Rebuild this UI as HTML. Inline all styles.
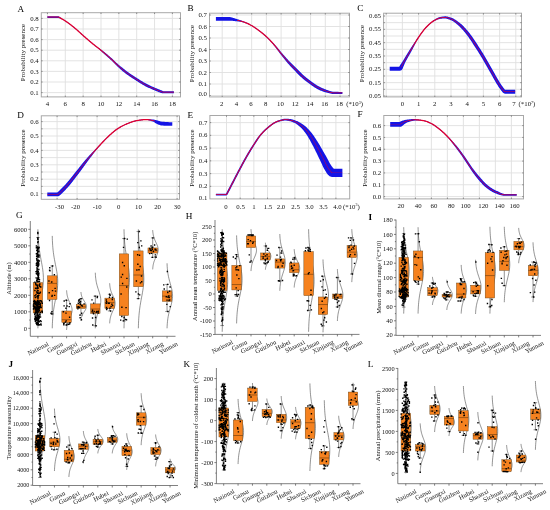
<!DOCTYPE html>
<html><head><meta charset="utf-8"><title>Figure</title>
<style>html,body{margin:0;padding:0;background:#fff;}svg{display:block;font-family:'Liberation Serif','Times New Roman',serif;}</style>
</head><body>
<svg width="550" height="510" viewBox="0 0 550 510">
<rect width="550" height="510" fill="#fff"/>
<path d="M47.45 12.7V96.9M65.3 12.7V96.9M83.15 12.7V96.9M101 12.7V96.9M118.85 12.7V96.9M136.7 12.7V96.9M154.55 12.7V96.9M172.4 12.7V96.9M41.3 92.6H180.5M41.3 82H180.5M41.3 71.4H180.5M41.3 60.8H180.5M41.3 50.2H180.5M41.3 39.6H180.5M41.3 29H180.5M41.3 18.4H180.5" stroke="#e0e0e0" stroke-width="0.9" fill="none"/>
<rect x="41.3" y="12.7" width="139.2" height="84.2" fill="none" stroke="#a8a8a8" stroke-width="1"/>
<path d="M47.45 12.7v1.3M47.45 96.9v-1.3M65.3 12.7v1.3M65.3 96.9v-1.3M83.15 12.7v1.3M83.15 96.9v-1.3M101 12.7v1.3M101 96.9v-1.3M118.85 12.7v1.3M118.85 96.9v-1.3M136.7 12.7v1.3M136.7 96.9v-1.3M154.55 12.7v1.3M154.55 96.9v-1.3M172.4 12.7v1.3M172.4 96.9v-1.3M41.3 92.6h1.3M180.5 92.6h-1.3M41.3 82h1.3M180.5 82h-1.3M41.3 71.4h1.3M180.5 71.4h-1.3M41.3 60.8h1.3M180.5 60.8h-1.3M41.3 50.2h1.3M180.5 50.2h-1.3M41.3 39.6h1.3M180.5 39.6h-1.3M41.3 29h1.3M180.5 29h-1.3M41.3 18.4h1.3M180.5 18.4h-1.3" stroke="#555" stroke-width="0.6" fill="none"/>
<polygon points="47.4,17.91 47.9,17.91 48.4,17.91 48.9,17.91 49.4,17.91 49.9,17.91 50.4,17.91 50.9,17.91 51.4,17.91 51.9,17.91 52.4,17.91 52.9,17.91 53.4,17.91 53.9,17.91 54.4,17.91 54.9,17.91 55.4,17.91 55.9,17.91 56.4,17.91 56.9,17.91 57.4,17.91 57.9,17.91 58.23,17.88 58.57,17.97 59.08,18.14 59.62,18.31 60.16,18.49 60.71,18.68 61.24,18.89 61.75,19.15 62.25,19.44 62.75,19.73 63.24,20.03 63.74,20.34 64.24,20.65 64.74,20.96 65.24,21.28 65.73,21.61 66.23,21.94 66.73,22.28 67.23,22.63 67.73,22.98 68.22,23.34 68.72,23.71 69.22,24.08 69.72,24.45 70.22,24.83 70.72,25.21 71.22,25.6 71.71,25.99 72.21,26.39 72.71,26.78 73.21,27.19 73.71,27.59 74.21,28 74.71,28.4 75.21,28.81 75.71,29.23 76.2,29.66 76.7,30.09 77.2,30.53 77.7,30.98 78.2,31.44 78.7,31.89 79.2,32.35 79.7,32.82 80.2,33.28 80.7,33.74 81.2,34.2 81.7,34.66 82.2,35.11 82.7,35.56 83.2,36 83.7,36.44 84.2,36.88 84.7,37.31 85.2,37.75 85.7,38.19 86.2,38.62 86.7,39.06 87.2,39.49 87.7,39.92 88.2,40.35 88.71,40.78 89.21,41.2 89.71,41.63 90.21,42.05 90.71,42.47 91.21,42.89 91.71,43.31 92.21,43.72 92.71,44.13 93.21,44.54 93.71,44.94 94.21,45.34 94.71,45.73 95.22,46.13 95.72,46.51 96.21,46.9 96.71,47.3 97.19,47.7 97.68,48.11 98.16,48.52 98.63,48.94 99.1,49.37 99.58,49.8 100.05,50.23 100.52,50.67 100.99,51.11 101.46,51.55 101.94,51.99 102.42,52.43 102.9,52.87 103.39,53.3 103.88,53.72 104.37,54.15 104.86,54.58 105.36,55.01 105.85,55.44 106.35,55.88 106.84,56.31 107.33,56.75 107.83,57.19 108.32,57.63 108.82,58.08 109.32,58.53 109.81,58.98 110.3,59.43 110.79,59.89 111.29,60.35 111.78,60.83 112.27,61.31 112.77,61.8 113.26,62.29 113.75,62.78 114.25,63.28 114.75,63.77 115.24,64.26 115.74,64.76 116.23,65.25 116.73,65.73 117.22,66.21 117.71,66.69 118.2,67.15 118.69,67.61 119.17,68.07 119.66,68.52 120.15,68.97 120.63,69.42 121.13,69.86 121.62,70.3 122.12,70.72 122.61,71.15 123.12,71.56 123.62,71.97 124.13,72.37 124.63,72.76 125.14,73.15 125.65,73.53 126.16,73.91 126.66,74.28 127.17,74.65 127.67,75.01 128.18,75.36 128.68,75.71 129.19,76.06 129.69,76.4 130.2,76.74 130.7,77.08 131.2,77.41 131.7,77.74 132.21,78.07 132.71,78.39 133.21,78.72 133.71,79.04 134.21,79.36 134.71,79.68 135.21,80 135.71,80.32 136.21,80.64 136.71,80.96 137.21,81.28 137.71,81.6 138.21,81.92 138.71,82.24 139.21,82.56 139.71,82.88 140.22,83.19 140.72,83.51 141.23,83.82 141.73,84.12 142.24,84.43 142.75,84.73 143.26,85.02 143.77,85.31 144.28,85.6 144.79,85.88 145.3,86.15 145.81,86.41 146.32,86.67 146.83,86.92 147.34,87.17 147.84,87.41 148.35,87.65 148.86,87.89 149.36,88.12 149.87,88.34 150.37,88.57 150.88,88.79 151.38,89.01 151.88,89.23 152.39,89.45 152.89,89.66 153.39,89.88 153.89,90.09 154.39,90.31 154.89,90.52 155.4,90.73 155.9,90.94 156.4,91.15 156.91,91.36 157.41,91.57 157.91,91.77 158.42,91.97 158.92,92.17 159.42,92.37 159.93,92.56 160.44,92.74 160.96,92.91 161.47,93.06 162.1,93.25 162.82,93.31 163.4,93.27 163.9,93.24 164.4,93.21 164.9,93.2 165.4,93.2 165.9,93.2 166.4,93.2 166.9,93.2 167.4,93.2 167.9,93.2 168.4,93.2 168.9,93.2 169.4,93.2 169.9,93.2 170.4,93.2 170.9,93.2 171.4,93.2 171.9,93.2 172.4,93.2 172.9,93.2 173.4,93.2 173.9,93.2 173.9,91.2 173.4,91.2 172.9,91.2 172.4,91.2 171.9,91.2 171.4,91.2 170.9,91.2 170.4,91.2 169.9,91.2 169.4,91.2 168.9,91.2 168.4,91.2 167.9,91.2 167.4,91.2 166.9,91.2 166.4,91.2 165.9,91.2 165.4,91.2 164.9,91.2 164.4,91.19 163.9,91.16 163.4,91.13 162.98,91.09 162.7,91 162.33,90.81 161.84,90.58 161.36,90.36 160.87,90.15 160.38,89.95 159.88,89.76 159.38,89.56 158.89,89.36 158.39,89.16 157.89,88.96 157.4,88.75 156.9,88.55 156.4,88.34 155.91,88.13 155.41,87.92 154.91,87.71 154.41,87.49 153.91,87.28 153.41,87.06 152.92,86.85 152.42,86.63 151.92,86.42 151.43,86.2 150.93,85.98 150.44,85.75 149.94,85.53 149.45,85.3 148.96,85.07 148.46,84.83 147.97,84.6 147.48,84.35 146.99,84.1 146.5,83.85 146.01,83.6 145.52,83.33 145.03,83.06 144.54,82.78 144.05,82.5 143.56,82.21 143.07,81.91 142.57,81.62 142.08,81.31 141.58,81.01 141.09,80.7 140.59,80.38 140.09,80.07 139.59,79.75 139.09,79.43 138.59,79.11 138.09,78.79 137.59,78.47 137.09,78.16 136.59,77.84 136.09,77.52 135.59,77.2 135.09,76.89 134.59,76.57 134.09,76.25 133.59,75.93 133.1,75.61 132.6,75.28 132.1,74.96 131.6,74.63 131.11,74.3 130.61,73.96 130.12,73.63 129.62,73.28 129.13,72.94 128.63,72.59 128.14,72.24 127.64,71.88 127.15,71.52 126.66,71.15 126.17,70.77 125.67,70.39 125.18,70.01 124.68,69.61 124.19,69.22 123.68,68.82 123.18,68.42 122.67,68.02 122.17,67.61 121.65,67.21 121.14,66.8 120.63,66.39 120.11,65.97 119.6,65.56 119.09,65.14 118.58,64.71 118.07,64.28 117.57,63.83 117.06,63.37 116.56,62.9 116.05,62.42 115.55,61.94 115.05,61.46 114.54,60.98 114.03,60.49 113.53,60.01 113.02,59.53 112.51,59.05 112.01,58.58 111.5,58.12 110.99,57.66 110.48,57.22 109.98,56.77 109.48,56.33 108.97,55.89 108.47,55.46 107.96,55.03 107.45,54.6 106.95,54.17 106.44,53.74 105.94,53.32 105.43,52.9 104.92,52.49 104.41,52.07 103.9,51.67 103.38,51.27 102.86,50.88 102.34,50.49 101.81,50.11 101.28,49.73 100.75,49.35 100.22,48.99 99.7,48.62 99.17,48.26 98.64,47.9 98.12,47.54 97.61,47.17 97.09,46.8 96.59,46.42 96.08,46.04 95.58,45.65 95.09,45.26 94.59,44.87 94.09,44.47 93.59,44.07 93.09,43.67 92.59,43.26 92.09,42.84 91.59,42.43 91.09,42.01 90.59,41.59 90.09,41.17 89.59,40.75 89.09,40.32 88.6,39.89 88.1,39.46 87.6,39.03 87.1,38.6 86.6,38.17 86.1,37.73 85.6,37.3 85.1,36.86 84.6,36.43 84.1,35.99 83.6,35.55 83.1,35.11 82.6,34.67 82.1,34.22 81.6,33.76 81.1,33.3 80.6,32.84 80.1,32.38 79.6,31.91 79.1,31.45 78.6,30.99 78.1,30.54 77.6,30.09 77.1,29.64 76.6,29.2 76.09,28.77 75.59,28.35 75.09,27.94 74.59,27.53 74.09,27.12 73.59,26.72 73.09,26.32 72.59,25.92 72.09,25.52 71.58,25.13 71.08,24.74 70.58,24.35 70.08,23.97 69.58,23.59 69.08,23.22 68.58,22.86 68.07,22.49 67.57,22.14 67.07,21.79 66.57,21.45 66.07,21.11 65.56,20.78 65.06,20.45 64.56,20.14 64.06,19.82 63.56,19.52 63.05,19.22 62.55,18.92 62.05,18.63 61.56,18.31 61.09,17.97 60.64,17.62 60.18,17.26 59.72,16.9 59.23,16.55 58.57,16.24 57.9,16.21 57.4,16.21 56.9,16.21 56.4,16.21 55.9,16.21 55.4,16.21 54.9,16.21 54.4,16.21 53.9,16.21 53.4,16.21 52.9,16.21 52.4,16.21 51.9,16.21 51.4,16.21 50.9,16.21 50.4,16.21 49.9,16.21 49.4,16.21 48.9,16.21 48.4,16.21 47.9,16.21 47.4,16.21" fill="#1414e6"/>
<polygon points="47.4,17.54 47.9,17.54 48.4,17.54 48.9,17.54 49.4,17.54 49.9,17.54 50.4,17.54 50.9,17.54 51.4,17.54 51.9,17.54 52.4,17.54 52.9,17.54 53.4,17.54 53.9,17.54 54.4,17.54 54.9,17.54 55.4,17.54 55.9,17.54 56.4,17.54 56.9,17.54 57.4,17.54 57.9,17.54 58.3,17.54 58.69,17.72 59.15,18 59.63,18.3 60.1,18.6 60.59,18.89 61.09,19.16 61.58,19.44 62.08,19.73 62.57,20.02 63.07,20.32 63.56,20.62 64.06,20.93 64.56,21.25 65.05,21.57 65.55,21.89 66.04,22.22 66.54,22.56 67.03,22.91 67.53,23.26 68.02,23.62 68.52,23.98 69.02,24.35 69.51,24.72 70.01,25.1 70.51,25.48 71.01,25.87 71.5,26.26 72,26.65 72.5,27.05 73,27.45 73.5,27.85 74,28.26 74.49,28.67 74.99,29.08 75.49,29.49 75.98,29.91 76.48,30.35 76.97,30.79 77.47,31.23 77.97,31.69 78.47,32.14 78.97,32.6 79.47,33.07 79.97,33.53 80.47,33.99 80.97,34.45 81.47,34.91 81.97,35.37 82.48,35.81 82.98,36.26 83.48,36.7 83.98,37.13 84.48,37.57 84.98,38.01 85.48,38.44 85.98,38.88 86.48,39.31 86.98,39.75 87.48,40.18 87.98,40.61 88.48,41.04 88.99,41.46 89.49,41.89 89.99,42.31 90.49,42.73 90.99,43.15 91.49,43.57 91.99,43.98 92.49,44.4 93,44.8 93.5,45.21 94,45.61 94.51,46 95.01,46.39 95.51,46.78 96.01,47.17 96.51,47.56 97.01,47.94 97.51,48.33 98.01,48.72 98.51,49.11 99.01,49.49 99.52,49.87 100.03,50.26 100.53,50.65 101.04,51.04 101.55,51.44 102.06,51.84 102.57,52.25 103.07,52.66 103.58,53.07 104.08,53.49 104.58,53.9 105.08,54.32 105.58,54.75 106.09,55.17 106.59,55.6 107.09,56.03 107.59,56.46 108.09,56.9 108.59,57.34 109.09,57.78 109.59,58.22 110.09,58.67 110.59,59.12 111.08,59.57 111.58,60.04 112.08,60.51 112.58,60.99 113.08,61.47 113.58,61.96 114.08,62.44 114.59,62.93 115.09,63.42 115.59,63.9 116.1,64.38 116.6,64.85 117.11,65.31 117.62,65.77 118.13,66.21 118.64,66.65 119.15,67.08 119.65,67.51 120.16,67.94 120.67,68.36 121.18,68.78 121.68,69.2 122.19,69.61 122.69,70.02 123.2,70.43 123.7,70.84 124.2,71.24 124.7,71.63 125.21,72.02 125.71,72.4 126.21,72.78 126.71,73.15 127.21,73.52 127.72,73.88 128.22,74.23 128.72,74.58 129.22,74.93 129.72,75.27 130.23,75.61 130.73,75.94 131.23,76.28 131.73,76.61 132.23,76.93 132.73,77.26 133.23,77.58 133.73,77.9 134.23,78.22 134.73,78.54 135.23,78.86 135.73,79.18 136.23,79.5 136.73,79.81 137.23,80.13 137.73,80.45 138.24,80.77 138.74,81.09 139.24,81.41 139.74,81.73 140.24,82.04 140.74,82.36 141.24,82.67 141.74,82.98 142.24,83.28 142.75,83.58 143.25,83.88 143.75,84.17 144.25,84.45 144.75,84.73 145.26,85 145.76,85.27 146.26,85.53 146.76,85.78 147.27,86.03 147.77,86.27 148.27,86.51 148.77,86.75 149.27,86.98 149.78,87.21 150.28,87.44 150.78,87.66 151.28,87.88 151.78,88.1 152.28,88.32 152.78,88.53 153.28,88.75 153.78,88.96 154.28,89.18 154.78,89.39 155.28,89.6 155.78,89.81 156.28,90.02 156.79,90.23 157.29,90.44 157.79,90.64 158.29,90.84 158.79,91.04 159.29,91.24 159.79,91.44 160.29,91.64 160.79,91.84 161.28,92.05 161.78,92.25 162.31,92.47 162.87,92.57 163.4,92.59 163.9,92.61 164.4,92.62 164.9,92.62 165.4,92.62 165.9,92.62 166.4,92.62 166.9,92.62 167.4,92.62 167.9,92.62 168.4,92.62 168.9,92.62 169.4,92.62 169.9,92.62 170.4,92.62 170.9,92.62 171.4,92.62 171.9,92.62 172.4,92.62 172.9,92.62 173.4,92.62 173.9,92.62 173.9,91.78 173.4,91.78 172.9,91.78 172.4,91.78 171.9,91.78 171.4,91.78 170.9,91.78 170.4,91.78 169.9,91.78 169.4,91.78 168.9,91.78 168.4,91.78 167.9,91.78 167.4,91.78 166.9,91.78 166.4,91.78 165.9,91.78 165.4,91.78 164.9,91.78 164.4,91.78 163.9,91.79 163.4,91.81 162.93,91.83 162.49,91.78 162.02,91.62 161.52,91.44 161.01,91.26 160.51,91.08 160.01,90.88 159.51,90.69 159.01,90.49 158.51,90.29 158.01,90.08 157.51,89.88 157.01,89.68 156.52,89.47 156.02,89.26 155.52,89.05 155.02,88.84 154.52,88.62 154.02,88.41 153.52,88.2 153.02,87.98 152.52,87.76 152.02,87.55 151.52,87.33 151.02,87.11 150.52,86.89 150.02,86.66 149.53,86.43 149.03,86.2 148.53,85.97 148.03,85.73 147.53,85.49 147.04,85.24 146.54,84.99 146.04,84.73 145.54,84.47 145.05,84.2 144.55,83.92 144.05,83.64 143.55,83.35 143.05,83.06 142.56,82.76 142.06,82.46 141.56,82.15 141.06,81.84 140.56,81.53 140.06,81.21 139.56,80.89 139.06,80.58 138.56,80.26 138.07,79.94 137.57,79.62 137.07,79.3 136.57,78.98 136.07,78.66 135.57,78.34 135.07,78.02 134.57,77.7 134.07,77.38 133.57,77.06 133.07,76.74 132.57,76.41 132.07,76.09 131.57,75.76 131.07,75.42 130.57,75.09 130.08,74.75 129.58,74.41 129.08,74.07 128.58,73.72 128.08,73.36 127.59,73 127.09,72.64 126.59,72.27 126.09,71.9 125.59,71.52 125.1,71.13 124.6,70.74 124.1,70.34 123.6,69.93 123.11,69.52 122.61,69.1 122.12,68.68 121.62,68.25 121.13,67.82 120.64,67.38 120.15,66.94 119.65,66.5 119.16,66.06 118.67,65.61 118.18,65.16 117.69,64.69 117.2,64.22 116.7,63.75 116.21,63.26 115.71,62.78 115.21,62.29 114.72,61.8 114.22,61.31 113.72,60.82 113.22,60.33 112.72,59.85 112.22,59.37 111.72,58.89 111.21,58.43 110.71,57.97 110.21,57.52 109.71,57.07 109.21,56.63 108.71,56.19 108.21,55.75 107.71,55.31 107.21,54.87 106.71,54.44 106.22,54.01 105.72,53.58 105.22,53.15 104.72,52.73 104.22,52.3 103.73,51.88 103.23,51.45 102.74,51.03 102.25,50.6 101.76,50.18 101.27,49.75 100.77,49.33 100.28,48.91 99.79,48.5 99.29,48.1 98.79,47.71 98.29,47.32 97.79,46.93 97.29,46.54 96.79,46.16 96.29,45.77 95.79,45.38 95.29,44.99 94.8,44.6 94.3,44.21 93.8,43.81 93.31,43.4 92.81,43 92.31,42.58 91.81,42.17 91.31,41.75 90.81,41.33 90.31,40.91 89.81,40.49 89.32,40.06 88.82,39.64 88.32,39.21 87.82,38.78 87.32,38.34 86.82,37.91 86.32,37.48 85.82,37.04 85.32,36.61 84.82,36.17 84.32,35.73 83.82,35.29 83.32,34.86 82.83,34.41 82.33,33.96 81.83,33.51 81.33,33.05 80.83,32.59 80.33,32.13 79.83,31.66 79.33,31.2 78.83,30.74 78.33,30.28 77.83,29.83 77.32,29.39 76.82,28.94 76.31,28.51 75.81,28.09 75.31,27.68 74.8,27.27 74.3,26.86 73.8,26.45 73.3,26.05 72.8,25.65 72.3,25.25 71.79,24.86 71.29,24.47 70.79,24.08 70.29,23.7 69.78,23.32 69.28,22.95 68.78,22.58 68.27,22.22 67.77,21.86 67.26,21.51 66.76,21.16 66.25,20.83 65.75,20.49 65.24,20.17 64.74,19.85 64.24,19.54 63.73,19.23 63.23,18.92 62.72,18.63 62.22,18.33 61.71,18.05 61.21,17.77 60.7,17.5 60.17,17.27 59.65,17.04 59.11,16.8 58.5,16.58 57.9,16.58 57.4,16.58 56.9,16.58 56.4,16.58 55.9,16.58 55.4,16.58 54.9,16.58 54.4,16.58 53.9,16.58 53.4,16.58 52.9,16.58 52.4,16.58 51.9,16.58 51.4,16.58 50.9,16.58 50.4,16.58 49.9,16.58 49.4,16.58 48.9,16.58 48.4,16.58 47.9,16.58 47.4,16.58" fill="#e4002c"/>
<text x="47.45" y="105.8" font-size="6.8" text-anchor="middle" fill="#111">4</text>
<text x="65.3" y="105.8" font-size="6.8" text-anchor="middle" fill="#111">6</text>
<text x="83.15" y="105.8" font-size="6.8" text-anchor="middle" fill="#111">8</text>
<text x="101" y="105.8" font-size="6.8" text-anchor="middle" fill="#111">10</text>
<text x="118.85" y="105.8" font-size="6.8" text-anchor="middle" fill="#111">12</text>
<text x="136.7" y="105.8" font-size="6.8" text-anchor="middle" fill="#111">14</text>
<text x="154.55" y="105.8" font-size="6.8" text-anchor="middle" fill="#111">16</text>
<text x="172.4" y="105.8" font-size="6.8" text-anchor="middle" fill="#111">18</text>
<text x="38.7" y="94.7" font-size="6.8" text-anchor="end" fill="#111">0.1</text>
<text x="38.7" y="84.1" font-size="6.8" text-anchor="end" fill="#111">0.2</text>
<text x="38.7" y="73.5" font-size="6.8" text-anchor="end" fill="#111">0.3</text>
<text x="38.7" y="62.9" font-size="6.8" text-anchor="end" fill="#111">0.4</text>
<text x="38.7" y="52.3" font-size="6.8" text-anchor="end" fill="#111">0.5</text>
<text x="38.7" y="41.7" font-size="6.8" text-anchor="end" fill="#111">0.6</text>
<text x="38.7" y="31.1" font-size="6.8" text-anchor="end" fill="#111">0.7</text>
<text x="38.7" y="20.5" font-size="6.8" text-anchor="end" fill="#111">0.8</text>
<text x="25.2" y="52.5" font-size="7" text-anchor="middle" fill="#111" transform="rotate(-90 25.2 52.5)">Probability presence</text>
<text x="17.4" y="11.6" font-size="9.2" text-anchor="start" fill="#000">A</text>
<path d="M222.2 13.2V96.9M236.93 13.2V96.9M251.66 13.2V96.9M266.39 13.2V96.9M281.12 13.2V96.9M295.85 13.2V96.9M310.58 13.2V96.9M325.31 13.2V96.9M340.04 13.2V96.9M209.5 95.5H349.5M209.5 84H349.5M209.5 72.5H349.5M209.5 61H349.5M209.5 49.5H349.5M209.5 38H349.5M209.5 26.5H349.5M209.5 15H349.5" stroke="#e0e0e0" stroke-width="0.9" fill="none"/>
<rect x="209.5" y="13.2" width="140" height="83.7" fill="none" stroke="#a8a8a8" stroke-width="1"/>
<path d="M222.2 13.2v1.3M222.2 96.9v-1.3M236.93 13.2v1.3M236.93 96.9v-1.3M251.66 13.2v1.3M251.66 96.9v-1.3M266.39 13.2v1.3M266.39 96.9v-1.3M281.12 13.2v1.3M281.12 96.9v-1.3M295.85 13.2v1.3M295.85 96.9v-1.3M310.58 13.2v1.3M310.58 96.9v-1.3M325.31 13.2v1.3M325.31 96.9v-1.3M340.04 13.2v1.3M340.04 96.9v-1.3M209.5 95.5h1.3M349.5 95.5h-1.3M209.5 84h1.3M349.5 84h-1.3M209.5 72.5h1.3M349.5 72.5h-1.3M209.5 61h1.3M349.5 61h-1.3M209.5 49.5h1.3M349.5 49.5h-1.3M209.5 38h1.3M349.5 38h-1.3M209.5 26.5h1.3M349.5 26.5h-1.3M209.5 15h1.3M349.5 15h-1.3" stroke="#555" stroke-width="0.6" fill="none"/>
<polygon points="215.9,20.7 216.4,20.7 216.9,20.7 217.4,20.7 217.9,20.7 218.4,20.7 218.9,20.7 219.4,20.7 219.9,20.7 220.4,20.7 220.9,20.7 221.4,20.7 221.9,20.7 222.4,20.7 222.9,20.7 223.4,20.7 223.9,20.7 224.4,20.7 224.9,20.7 225.4,20.7 225.9,20.7 226.4,20.7 226.9,20.7 227.4,20.7 227.89,20.7 228.35,20.7 228.8,20.7 229.25,20.71 229.71,20.71 230.18,20.72 230.65,20.74 231.13,20.76 231.62,20.79 232.11,20.82 232.61,20.86 233.11,20.91 233.61,20.96 234.11,21.02 234.62,21.08 235.14,21.14 235.65,21.2 236.17,21.25 236.68,21.3 237.19,21.34 237.69,21.4 238.2,21.45 238.7,21.52 239.2,21.59 239.71,21.67 240.21,21.76 240.71,21.85 241.21,21.95 241.72,22.05 242.22,22.16 242.72,22.28 243.23,22.41 243.73,22.54 244.23,22.69 244.73,22.85 245.23,23.02 245.73,23.2 246.22,23.4 246.72,23.61 247.22,23.83 247.73,24.05 248.23,24.28 248.73,24.52 249.23,24.77 249.73,25.02 250.23,25.28 250.73,25.54 251.23,25.81 251.73,26.08 252.22,26.37 252.72,26.67 253.21,26.98 253.71,27.3 254.21,27.63 254.7,27.97 255.2,28.31 255.7,28.66 256.19,29.01 256.69,29.37 257.19,29.73 257.69,30.09 258.19,30.45 258.69,30.82 259.18,31.19 259.68,31.57 260.18,31.95 260.68,32.34 261.17,32.73 261.67,33.13 262.17,33.53 262.66,33.94 263.16,34.35 263.66,34.77 264.15,35.2 264.65,35.63 265.14,36.07 265.64,36.52 266.14,36.97 266.63,37.43 267.13,37.91 267.62,38.39 268.12,38.89 268.61,39.39 269.1,39.91 269.59,40.43 270.08,40.96 270.57,41.5 271.06,42.05 271.54,42.61 272.03,43.17 272.51,43.74 272.99,44.31 273.47,44.89 273.95,45.47 274.43,46.07 274.91,46.69 275.39,47.32 275.87,47.95 276.34,48.6 276.82,49.25 277.3,49.9 277.78,50.55 278.27,51.2 278.75,51.85 279.23,52.5 279.72,53.14 280.21,53.77 280.69,54.39 281.18,55.01 281.66,55.63 282.14,56.26 282.62,56.88 283.11,57.5 283.59,58.12 284.07,58.73 284.56,59.34 285.04,59.95 285.53,60.55 286.02,61.15 286.51,61.74 287,62.32 287.49,62.89 287.98,63.45 288.47,64.01 288.96,64.55 289.45,65.1 289.94,65.64 290.43,66.17 290.92,66.7 291.41,67.23 291.9,67.76 292.38,68.28 292.87,68.8 293.36,69.31 293.85,69.83 294.35,70.34 294.84,70.85 295.33,71.36 295.83,71.87 296.33,72.38 296.83,72.89 297.33,73.4 297.83,73.91 298.34,74.42 298.84,74.93 299.35,75.43 299.86,75.93 300.37,76.42 300.88,76.9 301.39,77.37 301.91,77.83 302.42,78.27 302.93,78.71 303.44,79.14 303.95,79.56 304.45,79.98 304.96,80.39 305.47,80.79 305.98,81.19 306.48,81.58 306.99,81.97 307.5,82.35 308,82.73 308.51,83.11 309.02,83.48 309.52,83.84 310.02,84.2 310.52,84.57 311.02,84.93 311.53,85.29 312.03,85.65 312.54,86.01 313.05,86.36 313.56,86.71 314.07,87.05 314.59,87.39 315.11,87.72 315.63,88.04 316.15,88.35 316.68,88.64 317.2,88.93 317.72,89.19 318.23,89.45 318.74,89.71 319.26,89.95 319.77,90.19 320.29,90.43 320.8,90.65 321.32,90.86 321.84,91.07 322.36,91.27 322.88,91.46 323.4,91.64 323.92,91.81 324.44,91.98 324.96,92.13 325.48,92.28 325.99,92.43 326.51,92.57 327.02,92.71 327.53,92.84 328.05,92.98 328.57,93.1 329.08,93.23 329.6,93.35 330.11,93.46 330.63,93.57 331.14,93.68 331.66,93.79 332.17,93.89 332.79,94 333.4,93.99 333.9,93.99 334.4,93.98 334.9,93.97 335.4,93.96 335.9,93.96 336.4,93.95 336.9,93.94 337.4,93.94 337.9,93.93 338.4,93.93 338.9,93.92 339.4,93.92 339.9,93.91 340.4,93.91 340.9,93.91 341.4,93.9 341.9,93.9 342.4,93.9 342.4,91.9 341.9,91.9 341.4,91.9 340.9,91.89 340.4,91.89 339.9,91.89 339.4,91.88 338.9,91.88 338.4,91.87 337.9,91.87 337.4,91.86 336.9,91.86 336.4,91.85 335.9,91.84 335.4,91.84 334.9,91.83 334.4,91.82 333.9,91.81 333.4,91.81 333.01,91.8 332.63,91.71 332.14,91.59 331.66,91.47 331.17,91.34 330.69,91.2 330.2,91.06 329.72,90.91 329.23,90.75 328.75,90.59 328.27,90.42 327.78,90.25 327.29,90.08 326.81,89.9 326.32,89.72 325.84,89.54 325.36,89.35 324.88,89.16 324.4,88.97 323.92,88.77 323.44,88.56 322.96,88.35 322.48,88.14 322,87.92 321.51,87.7 321.03,87.47 320.54,87.24 320.06,87.01 319.57,86.77 319.08,86.52 318.6,86.27 318.12,86.02 317.65,85.75 317.17,85.47 316.69,85.17 316.21,84.87 315.73,84.55 315.24,84.23 314.75,83.89 314.26,83.55 313.77,83.2 313.27,82.85 312.78,82.49 312.28,82.13 311.78,81.77 311.28,81.41 310.78,81.05 310.29,80.69 309.8,80.33 309.3,79.96 308.81,79.58 308.32,79.21 307.82,78.82 307.33,78.44 306.84,78.05 306.35,77.65 305.85,77.25 305.36,76.84 304.87,76.42 304.38,76 303.89,75.57 303.41,75.14 302.92,74.7 302.43,74.24 301.94,73.77 301.45,73.29 300.96,72.8 300.46,72.31 299.97,71.81 299.47,71.3 298.97,70.79 298.47,70.28 297.97,69.77 297.47,69.26 296.96,68.75 296.45,68.25 295.95,67.75 295.44,67.26 294.93,66.77 294.42,66.27 293.9,65.78 293.39,65.29 292.88,64.79 292.37,64.29 291.86,63.79 291.35,63.29 290.84,62.77 290.33,62.26 289.82,61.74 289.31,61.22 288.8,60.68 288.29,60.15 287.78,59.6 287.27,59.05 286.76,58.49 286.24,57.92 285.73,57.34 285.21,56.76 284.69,56.18 284.18,55.59 283.66,55 283.14,54.41 282.62,53.82 282.11,53.22 281.59,52.63 281.08,52.04 280.57,51.44 280.05,50.82 279.53,50.21 279.02,49.59 278.5,48.96 277.98,48.34 277.46,47.72 276.93,47.1 276.41,46.49 275.89,45.89 275.37,45.29 274.85,44.71 274.33,44.14 273.81,43.59 273.29,43.04 272.77,42.49 272.26,41.95 271.74,41.42 271.23,40.89 270.72,40.36 270.21,39.84 269.7,39.33 269.19,38.82 268.68,38.32 268.18,37.82 267.67,37.34 267.17,36.86 266.66,36.4 266.16,35.94 265.66,35.49 265.15,35.05 264.65,34.62 264.14,34.19 263.64,33.77 263.14,33.36 262.63,32.95 262.13,32.55 261.63,32.15 261.12,31.76 260.62,31.37 260.12,30.99 259.62,30.62 259.11,30.24 258.61,29.87 258.11,29.51 257.61,29.15 257.11,28.79 256.61,28.43 256.1,28.08 255.6,27.73 255.1,27.38 254.59,27.04 254.09,26.71 253.59,26.39 253.08,26.07 252.58,25.77 252.07,25.48 251.57,25.19 251.07,24.92 250.57,24.64 250.07,24.37 249.57,24.1 249.07,23.84 248.57,23.58 248.07,23.32 247.58,23.07 247.08,22.83 246.58,22.6 246.07,22.37 245.57,22.15 245.07,21.93 244.57,21.72 244.07,21.52 243.57,21.33 243.08,21.14 242.58,20.96 242.08,20.78 241.59,20.6 241.09,20.43 240.59,20.26 240.09,20.1 239.6,19.94 239.1,19.78 238.6,19.62 238.11,19.46 237.61,19.3 237.12,19.14 236.63,18.99 236.15,18.83 235.66,18.68 235.18,18.52 234.69,18.36 234.19,18.21 233.69,18.05 233.19,17.9 232.69,17.74 232.18,17.59 231.67,17.45 231.15,17.32 230.62,17.2 230.09,17.09 229.55,17.01 229,16.95 228.45,16.91 227.91,16.9 227.4,16.9 226.9,16.9 226.4,16.9 225.9,16.9 225.4,16.9 224.9,16.9 224.4,16.9 223.9,16.9 223.4,16.9 222.9,16.9 222.4,16.9 221.9,16.9 221.4,16.9 220.9,16.9 220.4,16.9 219.9,16.9 219.4,16.9 218.9,16.9 218.4,16.9 217.9,16.9 217.4,16.9 216.9,16.9 216.4,16.9 215.9,16.9" fill="#1414e6"/>
<polygon points="215.9,18.8 216.4,18.8 216.9,18.8 217.4,18.8 217.9,18.8 218.4,18.8 218.9,18.8 219.4,18.8 219.9,18.8 220.4,18.8 220.9,18.8 221.4,18.8 221.9,18.8 222.4,18.8 222.9,18.8 223.4,18.8 223.9,18.8 224.4,18.8 224.9,18.8 225.4,18.8 225.9,18.8 226.4,18.8 226.9,18.8 227.4,18.8 227.9,18.8 228.4,18.8 228.9,18.82 229.4,18.86 229.9,18.9 230.4,18.96 230.9,19.03 231.4,19.11 231.9,19.19 232.4,19.28 232.9,19.38 233.4,19.48 233.9,19.59 234.4,19.69 234.9,19.8 235.4,19.91 235.9,20.02 236.4,20.12 236.9,20.22 237.32,20.72 237.81,20.84 238.3,20.97 238.8,21.1 239.29,21.23 239.78,21.37 240.27,21.51 240.76,21.65 241.26,21.8 241.75,21.95 242.24,22.11 242.73,22.27 243.22,22.44 243.71,22.61 244.19,22.79 244.68,22.97 245.17,23.17 245.65,23.38 246.15,23.59 246.64,23.8 247.13,24.03 247.62,24.26 248.12,24.5 248.61,24.75 249.11,25 249.6,25.26 250.1,25.53 250.6,25.79 251.09,26.06 251.58,26.34 252.07,26.62 252.56,26.92 253.06,27.23 253.55,27.54 254.04,27.87 254.54,28.2 255.04,28.54 255.53,28.89 256.03,29.24 256.53,29.6 257.03,29.96 257.52,30.32 258.02,30.68 258.52,31.05 259.02,31.42 259.51,31.79 260.01,32.17 260.51,32.55 261,32.94 261.5,33.34 262,33.74 262.49,34.14 262.99,34.55 263.49,34.97 263.98,35.39 264.48,35.82 264.98,36.26 265.47,36.7 265.97,37.15 266.46,37.61 266.96,38.08 267.45,38.56 267.95,39.05 268.44,39.55 268.94,40.06 269.44,40.58 269.93,41.1 270.43,41.63 270.93,42.16 271.44,42.7 271.94,43.25 272.45,43.8 272.95,44.35 273.45,44.9 273.96,45.47 274.46,46.05 274.96,46.65 275.47,47.25 275.97,47.87 276.48,48.49 276.99,49.12 277.49,49.75 278,50.38 278.51,51.01 279.02,51.64 279.53,52.27 280.03,52.88 280.54,53.49 281.05,54.09 281.56,54.7 282.06,55.3 282.57,55.9 283.08,56.5 283.59,57.1 284.09,57.7 284.6,58.29 285.11,58.88 285.62,59.46 286.13,60.04 286.64,60.61 287.14,61.17 287.65,61.72 288.16,62.27 288.67,62.81 289.17,63.34 289.68,63.87 290.18,64.4 290.69,64.92 291.19,65.44 291.69,65.95 292.19,66.46 292.69,66.97 293.19,67.48 293.7,67.98 294.2,68.49 294.7,68.99 295.2,69.49 295.7,70 296.2,70.51 296.7,71.01 297.2,71.53 297.7,72.04 298.2,72.55 298.7,73.06 299.2,73.56 299.7,74.07 300.2,74.56 300.7,75.05 301.21,75.53 301.71,76 302.21,76.46 302.71,76.91 303.22,77.35 303.72,77.78 304.22,78.2 304.72,78.62 305.22,79.03 305.72,79.44 306.22,79.84 306.73,80.23 307.23,80.62 307.73,81 308.23,81.38 308.73,81.76 309.23,82.13 309.73,82.49 310.23,82.86 310.73,83.22 311.23,83.58 311.74,83.94 312.24,84.3 312.74,84.66 313.24,85.01 313.74,85.36 314.24,85.7 314.74,86.04 315.25,86.37 315.75,86.69 316.25,87 316.76,87.29 317.26,87.58 317.77,87.85 318.27,88.11 318.77,88.36 319.28,88.61 319.78,88.85 320.28,89.09 320.78,89.32 321.29,89.54 321.79,89.76 322.29,89.97 322.79,90.18 323.3,90.38 323.8,90.57 324.3,90.76 324.8,90.94 325.31,91.11 325.81,91.28 326.31,91.45 326.81,91.61 327.31,91.77 327.81,91.93 328.31,92.09 328.81,92.24 329.31,92.39 329.81,92.54 330.31,92.67 330.81,92.81 331.32,92.93 331.82,93.05 332.32,93.17 332.86,93.28 333.4,93.28 333.9,93.29 334.4,93.29 334.9,93.29 335.4,93.29 335.9,93.3 336.4,93.3 336.9,93.3 337.4,93.3 337.9,93.31 338.4,93.31 338.9,93.31 339.4,93.31 339.9,93.31 340.4,93.32 340.9,93.32 341.4,93.32 341.9,93.32 342.4,93.32 342.4,92.48 341.9,92.48 341.4,92.48 340.9,92.48 340.4,92.48 339.9,92.49 339.4,92.49 338.9,92.49 338.4,92.49 337.9,92.49 337.4,92.5 336.9,92.5 336.4,92.5 335.9,92.5 335.4,92.51 334.9,92.51 334.4,92.51 333.9,92.51 333.4,92.52 332.94,92.52 332.48,92.43 331.98,92.33 331.48,92.22 330.99,92.11 330.49,91.99 329.99,91.87 329.49,91.74 328.99,91.61 328.49,91.47 327.99,91.33 327.49,91.19 326.99,91.04 326.49,90.88 325.99,90.72 325.49,90.56 325,90.39 324.5,90.21 324,90.03 323.5,89.84 323.01,89.65 322.51,89.45 322.01,89.24 321.51,89.03 321.02,88.8 320.52,88.58 320.02,88.34 319.52,88.1 319.03,87.86 318.53,87.61 318.03,87.35 317.54,87.08 317.04,86.8 316.55,86.51 316.05,86.21 315.55,85.89 315.06,85.57 314.56,85.23 314.06,84.89 313.56,84.55 313.06,84.2 312.56,83.84 312.06,83.48 311.57,83.12 311.07,82.76 310.57,82.4 310.07,82.04 309.57,81.67 309.07,81.3 308.57,80.93 308.07,80.55 307.57,80.17 307.07,79.78 306.58,79.39 306.08,79 305.58,78.59 305.08,78.18 304.58,77.77 304.08,77.35 303.58,76.92 303.09,76.49 302.59,76.04 302.09,75.59 301.59,75.12 301.1,74.65 300.6,74.16 300.1,73.67 299.6,73.17 299.1,72.66 298.6,72.15 298.1,71.64 297.6,71.13 297.1,70.62 296.6,70.11 296.1,69.6 295.6,69.1 295.1,68.59 294.6,68.09 294.1,67.58 293.61,67.07 293.11,66.57 292.61,66.06 292.11,65.54 291.61,65.03 291.11,64.51 290.62,63.99 290.12,63.46 289.63,62.92 289.13,62.38 288.64,61.83 288.15,61.28 287.66,60.71 287.16,60.14 286.67,59.56 286.18,58.98 285.69,58.39 285.2,57.79 284.71,57.19 284.21,56.58 283.72,55.97 283.23,55.36 282.74,54.75 282.24,54.13 281.75,53.52 281.26,52.91 280.77,52.29 280.27,51.67 279.78,51.04 279.29,50.4 278.8,49.76 278.31,49.11 277.81,48.47 277.32,47.82 276.83,47.19 276.33,46.55 275.84,45.93 275.34,45.31 274.84,44.71 274.35,44.12 273.85,43.55 273.35,42.98 272.86,42.42 272.36,41.86 271.87,41.31 271.37,40.76 270.87,40.22 270.36,39.69 269.86,39.17 269.36,38.66 268.85,38.15 268.35,37.65 267.84,37.16 267.34,36.68 266.83,36.21 266.33,35.75 265.82,35.3 265.32,34.86 264.82,34.42 264.31,33.99 263.81,33.57 263.31,33.15 262.8,32.74 262.3,32.34 261.8,31.94 261.29,31.54 260.79,31.15 260.29,30.77 259.78,30.39 259.28,30.02 258.78,29.65 258.28,29.28 257.77,28.92 257.27,28.56 256.77,28.2 256.27,27.84 255.76,27.49 255.26,27.15 254.76,26.8 254.25,26.47 253.74,26.14 253.24,25.83 252.73,25.52 252.22,25.22 251.71,24.94 251.2,24.67 250.7,24.4 250.2,24.13 249.69,23.87 249.19,23.61 248.68,23.36 248.18,23.11 247.67,22.87 247.16,22.64 246.65,22.41 246.15,22.2 245.63,21.99 245.12,21.8 244.61,21.63 244.09,21.46 243.58,21.3 243.07,21.16 242.56,21.02 242.05,20.88 241.54,20.76 241.04,20.63 240.53,20.52 240.02,20.4 239.51,20.3 239,20.2 238.5,20.1 237.99,20.01 237.48,19.93 236.9,20.22 236.4,20.12 235.9,20.02 235.4,19.91 234.9,19.8 234.4,19.69 233.9,19.59 233.4,19.48 232.9,19.38 232.4,19.28 231.9,19.19 231.4,19.11 230.9,19.03 230.4,18.96 229.9,18.9 229.4,18.86 228.9,18.82 228.4,18.8 227.9,18.8 227.4,18.8 226.9,18.8 226.4,18.8 225.9,18.8 225.4,18.8 224.9,18.8 224.4,18.8 223.9,18.8 223.4,18.8 222.9,18.8 222.4,18.8 221.9,18.8 221.4,18.8 220.9,18.8 220.4,18.8 219.9,18.8 219.4,18.8 218.9,18.8 218.4,18.8 217.9,18.8 217.4,18.8 216.9,18.8 216.4,18.8 215.9,18.8" fill="#e4002c"/>
<text x="221.6" y="105.9" font-size="6.8" text-anchor="middle" fill="#111">2</text>
<text x="236.33" y="105.9" font-size="6.8" text-anchor="middle" fill="#111">4</text>
<text x="251.06" y="105.9" font-size="6.8" text-anchor="middle" fill="#111">6</text>
<text x="265.79" y="105.9" font-size="6.8" text-anchor="middle" fill="#111">8</text>
<text x="280.52" y="105.9" font-size="6.8" text-anchor="middle" fill="#111">10</text>
<text x="295.25" y="105.9" font-size="6.8" text-anchor="middle" fill="#111">12</text>
<text x="309.98" y="105.9" font-size="6.8" text-anchor="middle" fill="#111">14</text>
<text x="324.71" y="105.9" font-size="6.8" text-anchor="middle" fill="#111">16</text>
<text x="339.44" y="105.9" font-size="6.8" text-anchor="middle" fill="#111">18</text>
<text x="206.9" y="96.4" font-size="6.8" text-anchor="end" fill="#111">0.0</text>
<text x="206.9" y="86.1" font-size="6.8" text-anchor="end" fill="#111">0.1</text>
<text x="206.9" y="74.6" font-size="6.8" text-anchor="end" fill="#111">0.2</text>
<text x="206.9" y="63.1" font-size="6.8" text-anchor="end" fill="#111">0.3</text>
<text x="206.9" y="51.6" font-size="6.8" text-anchor="end" fill="#111">0.4</text>
<text x="206.9" y="40.1" font-size="6.8" text-anchor="end" fill="#111">0.5</text>
<text x="206.9" y="28.6" font-size="6.8" text-anchor="end" fill="#111">0.6</text>
<text x="206.9" y="17.1" font-size="6.8" text-anchor="end" fill="#111">0.7</text>
<text x="346.2" y="105.9" font-size="6.8" text-anchor="start" fill="#111">(*10<tspan font-size="4" dy="-2.2">3</tspan><tspan dy="2.2">)</tspan></text>
<text x="193.6" y="53.5" font-size="7" text-anchor="middle" fill="#111" transform="rotate(-90 193.6 53.5)">Probability presence</text>
<text x="187.6" y="11.2" font-size="9.2" text-anchor="start" fill="#000">B</text>
<path d="M386.2 13.2V96.9M402.4 13.2V96.9M418.6 13.2V96.9M434.8 13.2V96.9M451 13.2V96.9M467.2 13.2V96.9M483.4 13.2V96.9M499.6 13.2V96.9M515.8 13.2V96.9M383.6 95.98H521.5M383.6 89.32H521.5M383.6 82.65H521.5M383.6 75.99H521.5M383.6 69.32H521.5M383.6 62.66H521.5M383.6 55.99H521.5M383.6 49.33H521.5M383.6 42.66H521.5M383.6 36H521.5M383.6 29.33H521.5M383.6 22.67H521.5M383.6 16H521.5" stroke="#e0e0e0" stroke-width="0.9" fill="none"/>
<rect x="383.6" y="13.2" width="137.9" height="83.7" fill="none" stroke="#a8a8a8" stroke-width="1"/>
<path d="M386.2 13.2v1.3M386.2 96.9v-1.3M402.4 13.2v1.3M402.4 96.9v-1.3M418.6 13.2v1.3M418.6 96.9v-1.3M434.8 13.2v1.3M434.8 96.9v-1.3M451 13.2v1.3M451 96.9v-1.3M467.2 13.2v1.3M467.2 96.9v-1.3M483.4 13.2v1.3M483.4 96.9v-1.3M499.6 13.2v1.3M499.6 96.9v-1.3M515.8 13.2v1.3M515.8 96.9v-1.3M383.6 95.98h1.3M521.5 95.98h-1.3M383.6 89.32h1.3M521.5 89.32h-1.3M383.6 82.65h1.3M521.5 82.65h-1.3M383.6 75.99h1.3M521.5 75.99h-1.3M383.6 69.32h1.3M521.5 69.32h-1.3M383.6 62.66h1.3M521.5 62.66h-1.3M383.6 55.99h1.3M521.5 55.99h-1.3M383.6 49.33h1.3M521.5 49.33h-1.3M383.6 42.66h1.3M521.5 42.66h-1.3M383.6 36h1.3M521.5 36h-1.3M383.6 29.33h1.3M521.5 29.33h-1.3M383.6 22.67h1.3M521.5 22.67h-1.3M383.6 16h1.3M521.5 16h-1.3" stroke="#555" stroke-width="0.6" fill="none"/>
<polygon points="389.7,70.8 390.2,70.8 390.7,70.8 391.2,70.8 391.7,70.8 392.2,70.8 392.7,70.8 393.2,70.8 393.7,70.8 394.2,70.8 394.7,70.8 395.2,70.8 395.7,70.8 396.2,70.8 396.7,70.8 397.2,70.8 397.7,70.8 398.2,70.8 398.7,70.8 399.2,70.8 399.7,70.8 401.45,70.36 402.43,68.97 402.91,67.88 403.33,66.87 403.72,65.88 404.12,64.91 404.52,63.96 404.95,63.02 405.41,62.11 405.88,61.22 406.35,60.34 406.83,59.46 407.31,58.59 407.79,57.73 408.28,56.87 408.76,56.02 409.25,55.17 409.73,54.31 410.22,53.46 410.7,52.6 411.19,51.74 411.66,50.87 412.14,49.99 412.61,49.11 413.07,48.23 413.52,47.34 413.97,46.45 414.42,45.56 414.86,44.68 415.31,43.81 415.76,42.95 416.21,42.09 416.67,41.26 417.14,40.44 417.61,39.64 418.09,38.85 418.56,38.09 419.04,37.34 419.52,36.59 420.01,35.85 420.5,35.12 420.99,34.4 421.49,33.69 421.98,32.99 422.48,32.31 422.98,31.64 423.48,30.99 423.98,30.35 424.47,29.74 424.97,29.16 425.47,28.59 425.96,28.06 426.46,27.54 426.96,27.04 427.46,26.54 427.96,26.04 428.46,25.56 428.96,25.09 429.46,24.62 429.96,24.18 430.46,23.74 430.96,23.32 431.45,22.91 431.95,22.53 432.46,22.16 432.96,21.82 433.46,21.5 433.97,21.21 434.47,20.94 434.97,20.69 435.48,20.46 435.99,20.23 436.5,20.01 437,19.8 437.5,19.61 438,19.43 438.48,19.28 438.96,19.14 439.43,19.02 439.9,18.93 440.37,18.85 440.87,18.78 441.36,18.71 441.85,18.64 442.34,18.58 442.82,18.53 443.3,18.49 443.78,18.46 444.24,18.45 444.7,18.45 445.15,18.47 445.59,18.52 446.04,18.59 446.49,18.68 446.95,18.8 447.41,18.92 447.88,19.07 448.35,19.23 448.83,19.4 449.31,19.58 449.8,19.76 450.29,19.95 450.78,20.14 451.23,20.33 451.68,20.53 452.13,20.77 452.59,21.03 453.05,21.31 453.51,21.61 453.98,21.93 454.45,22.27 454.92,22.62 455.4,22.99 455.88,23.37 456.36,23.77 456.84,24.17 457.33,24.58 457.82,25 458.31,25.42 458.78,25.83 459.25,26.25 459.72,26.7 460.19,27.16 460.67,27.64 461.14,28.13 461.62,28.65 462.1,29.17 462.58,29.71 463.06,30.27 463.55,30.83 464.03,31.41 464.52,31.99 465.01,32.59 465.49,33.19 465.98,33.79 466.46,34.4 466.94,35.03 467.43,35.67 467.91,36.34 468.4,37.02 468.89,37.71 469.38,38.42 469.87,39.14 470.37,39.87 470.86,40.61 471.36,41.36 471.85,42.11 472.35,42.87 472.85,43.63 473.35,44.39 473.85,45.14 474.34,45.9 474.84,46.66 475.34,47.42 475.83,48.19 476.33,48.96 476.83,49.74 477.32,50.52 477.82,51.31 478.32,52.1 478.81,52.9 479.31,53.7 479.81,54.51 480.3,55.32 480.8,56.13 481.3,56.95 481.8,57.78 482.29,58.61 482.79,59.44 483.28,60.29 483.78,61.14 484.28,62.01 484.77,62.88 485.27,63.76 485.77,64.64 486.27,65.53 486.77,66.42 487.27,67.31 487.77,68.2 488.27,69.09 488.77,69.97 489.27,70.85 489.77,71.72 490.27,72.59 490.77,73.46 491.26,74.34 491.76,75.23 492.26,76.12 492.76,77.01 493.26,77.91 493.76,78.8 494.26,79.69 494.76,80.57 495.26,81.44 495.77,82.3 496.27,83.15 496.78,83.99 497.29,84.81 497.79,85.61 498.31,86.39 498.82,87.14 499.33,87.88 499.83,88.6 500.34,89.3 500.85,89.98 501.36,90.64 501.87,91.3 502.35,91.96 503.03,92.84 504.26,93.53 505.2,93.65 505.7,93.69 506.2,93.7 506.7,93.7 507.2,93.7 507.7,93.7 508.2,93.7 508.7,93.7 509.2,93.7 509.7,93.7 510.2,93.7 510.7,93.7 511.2,93.7 511.7,93.7 512.2,93.7 512.7,93.7 513.2,93.7 513.7,93.7 514.2,93.7 514.7,93.7 515.2,93.7 515.2,89.7 514.7,89.7 514.2,89.7 513.7,89.7 513.2,89.7 512.7,89.7 512.2,89.7 511.7,89.7 511.2,89.7 510.7,89.7 510.2,89.7 509.7,89.7 509.2,89.7 508.7,89.7 508.2,89.7 507.7,89.7 507.2,89.7 506.7,89.7 506.2,89.7 505.7,89.71 505.2,89.75 505.14,89.87 505.37,90.08 505.05,89.75 504.53,89.17 504.04,88.56 503.55,87.93 503.06,87.28 502.57,86.62 502.07,85.94 501.58,85.24 501.09,84.52 500.61,83.78 500.11,83.02 499.62,82.23 499.13,81.43 498.63,80.6 498.14,79.76 497.64,78.91 497.14,78.04 496.64,77.17 496.14,76.28 495.64,75.4 495.14,74.5 494.64,73.61 494.14,72.72 493.63,71.83 493.13,70.95 492.63,70.08 492.13,69.21 491.63,68.34 491.13,67.47 490.63,66.58 490.13,65.7 489.63,64.81 489.13,63.92 488.63,63.03 488.13,62.14 487.63,61.26 487.12,60.38 486.62,59.5 486.12,58.64 485.61,57.78 485.11,56.93 484.6,56.09 484.1,55.26 483.6,54.43 483.1,53.61 482.59,52.79 482.09,51.98 481.59,51.17 481.08,50.37 480.58,49.57 480.08,48.77 479.57,47.98 479.07,47.2 478.57,46.42 478.06,45.64 477.56,44.87 477.06,44.11 476.55,43.35 476.05,42.6 475.55,41.84 475.05,41.09 474.55,40.33 474.04,39.57 473.54,38.82 473.03,38.07 472.53,37.33 472.02,36.6 471.51,35.87 471,35.16 470.49,34.45 469.97,33.77 469.46,33.09 468.94,32.44 468.42,31.81 467.91,31.2 467.39,30.59 466.88,30 466.37,29.41 465.85,28.83 465.34,28.25 464.82,27.69 464.3,27.14 463.78,26.6 463.26,26.07 462.73,25.56 462.21,25.06 461.68,24.58 461.15,24.12 460.62,23.67 460.09,23.25 459.58,22.85 459.07,22.45 458.56,22.05 458.04,21.65 457.52,21.26 457,20.87 456.48,20.5 455.95,20.13 455.42,19.78 454.89,19.45 454.35,19.13 453.81,18.83 453.27,18.55 452.72,18.29 452.17,18.06 451.62,17.86 451.11,17.69 450.6,17.52 450.09,17.35 449.57,17.18 449.05,17.02 448.52,16.88 447.99,16.74 447.45,16.62 446.91,16.51 446.36,16.43 445.81,16.37 445.25,16.34 444.7,16.35 444.16,16.38 443.62,16.42 443.1,16.49 442.58,16.56 442.06,16.65 441.55,16.75 441.04,16.85 440.53,16.96 440.03,17.07 439.5,17.2 438.97,17.36 438.44,17.55 437.92,17.76 437.4,18 436.9,18.26 436.4,18.53 435.9,18.81 435.41,19.11 434.92,19.4 434.43,19.71 433.93,20.02 433.43,20.36 432.94,20.72 432.44,21.09 431.94,21.48 431.45,21.88 430.95,22.29 430.44,22.71 429.94,23.15 429.44,23.6 428.94,24.06 428.44,24.53 427.94,25.02 427.44,25.51 426.94,26.01 426.44,26.52 425.94,27.04 425.44,27.56 424.93,28.11 424.43,28.69 423.93,29.29 423.42,29.91 422.92,30.55 422.42,31.21 421.92,31.89 421.42,32.58 420.91,33.28 420.41,34 419.9,34.71 419.39,35.43 418.88,36.15 418.36,36.87 417.84,37.6 417.31,38.35 416.79,39.11 416.26,39.89 415.73,40.67 415.19,41.47 414.64,42.27 414.09,43.08 413.54,43.9 412.98,44.72 412.43,45.55 411.88,46.39 411.33,47.22 410.79,48.06 410.26,48.9 409.74,49.74 409.21,50.58 408.7,51.42 408.18,52.25 407.67,53.09 407.15,53.93 406.64,54.76 406.12,55.61 405.61,56.45 405.09,57.3 404.57,58.15 404.05,59.01 403.52,59.88 402.99,60.75 402.45,61.63 401.88,62.5 401.28,63.38 400.68,64.27 400.07,65.19 399.49,66.14 398.97,67.03 398.95,67.24 399.7,66.8 399.2,66.8 398.7,66.8 398.2,66.8 397.7,66.8 397.2,66.8 396.7,66.8 396.2,66.8 395.7,66.8 395.2,66.8 394.7,66.8 394.2,66.8 393.7,66.8 393.2,66.8 392.7,66.8 392.2,66.8 391.7,66.8 391.2,66.8 390.7,66.8 390.2,66.8 389.7,66.8" fill="#1414e6"/>
<polygon points="389.7,68.8 390.2,68.8 390.7,68.8 391.2,68.8 391.7,68.8 392.2,68.8 392.7,68.8 393.2,68.8 393.7,68.8 394.2,68.8 394.7,68.8 395.2,68.8 395.7,68.8 396.2,68.8 396.7,68.8 397.2,68.8 397.7,68.8 398.2,68.8 398.7,68.8 399.2,68.8 399.7,68.8 400.2,68.8 400.7,68 401.42,67.12 401.92,66.15 402.43,65.2 402.94,64.27 403.45,63.37 403.95,62.47 404.45,61.58 404.96,60.7 405.46,59.82 405.96,58.96 406.46,58.1 406.97,57.25 407.48,56.4 407.98,55.56 408.49,54.71 408.99,53.87 409.5,53.03 410,52.19 410.51,51.34 411.02,50.49 411.53,49.64 412.05,48.79 412.56,47.93 413.08,47.08 413.6,46.23 414.12,45.39 414.64,44.55 415.16,43.72 415.68,42.9 416.2,42.08 416.71,41.28 417.22,40.49 417.73,39.71 418.23,38.95 418.73,38.2 419.23,37.47 419.73,36.73 420.23,36 420.73,35.28 421.22,34.56 421.72,33.86 422.22,33.16 422.72,32.48 423.21,31.81 423.71,31.16 424.2,30.53 424.69,29.92 425.19,29.34 425.68,28.78 426.17,28.25 426.66,27.74 427.16,27.23 427.65,26.73 428.15,26.23 428.64,25.75 429.14,25.27 429.63,24.81 430.13,24.36 430.62,23.93 431.11,23.5 431.6,23.1 432.09,22.7 432.58,22.33 433.07,21.98 433.55,21.63 434.03,21.31 434.51,21.01 434.99,20.72 435.47,20.44 435.96,20.17 436.45,19.91 436.93,19.65 437.41,19.41 437.9,19.19 438.37,18.99 438.85,18.8 439.33,18.65 439.8,18.52 440.29,18.41 440.78,18.31 441.28,18.21 441.77,18.12 442.26,18.04 442.75,17.97 443.24,17.9 443.73,17.85 444.22,17.82 444.7,17.8 445.18,17.8 445.66,17.83 446.14,17.89 446.63,17.97 447.12,18.07 447.61,18.19 448.1,18.32 448.59,18.47 449.09,18.63 449.59,18.79 450.08,18.96 450.59,19.14 451.08,19.31 451.57,19.5 452.06,19.71 452.55,19.94 453.05,20.2 453.54,20.48 454.03,20.79 454.53,21.11 455.03,21.45 455.52,21.8 456.02,22.17 456.52,22.55 457.02,22.94 457.52,23.34 458.01,23.74 458.51,24.15 459.01,24.56 459.51,24.97 460.01,25.4 460.5,25.85 461,26.32 461.5,26.8 462,27.3 462.49,27.82 462.99,28.35 463.49,28.89 463.99,29.45 464.49,30.01 464.99,30.59 465.49,31.18 465.99,31.77 466.49,32.37 466.99,32.97 467.48,33.59 467.98,34.23 468.48,34.88 468.98,35.56 469.48,36.25 469.98,36.95 470.48,37.66 470.97,38.39 471.47,39.13 471.97,39.87 472.47,40.62 472.97,41.37 473.47,42.13 473.97,42.89 474.47,43.64 474.97,44.4 475.47,45.15 475.97,45.91 476.47,46.68 476.97,47.45 477.47,48.22 477.97,49 478.47,49.79 478.97,50.58 479.47,51.38 479.97,52.18 480.47,52.98 480.97,53.79 481.47,54.6 481.97,55.42 482.47,56.25 482.97,57.07 483.47,57.91 483.97,58.75 484.47,59.6 484.97,60.46 485.47,61.33 485.97,62.2 486.47,63.08 486.97,63.97 487.47,64.86 487.97,65.75 488.47,66.64 488.97,67.52 489.47,68.41 489.97,69.29 490.47,70.17 490.97,71.03 491.47,71.9 491.97,72.78 492.47,73.66 492.97,74.55 493.47,75.44 493.97,76.34 494.47,77.23 494.97,78.11 495.47,79 495.97,79.87 496.47,80.74 496.97,81.59 497.47,82.43 497.97,83.25 498.47,84.06 498.98,84.84 499.48,85.6 499.98,86.34 500.48,87.06 500.98,87.76 501.49,88.45 501.99,89.11 502.49,89.76 502.99,90.4 503.5,91.02 504.04,91.66 504.64,91.94 505.2,91.94 505.7,91.94 506.2,91.94 506.7,91.94 507.2,91.94 507.7,91.94 508.2,91.94 508.7,91.94 509.2,91.94 509.7,91.94 510.2,91.94 510.7,91.94 511.2,91.94 511.7,91.94 512.2,91.94 512.7,91.94 513.2,91.94 513.7,91.94 514.2,91.94 514.7,91.94 515.2,91.94 515.2,91.46 514.7,91.46 514.2,91.46 513.7,91.46 513.2,91.46 512.7,91.46 512.2,91.46 511.7,91.46 511.2,91.46 510.7,91.46 510.2,91.46 509.7,91.46 509.2,91.46 508.7,91.46 508.2,91.46 507.7,91.46 507.2,91.46 506.7,91.46 506.2,91.46 505.7,91.46 505.2,91.46 504.76,91.46 504.36,91.27 503.9,90.69 503.41,90.07 502.91,89.44 502.41,88.79 501.91,88.13 501.42,87.45 500.92,86.75 500.42,86.04 499.92,85.31 499.42,84.55 498.93,83.77 498.43,82.97 497.93,82.15 497.43,81.32 496.93,80.47 496.43,79.6 495.93,78.73 495.43,77.85 494.93,76.96 494.43,76.07 493.93,75.18 493.43,74.29 492.93,73.4 492.43,72.51 491.93,71.64 491.43,70.77 490.93,69.9 490.43,69.02 489.93,68.14 489.43,67.26 488.93,66.37 488.43,65.48 487.93,64.59 487.43,63.71 486.93,62.82 486.43,61.94 485.93,61.06 485.43,60.19 484.93,59.33 484.43,58.47 483.93,57.63 483.43,56.8 482.93,55.97 482.43,55.14 481.93,54.32 481.43,53.51 480.93,52.7 480.43,51.89 479.93,51.09 479.43,50.29 478.93,49.5 478.43,48.71 477.93,47.93 477.43,47.15 476.93,46.38 476.43,45.62 475.93,44.86 475.43,44.1 474.93,43.34 474.43,42.59 473.93,41.83 473.43,41.07 472.93,40.32 472.43,39.57 471.93,38.82 471.43,38.08 470.92,37.35 470.42,36.63 469.92,35.93 469.42,35.23 468.92,34.56 468.42,33.89 467.92,33.25 467.41,32.63 466.91,32.02 466.41,31.41 465.91,30.82 465.41,30.23 464.91,29.65 464.41,29.07 463.91,28.51 463.41,27.96 462.91,27.43 462.4,26.9 461.9,26.4 461.4,25.9 460.9,25.43 460.39,24.97 459.89,24.53 459.39,24.11 458.89,23.7 458.39,23.29 457.88,22.88 457.38,22.48 456.88,22.08 456.38,21.69 455.88,21.32 455.37,20.96 454.87,20.6 454.37,20.27 453.86,19.95 453.35,19.65 452.85,19.37 452.34,19.12 451.83,18.89 451.32,18.69 450.81,18.5 450.32,18.32 449.81,18.13 449.31,17.96 448.81,17.79 448.3,17.62 447.79,17.48 447.28,17.34 446.77,17.23 446.26,17.13 445.74,17.06 445.22,17.02 444.7,17 444.18,17.01 443.67,17.03 443.16,17.07 442.65,17.13 442.14,17.19 441.63,17.26 441.12,17.34 440.62,17.43 440.11,17.51 439.6,17.61 439.07,17.73 438.55,17.88 438.03,18.05 437.5,18.25 436.99,18.46 436.47,18.68 435.95,18.92 435.44,19.16 434.93,19.42 434.41,19.68 433.89,19.96 433.37,20.26 432.85,20.59 432.33,20.93 431.82,21.31 431.31,21.7 430.8,22.1 430.29,22.52 429.78,22.96 429.27,23.41 428.77,23.87 428.26,24.35 427.76,24.83 427.25,25.32 426.75,25.82 426.24,26.33 425.74,26.84 425.23,27.37 424.72,27.92 424.21,28.51 423.71,29.11 423.2,29.73 422.69,30.38 422.19,31.04 421.68,31.72 421.18,32.41 420.68,33.12 420.18,33.83 419.67,34.55 419.17,35.28 418.67,36.01 418.17,36.75 417.67,37.49 417.17,38.25 416.67,39.04 416.18,39.84 415.69,40.65 415.2,41.48 414.72,42.32 414.24,43.17 413.76,44.03 413.28,44.9 412.8,45.77 412.32,46.64 411.84,47.51 411.35,48.39 410.87,49.25 410.38,50.12 409.89,50.98 409.4,51.83 408.9,52.68 408.41,53.53 407.91,54.38 407.42,55.23 406.92,56.08 406.43,56.93 405.94,57.79 405.44,58.66 404.94,59.53 404.44,60.4 403.95,61.29 403.45,62.19 402.95,63.09 402.46,64.01 401.97,64.95 401.48,65.91 400.98,66.9 400.7,68 400.2,68.8 399.7,68.8 399.2,68.8 398.7,68.8 398.2,68.8 397.7,68.8 397.2,68.8 396.7,68.8 396.2,68.8 395.7,68.8 395.2,68.8 394.7,68.8 394.2,68.8 393.7,68.8 393.2,68.8 392.7,68.8 392.2,68.8 391.7,68.8 391.2,68.8 390.7,68.8 390.2,68.8 389.7,68.8" fill="#e4002c"/>
<text x="402.4" y="105.9" font-size="6.8" text-anchor="middle" fill="#111">0</text>
<text x="418.6" y="105.9" font-size="6.8" text-anchor="middle" fill="#111">1</text>
<text x="434.8" y="105.9" font-size="6.8" text-anchor="middle" fill="#111">2</text>
<text x="451" y="105.9" font-size="6.8" text-anchor="middle" fill="#111">3</text>
<text x="467.2" y="105.9" font-size="6.8" text-anchor="middle" fill="#111">4</text>
<text x="483.4" y="105.9" font-size="6.8" text-anchor="middle" fill="#111">5</text>
<text x="499.6" y="105.9" font-size="6.8" text-anchor="middle" fill="#111">6</text>
<text x="514" y="105.9" font-size="6.8" text-anchor="middle" fill="#111">7</text>
<text x="381" y="98.08" font-size="6.8" text-anchor="end" fill="#111">0.05</text>
<text x="381" y="84.75" font-size="6.8" text-anchor="end" fill="#111">0.15</text>
<text x="381" y="71.42" font-size="6.8" text-anchor="end" fill="#111">0.25</text>
<text x="381" y="58.09" font-size="6.8" text-anchor="end" fill="#111">0.35</text>
<text x="381" y="44.76" font-size="6.8" text-anchor="end" fill="#111">0.45</text>
<text x="381" y="31.43" font-size="6.8" text-anchor="end" fill="#111">0.55</text>
<text x="381" y="18.1" font-size="6.8" text-anchor="end" fill="#111">0.65</text>
<text x="518.6" y="105.9" font-size="6.8" text-anchor="start" fill="#111">(*10<tspan font-size="4" dy="-2.2">7</tspan><tspan dy="2.2">)</tspan></text>
<text x="364.4" y="53.5" font-size="7" text-anchor="middle" fill="#111" transform="rotate(-90 364.4 53.5)">Probability presence</text>
<text x="357.2" y="11.2" font-size="9.2" text-anchor="start" fill="#000">C</text>
<path d="M57.1 115.8V199.3M77.1 115.8V199.3M97.1 115.8V199.3M117.1 115.8V199.3M137.1 115.8V199.3M157.1 115.8V199.3M177.1 115.8V199.3M41.3 193.6H179.5M41.3 186.4H179.5M41.3 179.2H179.5M41.3 172H179.5M41.3 164.8H179.5M41.3 157.6H179.5M41.3 150.4H179.5M41.3 143.2H179.5M41.3 136H179.5M41.3 128.8H179.5M41.3 121.6H179.5" stroke="#e0e0e0" stroke-width="0.9" fill="none"/>
<rect x="41.3" y="115.8" width="138.2" height="83.5" fill="none" stroke="#a8a8a8" stroke-width="1"/>
<path d="M57.1 115.8v1.3M57.1 199.3v-1.3M77.1 115.8v1.3M77.1 199.3v-1.3M97.1 115.8v1.3M97.1 199.3v-1.3M117.1 115.8v1.3M117.1 199.3v-1.3M137.1 115.8v1.3M137.1 199.3v-1.3M157.1 115.8v1.3M157.1 199.3v-1.3M177.1 115.8v1.3M177.1 199.3v-1.3M41.3 193.6h1.3M179.5 193.6h-1.3M41.3 186.4h1.3M179.5 186.4h-1.3M41.3 179.2h1.3M179.5 179.2h-1.3M41.3 172h1.3M179.5 172h-1.3M41.3 164.8h1.3M179.5 164.8h-1.3M41.3 157.6h1.3M179.5 157.6h-1.3M41.3 150.4h1.3M179.5 150.4h-1.3M41.3 143.2h1.3M179.5 143.2h-1.3M41.3 136h1.3M179.5 136h-1.3M41.3 128.8h1.3M179.5 128.8h-1.3M41.3 121.6h1.3M179.5 121.6h-1.3" stroke="#555" stroke-width="0.6" fill="none"/>
<polygon points="47.3,196.3 47.8,196.3 48.3,196.3 48.8,196.3 49.3,196.3 49.8,196.3 50.3,196.3 50.8,196.3 51.3,196.3 51.8,196.3 52.3,196.3 52.8,196.3 53.3,196.3 53.8,196.3 54.3,196.3 54.8,196.3 55.3,196.3 55.8,196.3 56.3,196.3 56.8,196.3 57.3,196.3 58.29,196.24 59.4,195.68 60.07,195.1 60.58,194.64 61.09,194.17 61.6,193.69 62.1,193.21 62.61,192.72 63.12,192.22 63.62,191.72 64.13,191.21 64.64,190.69 65.14,190.17 65.65,189.64 66.15,189.11 66.65,188.57 67.16,188.02 67.66,187.46 68.17,186.9 68.67,186.32 69.18,185.73 69.69,185.14 70.19,184.53 70.69,183.92 71.2,183.3 71.7,182.67 72.2,182.04 72.7,181.4 73.19,180.76 73.69,180.11 74.19,179.47 74.68,178.82 75.18,178.17 75.67,177.51 76.16,176.86 76.65,176.21 77.15,175.56 77.64,174.92 78.12,174.27 78.61,173.63 79.11,172.98 79.6,172.33 80.09,171.67 80.59,171.01 81.08,170.34 81.57,169.68 82.05,169.01 82.54,168.34 83.03,167.67 83.51,167 83.99,166.33 84.47,165.66 84.95,165 85.43,164.34 85.91,163.68 86.38,163.03 86.86,162.39 87.33,161.75 87.81,161.12 88.28,160.49 88.76,159.86 89.23,159.23 89.71,158.61 90.18,157.99 90.65,157.37 91.13,156.75 91.6,156.13 92.06,155.51 92.52,154.89 92.99,154.28 93.44,153.66 93.9,153.05 94.36,152.44 94.82,151.83 95.29,151.23 95.75,150.64 96.22,150.05 96.7,149.47 97.18,148.89 97.66,148.33 98.15,147.76 98.63,147.2 99.12,146.64 99.61,146.07 100.1,145.52 100.59,144.96 101.08,144.41 101.57,143.86 102.06,143.31 102.56,142.77 103.06,142.24 103.55,141.71 104.05,141.19 104.55,140.67 105.05,140.15 105.55,139.64 106.05,139.14 106.55,138.64 107.04,138.15 107.54,137.67 108.04,137.19 108.54,136.72 109.04,136.26 109.54,135.8 110.04,135.34 110.54,134.88 111.03,134.43 111.53,133.98 112.03,133.54 112.53,133.1 113.03,132.67 113.53,132.25 114.02,131.84 114.52,131.43 115.02,131.04 115.51,130.66 116.01,130.29 116.5,129.93 117,129.59 117.49,129.26 117.99,128.94 118.49,128.62 118.98,128.31 119.48,128 119.98,127.7 120.48,127.4 120.97,127.12 121.47,126.83 121.97,126.56 122.46,126.29 122.96,126.03 123.46,125.77 123.95,125.53 124.45,125.29 124.95,125.06 125.44,124.83 125.94,124.61 126.43,124.41 126.93,124.2 127.43,124 127.93,123.8 128.43,123.6 128.93,123.4 129.43,123.21 129.92,123.02 130.42,122.83 130.92,122.64 131.42,122.47 131.91,122.29 132.41,122.12 132.91,121.96 133.4,121.81 133.9,121.66 134.39,121.52 134.89,121.38 135.38,121.26 135.88,121.15 136.37,121.04 136.86,120.95 137.36,120.86 137.85,120.78 138.35,120.71 138.85,120.63 139.35,120.55 139.85,120.48 140.35,120.41 140.85,120.34 141.34,120.27 141.84,120.21 142.34,120.16 142.83,120.11 143.33,120.06 143.82,120.03 144.32,119.99 144.81,119.97 145.31,119.96 145.8,119.95 146.29,119.96 146.78,119.98 147.27,120.03 147.76,120.1 148.25,120.19 148.74,120.3 149.22,120.41 149.71,120.54 150.19,120.68 150.67,120.82 151.16,120.98 151.64,121.13 152.12,121.29 152.6,121.45 153.03,121.61 153.45,121.82 153.87,122.06 154.3,122.33 154.74,122.62 155.2,122.92 155.68,123.22 156.19,123.5 156.71,123.75 157.2,123.96 157.66,124.18 158.14,124.4 158.65,124.63 159.18,124.86 159.75,125.07 160.35,125.26 160.99,125.41 161.61,125.49 162.17,125.53 162.67,125.57 163.18,125.6 163.69,125.63 164.19,125.66 164.7,125.68 165.21,125.7 165.71,125.72 166.22,125.74 166.73,125.75 167.23,125.76 167.74,125.76 168.25,125.76 168.75,125.76 169.26,125.76 169.77,125.75 170.27,125.73 170.78,125.71 171.28,125.69 171.79,125.66 172.29,125.63 172.31,122.37 171.81,122.33 171.32,122.3 170.82,122.26 170.33,122.23 169.83,122.2 169.34,122.17 168.85,122.14 168.35,122.11 167.86,122.08 167.37,122.05 166.87,122.02 166.38,121.99 165.89,121.96 165.39,121.93 164.9,121.9 164.41,121.87 163.91,121.84 163.42,121.81 162.93,121.78 162.43,121.74 161.99,121.71 161.61,121.67 161.25,121.61 160.85,121.51 160.42,121.39 159.95,121.24 159.46,121.07 158.94,120.9 158.4,120.73 157.89,120.58 157.41,120.45 156.92,120.32 156.4,120.18 155.86,120.04 155.3,119.91 154.73,119.78 154.15,119.67 153.57,119.57 153,119.51 152.48,119.47 151.96,119.44 151.44,119.41 150.93,119.38 150.41,119.35 149.89,119.33 149.38,119.31 148.86,119.3 148.35,119.28 147.84,119.27 147.33,119.26 146.82,119.26 146.31,119.25 145.8,119.25 145.29,119.26 144.79,119.27 144.28,119.3 143.78,119.33 143.27,119.37 142.77,119.41 142.26,119.46 141.76,119.52 141.26,119.58 140.75,119.65 140.25,119.71 139.75,119.79 139.25,119.86 138.75,119.94 138.25,120.01 137.75,120.09 137.24,120.17 136.74,120.26 136.23,120.35 135.72,120.46 135.22,120.58 134.71,120.71 134.21,120.84 133.7,120.99 133.2,121.14 132.69,121.29 132.19,121.46 131.69,121.63 131.18,121.81 130.68,121.99 130.18,122.17 129.68,122.36 129.17,122.56 128.67,122.75 128.17,122.95 127.67,123.15 127.17,123.35 126.67,123.55 126.17,123.76 125.66,123.97 125.16,124.19 124.65,124.42 124.15,124.66 123.65,124.9 123.14,125.15 122.64,125.41 122.14,125.67 121.63,125.95 121.13,126.22 120.63,126.51 120.12,126.8 119.62,127.1 119.12,127.4 118.62,127.71 118.11,128.03 117.61,128.35 117.11,128.68 116.6,129.01 116.1,129.36 115.59,129.72 115.09,130.1 114.58,130.49 114.08,130.89 113.58,131.3 113.07,131.72 112.57,132.14 112.07,132.58 111.57,133.02 111.07,133.46 110.57,133.91 110.06,134.37 109.56,134.82 109.06,135.28 108.56,135.74 108.06,136.21 107.56,136.68 107.06,137.16 106.56,137.65 106.05,138.14 105.55,138.65 105.05,139.15 104.55,139.66 104.05,140.18 103.55,140.7 103.05,141.23 102.54,141.76 102.04,142.29 101.54,142.83 101.03,143.36 100.52,143.9 100.01,144.44 99.5,144.97 98.99,145.51 98.48,146.05 97.97,146.59 97.45,147.13 96.94,147.67 96.42,148.21 95.9,148.76 95.38,149.3 94.85,149.84 94.31,150.38 93.78,150.92 93.24,151.46 92.7,152.01 92.16,152.55 91.61,153.11 91.08,153.66 90.54,154.22 90,154.79 89.47,155.36 88.95,155.94 88.42,156.52 87.89,157.11 87.37,157.7 86.84,158.29 86.32,158.89 85.79,159.48 85.27,160.09 84.74,160.71 84.22,161.33 83.69,161.96 83.17,162.59 82.65,163.23 82.13,163.87 81.61,164.51 81.09,165.16 80.57,165.81 80.06,166.45 79.55,167.1 79.03,167.75 78.52,168.39 78.01,169.04 77.51,169.68 77,170.31 76.49,170.94 75.99,171.57 75.48,172.2 74.96,172.83 74.45,173.47 73.95,174.11 73.44,174.75 72.93,175.39 72.42,176.03 71.92,176.67 71.41,177.3 70.91,177.93 70.41,178.56 69.9,179.18 69.4,179.8 68.9,180.41 68.4,181.02 67.91,181.61 67.41,182.2 66.91,182.77 66.42,183.34 65.93,183.9 65.43,184.44 64.94,184.97 64.44,185.5 63.95,186.03 63.45,186.55 62.95,187.06 62.46,187.56 61.96,188.06 61.47,188.56 60.98,189.04 60.48,189.53 59.99,190 59.5,190.47 59,190.93 58.51,191.39 58.02,191.83 57.53,192.28 57.2,192.59 57.31,192.56 57.3,192.5 56.8,192.5 56.3,192.5 55.8,192.5 55.3,192.5 54.8,192.5 54.3,192.5 53.8,192.5 53.3,192.5 52.8,192.5 52.3,192.5 51.8,192.5 51.3,192.5 50.8,192.5 50.3,192.5 49.8,192.5 49.3,192.5 48.8,192.5 48.3,192.5 47.8,192.5 47.3,192.5" fill="#1414e6"/>
<polygon points="47.3,194.65 47.8,194.65 48.3,194.65 48.8,194.65 49.3,194.65 49.8,194.65 50.3,194.65 50.8,194.65 51.3,194.65 51.8,194.65 52.3,194.65 52.8,194.65 53.3,194.65 53.8,194.65 54.3,194.65 54.8,194.65 55.3,194.65 55.8,194.65 56.3,194.65 56.8,194.65 57.3,194.65 57.86,194.64 58.44,194.34 58.96,193.87 59.47,193.42 59.97,192.96 60.47,192.49 60.97,192.02 61.47,191.54 61.97,191.05 62.47,190.56 62.98,190.06 63.48,189.55 63.98,189.04 64.48,188.52 64.98,188 65.48,187.47 65.98,186.93 66.49,186.39 66.99,185.84 67.49,185.28 67.99,184.7 68.49,184.12 68.99,183.53 69.5,182.93 70,182.32 70.5,181.7 71,181.08 71.5,180.45 72,179.82 72.5,179.18 73,178.54 73.51,177.9 74.01,177.26 74.51,176.61 75.01,175.97 75.51,175.32 76.01,174.68 76.51,174.04 77.01,173.4 77.51,172.76 78.01,172.13 78.51,171.49 79.01,170.84 79.52,170.19 80.02,169.53 80.52,168.88 81.02,168.22 81.52,167.56 82.02,166.9 82.52,166.25 83.02,165.59 83.53,164.94 84.03,164.29 84.53,163.64 85.03,163 85.53,162.36 86.03,161.73 86.53,161.11 87.03,160.49 87.54,159.88 88.05,159.28 88.56,158.68 89.07,158.08 89.58,157.49 90.09,156.89 90.6,156.3 91.11,155.72 91.62,155.14 92.13,154.56 92.65,153.99 93.16,153.42 93.68,152.85 94.19,152.29 94.71,151.73 95.22,151.17 95.73,150.62 96.24,150.07 96.75,149.52 97.26,148.97 97.76,148.42 98.27,147.87 98.77,147.33 99.27,146.77 99.77,146.22 100.27,145.68 100.77,145.13 101.27,144.59 101.77,144.04 102.27,143.51 102.77,142.97 103.27,142.44 103.76,141.91 104.26,141.39 104.76,140.87 105.26,140.35 105.76,139.85 106.25,139.34 106.75,138.85 107.25,138.36 107.74,137.88 108.24,137.4 108.74,136.93 109.23,136.47 109.73,136.01 110.23,135.55 110.73,135.1 111.23,134.65 111.73,134.2 112.22,133.76 112.72,133.32 113.22,132.89 113.71,132.47 114.21,132.06 114.7,131.66 115.19,131.27 115.69,130.89 116.18,130.52 116.67,130.17 117.16,129.83 117.65,129.5 118.15,129.18 118.64,128.86 119.14,128.55 119.63,128.25 120.13,127.95 120.62,127.66 121.12,127.37 121.61,127.09 122.11,126.81 122.6,126.55 123.1,126.29 123.59,126.03 124.08,125.79 124.57,125.55 125.07,125.32 125.56,125.1 126.05,124.88 126.54,124.67 127.04,124.47 127.54,124.27 128.04,124.07 128.54,123.87 129.03,123.67 129.53,123.48 130.03,123.29 130.52,123.1 131.02,122.92 131.51,122.74 132.01,122.57 132.5,122.4 133,122.24 133.49,122.08 133.98,121.94 134.47,121.8 134.96,121.67 135.45,121.54 135.94,121.43 136.43,121.33 136.91,121.23 137.4,121.15 137.9,121.07 138.4,120.99 138.9,120.92 139.39,120.84 139.89,120.77 140.39,120.69 140.88,120.63 141.38,120.56 141.87,120.5 142.37,120.45 142.86,120.4 143.35,120.35 143.84,120.32 144.33,120.28 144.82,120.26 145.31,120.25 145.8,120.24 146.29,120.24 146.77,120.26 147.26,120.29 147.74,120.33 148.23,120.37 148.72,120.41 149.22,120.45 149.71,120.5 150.21,120.56 150.71,120.62 151.21,120.68 151.71,120.75 152.21,120.82 152.71,120.9 153.2,120.98 153.69,121.09 154.18,121.23 154.69,121.4 155.3,121.33 155.8,121.55 156.3,121.77 156.8,121.98 157.3,122.16 157.8,122.34 158.3,122.54 158.8,122.74 159.3,122.93 159.8,123.12 160.3,123.29 160.8,123.43 161.3,123.54 161.8,123.6 162.3,123.64 162.8,123.67 163.3,123.7 163.8,123.73 164.3,123.76 164.8,123.79 165.3,123.82 165.8,123.84 166.3,123.86 166.8,123.88 167.3,123.9 167.8,123.92 168.3,123.94 168.8,123.95 169.3,123.96 169.8,123.97 170.3,123.98 170.8,123.99 171.3,123.99 171.8,124 172.3,124 172.3,124 171.8,124 171.3,123.99 170.8,123.99 170.3,123.98 169.8,123.97 169.3,123.96 168.8,123.95 168.3,123.94 167.8,123.92 167.3,123.9 166.8,123.88 166.3,123.86 165.8,123.84 165.3,123.82 164.8,123.79 164.3,123.76 163.8,123.73 163.3,123.7 162.8,123.67 162.3,123.64 161.8,123.6 161.3,123.54 160.8,123.43 160.3,123.29 159.8,123.12 159.3,122.93 158.8,122.74 158.3,122.54 157.8,122.34 157.3,122.16 156.8,121.98 156.3,121.77 155.8,121.55 155.3,121.33 154.91,120.84 154.42,120.61 153.91,120.39 153.4,120.21 152.89,120.06 152.39,119.94 151.89,119.82 151.39,119.7 150.89,119.58 150.39,119.47 149.89,119.37 149.38,119.27 148.88,119.18 148.37,119.1 147.86,119.05 147.34,119.01 146.83,118.98 146.31,118.96 145.8,118.96 145.29,118.97 144.78,118.98 144.27,119.01 143.76,119.04 143.25,119.08 142.74,119.12 142.23,119.17 141.73,119.23 141.22,119.29 140.72,119.36 140.21,119.43 139.71,119.5 139.21,119.57 138.7,119.65 138.2,119.73 137.7,119.81 137.2,119.88 136.69,119.97 136.17,120.07 135.66,120.18 135.15,120.3 134.64,120.43 134.13,120.56 133.62,120.71 133.11,120.86 132.6,121.02 132.1,121.18 131.59,121.36 131.09,121.53 130.58,121.71 130.08,121.9 129.57,122.09 129.07,122.28 128.57,122.48 128.06,122.68 127.56,122.88 127.06,123.08 126.56,123.29 126.06,123.49 125.55,123.7 125.04,123.93 124.53,124.16 124.03,124.39 123.52,124.64 123.01,124.89 122.5,125.15 122,125.42 121.49,125.69 120.99,125.97 120.48,126.26 119.98,126.55 119.47,126.85 118.97,127.16 118.46,127.47 117.96,127.78 117.45,128.11 116.95,128.43 116.44,128.77 115.93,129.12 115.42,129.49 114.91,129.87 114.41,130.26 113.9,130.66 113.39,131.07 112.89,131.49 112.38,131.92 111.88,132.36 111.38,132.8 110.87,133.25 110.37,133.7 109.87,134.15 109.37,134.61 108.87,135.07 108.37,135.53 107.86,136 107.36,136.47 106.86,136.95 106.35,137.44 105.85,137.94 105.35,138.44 104.84,138.95 104.34,139.46 103.84,139.98 103.34,140.5 102.84,141.03 102.33,141.56 101.83,142.1 101.33,142.63 100.83,143.18 100.33,143.72 99.83,144.27 99.33,144.81 98.83,145.36 98.33,145.91 97.83,146.47 97.33,147.02 96.84,147.58 96.34,148.14 95.85,148.71 95.36,149.28 94.87,149.85 94.38,150.44 93.89,151.02 93.41,151.61 92.92,152.2 92.44,152.79 91.95,153.39 91.47,153.99 90.98,154.6 90.49,155.2 90,155.81 89.51,156.41 89.02,157.02 88.53,157.64 88.04,158.25 87.55,158.87 87.06,159.49 86.57,160.11 86.07,160.73 85.57,161.36 85.07,162 84.57,162.64 84.07,163.29 83.57,163.94 83.07,164.59 82.58,165.25 82.08,165.91 81.58,166.57 81.08,167.23 80.58,167.89 80.08,168.55 79.58,169.2 79.08,169.86 78.59,170.51 78.09,171.16 77.59,171.8 77.09,172.44 76.59,173.07 76.09,173.71 75.59,174.36 75.09,175 74.59,175.65 74.09,176.29 73.59,176.94 73.09,177.58 72.6,178.22 72.1,178.86 71.6,179.5 71.1,180.13 70.6,180.76 70.1,181.38 69.6,181.99 69.1,182.6 68.61,183.2 68.11,183.79 67.61,184.37 67.11,184.94 66.61,185.5 66.11,186.05 65.62,186.59 65.12,187.13 64.62,187.65 64.12,188.18 63.62,188.69 63.12,189.2 62.62,189.71 62.13,190.21 61.63,190.7 61.13,191.18 60.63,191.66 60.13,192.13 59.63,192.6 59.13,193.05 58.64,193.51 58.16,193.93 57.74,194.16 57.3,194.15 56.8,194.15 56.3,194.15 55.8,194.15 55.3,194.15 54.8,194.15 54.3,194.15 53.8,194.15 53.3,194.15 52.8,194.15 52.3,194.15 51.8,194.15 51.3,194.15 50.8,194.15 50.3,194.15 49.8,194.15 49.3,194.15 48.8,194.15 48.3,194.15 47.8,194.15 47.3,194.15" fill="#e4002c"/>
<text x="59.5" y="208.6" font-size="6.8" text-anchor="middle" fill="#111">-30</text>
<text x="75.6" y="208.6" font-size="6.8" text-anchor="middle" fill="#111">-20</text>
<text x="97.2" y="208.6" font-size="6.8" text-anchor="middle" fill="#111">-10</text>
<text x="118.6" y="208.6" font-size="6.8" text-anchor="middle" fill="#111">0</text>
<text x="138.4" y="208.6" font-size="6.8" text-anchor="middle" fill="#111">10</text>
<text x="157.6" y="208.6" font-size="6.8" text-anchor="middle" fill="#111">20</text>
<text x="177.2" y="208.6" font-size="6.8" text-anchor="middle" fill="#111">30</text>
<text x="38.7" y="195.7" font-size="6.8" text-anchor="end" fill="#111">0.1</text>
<text x="38.7" y="181.3" font-size="6.8" text-anchor="end" fill="#111">0.2</text>
<text x="38.7" y="166.9" font-size="6.8" text-anchor="end" fill="#111">0.3</text>
<text x="38.7" y="152.5" font-size="6.8" text-anchor="end" fill="#111">0.4</text>
<text x="38.7" y="138.1" font-size="6.8" text-anchor="end" fill="#111">0.5</text>
<text x="38.7" y="123.7" font-size="6.8" text-anchor="end" fill="#111">0.6</text>
<text x="25.2" y="158" font-size="7" text-anchor="middle" fill="#111" transform="rotate(-90 25.2 158)">Probability presence</text>
<text x="17.2" y="118" font-size="9.2" text-anchor="start" fill="#000">D</text>
<path d="M226.5 115.5V198.9M240.18 115.5V198.9M253.85 115.5V198.9M267.52 115.5V198.9M281.2 115.5V198.9M294.88 115.5V198.9M308.55 115.5V198.9M322.23 115.5V198.9M335.9 115.5V198.9M209.9 186.35H349.7M209.9 173.6H349.7M209.9 160.85H349.7M209.9 148.1H349.7M209.9 135.35H349.7M209.9 122.6H349.7" stroke="#e0e0e0" stroke-width="0.9" fill="none"/>
<rect x="209.9" y="115.5" width="139.8" height="83.4" fill="none" stroke="#a8a8a8" stroke-width="1"/>
<path d="M226.5 115.5v1.3M226.5 198.9v-1.3M240.18 115.5v1.3M240.18 198.9v-1.3M253.85 115.5v1.3M253.85 198.9v-1.3M267.52 115.5v1.3M267.52 198.9v-1.3M281.2 115.5v1.3M281.2 198.9v-1.3M294.88 115.5v1.3M294.88 198.9v-1.3M308.55 115.5v1.3M308.55 198.9v-1.3M322.23 115.5v1.3M322.23 198.9v-1.3M335.9 115.5v1.3M335.9 198.9v-1.3M209.9 186.35h1.3M349.7 186.35h-1.3M209.9 173.6h1.3M349.7 173.6h-1.3M209.9 160.85h1.3M349.7 160.85h-1.3M209.9 148.1h1.3M349.7 148.1h-1.3M209.9 135.35h1.3M349.7 135.35h-1.3M209.9 122.6h1.3M349.7 122.6h-1.3" stroke="#555" stroke-width="0.6" fill="none"/>
<polygon points="215.9,195.5 216.4,195.5 216.9,195.5 217.4,195.5 217.9,195.5 218.4,195.5 218.9,195.5 219.4,195.5 219.9,195.5 220.4,195.5 220.9,195.5 221.4,195.5 221.9,195.5 222.4,195.5 222.9,195.5 223.4,195.5 223.9,195.5 224.4,195.5 224.9,195.5 225.4,195.5 225.9,195.5 226.95,195.31 227.68,194.27 228.19,193.28 228.69,192.31 229.19,191.35 229.69,190.38 230.19,189.42 230.69,188.46 231.19,187.49 231.69,186.53 232.19,185.57 232.69,184.61 233.19,183.65 233.69,182.69 234.19,181.72 234.69,180.76 235.19,179.8 235.69,178.83 236.19,177.86 236.68,176.9 237.18,175.93 237.68,174.97 238.18,174.01 238.68,173.05 239.18,172.09 239.68,171.14 240.17,170.2 240.67,169.26 241.17,168.33 241.67,167.39 242.17,166.46 242.67,165.53 243.17,164.6 243.66,163.68 244.16,162.76 244.66,161.84 245.16,160.93 245.66,160.03 246.15,159.13 246.65,158.24 247.15,157.36 247.64,156.49 248.14,155.63 248.64,154.78 249.14,153.93 249.63,153.09 250.13,152.25 250.63,151.42 251.12,150.6 251.62,149.79 252.11,148.98 252.61,148.18 253.1,147.38 253.59,146.59 254.09,145.81 254.58,145.04 255.07,144.26 255.56,143.48 256.06,142.71 256.55,141.93 257.04,141.16 257.53,140.4 258.02,139.65 258.51,138.92 259,138.2 259.48,137.51 259.97,136.84 260.46,136.2 260.95,135.59 261.43,135 261.93,134.43 262.42,133.88 262.91,133.33 263.41,132.81 263.9,132.29 264.4,131.79 264.89,131.3 265.38,130.82 265.88,130.35 266.37,129.9 266.86,129.46 267.36,129.02 267.85,128.6 268.35,128.19 268.85,127.77 269.35,127.35 269.84,126.94 270.34,126.54 270.84,126.14 271.33,125.75 271.82,125.37 272.31,125.01 272.8,124.66 273.29,124.32 273.78,124 274.26,123.7 274.74,123.42 275.22,123.16 275.7,122.93 276.18,122.71 276.67,122.5 277.16,122.31 277.66,122.12 278.15,121.95 278.64,121.79 279.13,121.63 279.62,121.49 280.11,121.36 280.59,121.24 281.08,121.14 281.58,121.04 282.09,120.93 282.59,120.83 283.08,120.73 283.56,120.65 284.03,120.58 284.49,120.53 284.95,120.51 285.4,120.51 285.87,120.54 286.34,120.58 286.81,120.63 287.29,120.69 287.78,120.77 288.26,120.85 288.75,120.94 289.24,121.03 289.73,121.13 290.19,121.23 290.65,121.35 291.11,121.49 291.57,121.64 292.03,121.81 292.5,122 292.97,122.2 293.45,122.41 293.92,122.63 294.4,122.85 294.86,123.08 295.31,123.33 295.76,123.59 296.21,123.87 296.66,124.17 297.11,124.49 297.56,124.82 298.01,125.17 298.46,125.53 298.91,125.9 299.36,126.29 299.82,126.68 300.27,127.09 300.72,127.5 301.16,127.91 301.58,128.34 302.02,128.79 302.45,129.27 302.88,129.78 303.32,130.3 303.76,130.85 304.2,131.41 304.65,132 305.09,132.59 305.54,133.21 305.99,133.84 306.45,134.48 306.89,135.11 307.32,135.77 307.76,136.46 308.2,137.18 308.64,137.93 309.09,138.71 309.55,139.51 310,140.33 310.46,141.17 310.92,142.02 311.38,142.88 311.85,143.75 312.32,144.63 312.78,145.49 313.24,146.36 313.69,147.24 314.15,148.14 314.61,149.06 315.07,149.99 315.53,150.93 316,151.88 316.46,152.84 316.93,153.81 317.4,154.78 317.87,155.75 318.34,156.72 318.81,157.7 319.28,158.65 319.74,159.59 320.19,160.55 320.65,161.55 321.12,162.56 321.59,163.59 322.07,164.62 322.56,165.65 323.05,166.67 323.55,167.67 324.06,168.65 324.58,169.6 325.12,170.51 325.64,171.36 326.15,172.16 326.67,172.93 327.19,173.67 327.73,174.39 328.29,175.07 329.63,176.33 331.97,177.08 332.9,177.1 333.4,177.1 333.9,177.1 334.4,177.1 334.9,177.1 335.4,177.1 335.9,177.1 336.4,177.1 336.9,177.1 337.4,177.1 337.9,177.1 338.4,177.1 338.9,177.1 339.4,177.1 339.9,177.1 340.4,177.1 340.9,177.1 341.4,177.1 341.9,177.1 342.4,177.1 342.4,168.7 341.9,168.7 341.4,168.7 340.9,168.7 340.4,168.7 339.9,168.7 339.4,168.7 338.9,168.7 338.4,168.7 337.9,168.7 337.4,168.7 336.9,168.7 336.4,168.7 335.9,168.7 335.4,168.7 334.9,168.7 334.4,168.7 333.9,168.7 333.4,168.7 332.9,168.7 332.83,168.72 334.17,169.26 334.51,169.45 334.07,168.99 333.61,168.5 333.13,167.97 332.65,167.41 332.16,166.81 331.68,166.19 331.22,165.53 330.74,164.79 330.25,163.99 329.75,163.13 329.24,162.22 328.73,161.28 328.21,160.3 327.68,159.31 327.15,158.31 326.61,157.31 326.06,156.32 325.52,155.35 324.99,154.42 324.46,153.5 323.93,152.57 323.4,151.63 322.87,150.7 322.34,149.75 321.8,148.82 321.27,147.88 320.73,146.95 320.19,146.03 319.65,145.11 319.11,144.21 318.56,143.32 318.02,142.45 317.48,141.61 316.95,140.77 316.42,139.93 315.88,139.09 315.34,138.26 314.8,137.43 314.25,136.61 313.71,135.8 313.16,135.01 312.6,134.24 312.04,133.49 311.48,132.77 310.91,132.07 310.35,131.41 309.81,130.79 309.26,130.18 308.71,129.58 308.15,129 307.6,128.43 307.04,127.87 306.48,127.33 305.92,126.82 305.35,126.31 304.78,125.84 304.22,125.38 303.64,124.94 303.08,124.54 302.53,124.17 301.98,123.81 301.44,123.46 300.89,123.13 300.34,122.8 299.79,122.49 299.24,122.19 298.69,121.9 298.14,121.62 297.59,121.36 297.04,121.11 296.49,120.88 295.94,120.66 295.4,120.46 294.88,120.28 294.35,120.1 293.83,119.92 293.3,119.76 292.77,119.6 292.23,119.45 291.69,119.32 291.15,119.21 290.61,119.11 290.07,119.04 289.56,118.98 289.05,118.92 288.54,118.86 288.02,118.81 287.51,118.76 286.99,118.73 286.46,118.7 285.93,118.69 285.4,118.69 284.85,118.71 284.31,118.77 283.77,118.86 283.24,118.96 282.72,119.09 282.21,119.21 281.71,119.34 281.22,119.47 280.72,119.6 280.21,119.74 279.69,119.89 279.18,120.05 278.67,120.22 278.16,120.4 277.65,120.58 277.14,120.78 276.64,120.99 276.13,121.2 275.62,121.42 275.1,121.66 274.58,121.92 274.06,122.2 273.54,122.5 273.02,122.82 272.51,123.16 272,123.51 271.49,123.88 270.98,124.26 270.47,124.65 269.96,125.04 269.46,125.45 268.96,125.86 268.45,126.28 267.95,126.69 267.45,127.11 266.95,127.53 266.44,127.97 265.94,128.41 265.43,128.86 264.92,129.33 264.42,129.81 263.91,130.3 263.4,130.8 262.9,131.32 262.39,131.84 261.89,132.39 261.38,132.94 260.87,133.51 260.37,134.09 259.85,134.69 259.34,135.32 258.83,135.98 258.32,136.66 257.8,137.36 257.29,138.08 256.78,138.82 256.27,139.57 255.76,140.32 255.25,141.09 254.74,141.86 254.24,142.63 253.73,143.4 253.22,144.16 252.71,144.93 252.21,145.71 251.7,146.49 251.19,147.29 250.69,148.09 250.18,148.9 249.68,149.72 249.17,150.54 248.67,151.38 248.17,152.21 247.66,153.06 247.16,153.91 246.66,154.77 246.16,155.64 245.65,156.51 245.15,157.4 244.65,158.29 244.14,159.19 243.64,160.1 243.14,161.01 242.64,161.93 242.14,162.85 241.63,163.78 241.13,164.71 240.63,165.64 240.13,166.57 239.63,167.5 239.13,168.44 238.63,169.38 238.12,170.33 237.62,171.28 237.12,172.23 236.62,173.19 236.12,174.16 235.62,175.12 235.12,176.08 234.61,177.05 234.11,178.02 233.61,178.98 233.11,179.94 232.61,180.91 232.11,181.87 231.61,182.83 231.11,183.79 230.61,184.75 230.11,185.71 229.61,186.67 229.11,187.63 228.61,188.6 228.11,189.56 227.61,190.52 227.11,191.49 226.61,192.45 226.12,193.38 225.85,193.89 225.9,193.7 225.4,193.7 224.9,193.7 224.4,193.7 223.9,193.7 223.4,193.7 222.9,193.7 222.4,193.7 221.9,193.7 221.4,193.7 220.9,193.7 220.4,193.7 219.9,193.7 219.4,193.7 218.9,193.7 218.4,193.7 217.9,193.7 217.4,193.7 216.9,193.7 216.4,193.7 215.9,193.7" fill="#1414e6"/>
<polygon points="215.9,195.06 216.4,195.06 216.9,195.06 217.4,195.06 217.9,195.06 218.4,195.06 218.9,195.06 219.4,195.06 219.9,195.06 220.4,195.06 220.9,195.06 221.4,195.06 221.9,195.06 222.4,195.06 222.9,195.06 223.4,195.06 223.9,195.06 224.4,195.06 224.9,195.06 225.4,195.06 225.9,195.06 226.68,194.97 227.3,194.06 227.81,193.08 228.31,192.11 228.81,191.15 229.31,190.18 229.81,189.22 230.31,188.26 230.81,187.3 231.31,186.33 231.81,185.37 232.31,184.41 232.81,183.45 233.31,182.49 233.81,181.53 234.31,180.57 234.81,179.6 235.31,178.64 235.81,177.67 236.31,176.71 236.81,175.74 237.31,174.78 237.81,173.82 238.31,172.86 238.81,171.9 239.31,170.95 239.81,170.01 240.31,169.07 240.81,168.14 241.31,167.2 241.81,166.27 242.32,165.34 242.82,164.42 243.32,163.49 243.82,162.57 244.32,161.65 244.82,160.74 245.31,159.84 245.81,158.94 246.31,158.05 246.81,157.17 247.31,156.3 247.81,155.44 248.31,154.59 248.81,153.74 249.31,152.9 249.81,152.06 250.31,151.23 250.81,150.41 251.31,149.6 251.81,148.79 252.31,147.99 252.81,147.2 253.31,146.41 253.81,145.64 254.32,144.87 254.82,144.1 255.32,143.33 255.83,142.56 256.33,141.79 256.83,141.02 257.33,140.27 257.83,139.53 258.33,138.8 258.83,138.09 259.33,137.4 259.83,136.73 260.32,136.09 260.81,135.48 261.31,134.9 261.81,134.33 262.3,133.77 262.8,133.23 263.29,132.7 263.79,132.18 264.28,131.68 264.78,131.18 265.27,130.7 265.77,130.24 266.26,129.78 266.76,129.34 267.25,128.9 267.75,128.48 268.25,128.06 268.75,127.65 269.24,127.23 269.74,126.82 270.24,126.41 270.74,126.02 271.23,125.63 271.73,125.25 272.22,124.88 272.71,124.53 273.2,124.19 273.69,123.87 274.18,123.56 274.66,123.28 275.15,123.02 275.63,122.78 276.12,122.56 276.61,122.35 277.1,122.14 277.59,121.95 278.08,121.77 278.57,121.59 279.06,121.42 279.55,121.27 280.04,121.12 280.53,120.99 281.02,120.86 281.51,120.74 282.01,120.62 282.51,120.5 283,120.38 283.49,120.28 283.97,120.19 284.45,120.12 284.92,120.07 285.4,120.06 285.88,120.06 286.37,120.08 286.86,120.11 287.35,120.16 287.85,120.21 288.34,120.27 288.84,120.33 289.34,120.4 289.84,120.47 290.33,120.55 290.81,120.65 291.3,120.76 291.8,120.89 292.29,121.04 292.79,121.2 293.28,121.37 293.78,121.55 294.28,121.74 294.78,121.94 295.28,122.14 295.77,122.37 296.27,122.61 296.76,122.87 297.26,123.15 297.75,123.43 298.25,123.74 298.75,124.06 299.25,124.39 299.75,124.73 300.25,125.09 300.75,125.45 301.25,125.83 301.75,126.21 302.24,126.61 302.74,127.04 303.24,127.49 303.74,127.96 304.24,128.45 304.74,128.97 305.24,129.51 305.73,130.07 306.23,130.64 306.73,131.23 307.23,131.83 307.73,132.45 308.23,133.08 308.72,133.72 309.22,134.4 309.72,135.1 310.22,135.83 310.72,136.59 311.21,137.37 311.71,138.18 312.21,138.99 312.71,139.82 313.21,140.67 313.71,141.52 314.21,142.37 314.71,143.23 315.21,144.08 315.71,144.95 316.21,145.83 316.71,146.73 317.21,147.65 317.71,148.57 318.21,149.51 318.71,150.45 319.21,151.4 319.71,152.35 320.21,153.31 320.71,154.26 321.21,155.22 321.71,156.16 322.21,157.1 322.7,158.05 323.2,159.03 323.7,160.03 324.2,161.03 324.7,162.04 325.2,163.05 325.7,164.04 326.21,165 326.71,165.94 327.21,166.83 327.71,167.68 328.22,168.47 328.72,169.21 329.22,169.91 329.73,170.58 330.23,171.22 330.73,171.83 331.24,172.41 331.78,172.98 332.38,173.12 332.9,173.12 333.4,173.12 333.9,173.12 334.4,173.12 334.9,173.12 335.4,173.12 335.9,173.12 336.4,173.12 336.9,173.12 337.4,173.12 337.9,173.12 338.4,173.12 338.9,173.12 339.4,173.12 339.9,173.12 340.4,173.12 340.9,173.12 341.4,173.12 341.9,173.12 342.4,173.12 342.4,172.68 341.9,172.68 341.4,172.68 340.9,172.68 340.4,172.68 339.9,172.68 339.4,172.68 338.9,172.68 338.4,172.68 337.9,172.68 337.4,172.68 336.9,172.68 336.4,172.68 335.9,172.68 335.4,172.68 334.9,172.68 334.4,172.68 333.9,172.68 333.4,172.68 332.9,172.68 332.42,172.68 332.02,172.61 331.56,172.11 331.07,171.55 330.57,170.95 330.07,170.32 329.58,169.65 329.08,168.96 328.58,168.23 328.09,167.45 327.59,166.61 327.09,165.73 326.59,164.8 326.1,163.84 325.6,162.85 325.1,161.85 324.6,160.84 324.1,159.83 323.6,158.83 323.1,157.85 322.59,156.9 322.09,155.96 321.59,155.01 321.09,154.06 320.59,153.1 320.09,152.15 319.59,151.2 319.09,150.25 318.59,149.3 318.09,148.36 317.59,147.44 317.09,146.52 316.59,145.62 316.09,144.73 315.59,143.86 315.09,143 314.59,142.15 314.09,141.29 313.59,140.44 313.09,139.6 312.59,138.77 312.09,137.94 311.59,137.14 311.08,136.35 310.58,135.59 310.08,134.85 309.58,134.14 309.08,133.46 308.57,132.81 308.07,132.18 307.57,131.56 307.07,130.95 306.57,130.35 306.07,129.77 305.56,129.21 305.06,128.67 304.56,128.14 304.06,127.63 303.56,127.14 303.06,126.68 302.56,126.24 302.05,125.83 301.55,125.43 301.05,125.04 300.55,124.67 300.05,124.3 299.55,123.94 299.05,123.6 298.55,123.27 298.05,122.95 297.54,122.65 297.04,122.36 296.53,122.09 296.03,121.84 295.52,121.6 295.02,121.38 294.52,121.16 294.02,120.95 293.52,120.75 293.01,120.55 292.51,120.37 292,120.2 291.5,120.05 290.99,119.91 290.47,119.79 289.96,119.69 289.46,119.61 288.96,119.52 288.46,119.44 287.95,119.37 287.45,119.3 286.94,119.24 286.43,119.19 285.92,119.16 285.4,119.14 284.88,119.15 284.35,119.19 283.83,119.25 283.31,119.34 282.8,119.44 282.29,119.54 281.79,119.66 281.29,119.77 280.78,119.88 280.27,120 279.76,120.13 279.25,120.27 278.74,120.43 278.23,120.59 277.72,120.77 277.21,120.95 276.7,121.15 276.19,121.36 275.68,121.57 275.17,121.8 274.65,122.06 274.14,122.34 273.62,122.64 273.11,122.96 272.6,123.29 272.09,123.64 271.58,124.01 271.07,124.38 270.57,124.77 270.06,125.17 269.56,125.57 269.06,125.99 268.56,126.4 268.05,126.82 267.55,127.24 267.05,127.66 266.55,128.09 266.04,128.53 265.54,128.98 265.03,129.45 264.53,129.92 264.02,130.41 263.52,130.91 263.01,131.43 262.51,131.95 262,132.49 261.5,133.05 260.99,133.61 260.49,134.2 259.99,134.8 259.48,135.43 258.97,136.09 258.47,136.77 257.97,137.48 257.47,138.2 256.97,138.94 256.47,139.7 255.97,140.46 255.47,141.23 254.97,142.01 254.48,142.78 253.98,143.56 253.48,144.33 252.99,145.1 252.49,145.89 251.99,146.68 251.49,147.47 250.99,148.28 250.49,149.09 249.99,149.91 249.49,150.74 248.99,151.57 248.49,152.41 247.99,153.25 247.49,154.1 246.99,154.96 246.49,155.83 245.99,156.7 245.49,157.59 244.99,158.48 244.49,159.38 243.98,160.29 243.48,161.2 242.98,162.12 242.48,163.04 241.98,163.97 241.48,164.9 240.99,165.83 240.49,166.76 239.99,167.69 239.49,168.63 238.99,169.57 238.49,170.52 237.99,171.47 237.49,172.42 236.99,173.38 236.49,174.35 235.99,175.31 235.49,176.28 234.99,177.24 234.49,178.21 233.99,179.17 233.49,180.14 232.99,181.1 232.49,182.06 231.99,183.02 231.49,183.98 230.99,184.95 230.49,185.91 229.99,186.87 229.49,187.83 228.99,188.8 228.49,189.76 227.99,190.72 227.49,191.69 226.99,192.65 226.5,193.6 226.12,194.23 225.9,194.14 225.4,194.14 224.9,194.14 224.4,194.14 223.9,194.14 223.4,194.14 222.9,194.14 222.4,194.14 221.9,194.14 221.4,194.14 220.9,194.14 220.4,194.14 219.9,194.14 219.4,194.14 218.9,194.14 218.4,194.14 217.9,194.14 217.4,194.14 216.9,194.14 216.4,194.14 215.9,194.14" fill="#e4002c"/>
<text x="226" y="208.6" font-size="6.8" text-anchor="middle" fill="#111">0</text>
<text x="240.6" y="208.6" font-size="6.8" text-anchor="middle" fill="#111">0.5</text>
<text x="254" y="208.6" font-size="6.8" text-anchor="middle" fill="#111">1</text>
<text x="268" y="208.6" font-size="6.8" text-anchor="middle" fill="#111">1.5</text>
<text x="281" y="208.6" font-size="6.8" text-anchor="middle" fill="#111">2.0</text>
<text x="295.6" y="208.6" font-size="6.8" text-anchor="middle" fill="#111">2.5</text>
<text x="309.4" y="208.6" font-size="6.8" text-anchor="middle" fill="#111">3.0</text>
<text x="323.4" y="208.6" font-size="6.8" text-anchor="middle" fill="#111">3.5</text>
<text x="337.4" y="208.6" font-size="6.8" text-anchor="middle" fill="#111">4.0</text>
<text x="207.3" y="199.9" font-size="6.8" text-anchor="end" fill="#111">0.1</text>
<text x="207.3" y="188.45" font-size="6.8" text-anchor="end" fill="#111">0.2</text>
<text x="207.3" y="175.7" font-size="6.8" text-anchor="end" fill="#111">0.3</text>
<text x="207.3" y="162.95" font-size="6.8" text-anchor="end" fill="#111">0.4</text>
<text x="207.3" y="150.2" font-size="6.8" text-anchor="end" fill="#111">0.5</text>
<text x="207.3" y="137.45" font-size="6.8" text-anchor="end" fill="#111">0.6</text>
<text x="207.3" y="124.7" font-size="6.8" text-anchor="end" fill="#111">0.7</text>
<text x="343" y="208.6" font-size="6.8" text-anchor="start" fill="#111">(*10<tspan font-size="4" dy="-2.2">3</tspan><tspan dy="2.2">)</tspan></text>
<text x="193.6" y="158" font-size="7" text-anchor="middle" fill="#111" transform="rotate(-90 193.6 158)">Probability presence</text>
<text x="187.6" y="118.2" font-size="9.2" text-anchor="start" fill="#000">E</text>
<path d="M399.4 115.5V198.9M415.4 115.5V198.9M431.4 115.5V198.9M447.4 115.5V198.9M463.4 115.5V198.9M479.4 115.5V198.9M495.4 115.5V198.9M511.4 115.5V198.9M383.8 196.58H523.5M383.8 184.75H523.5M383.8 172.92H523.5M383.8 161.09H523.5M383.8 149.26H523.5M383.8 137.43H523.5M383.8 125.6H523.5" stroke="#e0e0e0" stroke-width="0.9" fill="none"/>
<rect x="383.8" y="115.5" width="139.7" height="83.4" fill="none" stroke="#a8a8a8" stroke-width="1"/>
<path d="M399.4 115.5v1.3M399.4 198.9v-1.3M415.4 115.5v1.3M415.4 198.9v-1.3M431.4 115.5v1.3M431.4 198.9v-1.3M447.4 115.5v1.3M447.4 198.9v-1.3M463.4 115.5v1.3M463.4 198.9v-1.3M479.4 115.5v1.3M479.4 198.9v-1.3M495.4 115.5v1.3M495.4 198.9v-1.3M511.4 115.5v1.3M511.4 198.9v-1.3M383.8 196.58h1.3M523.5 196.58h-1.3M383.8 184.75h1.3M523.5 184.75h-1.3M383.8 172.92h1.3M523.5 172.92h-1.3M383.8 161.09h1.3M523.5 161.09h-1.3M383.8 149.26h1.3M523.5 149.26h-1.3M383.8 137.43h1.3M523.5 137.43h-1.3M383.8 125.6h1.3M523.5 125.6h-1.3" stroke="#555" stroke-width="0.6" fill="none"/>
<polygon points="390.2,126.8 390.7,126.8 391.2,126.8 391.7,126.8 392.2,126.8 392.7,126.8 393.2,126.8 393.7,126.8 394.2,126.8 394.7,126.8 395.2,126.8 395.7,126.8 396.2,126.8 396.7,126.8 397.2,126.8 397.7,126.8 398.2,126.8 398.7,126.8 399.2,126.8 399.7,126.8 400.81,126.72 401.92,126.19 402.48,125.78 402.92,125.43 403.36,125.07 403.77,124.71 404.18,124.35 404.59,124.01 404.99,123.69 405.39,123.39 405.79,123.13 406.2,122.89 406.61,122.7 407.05,122.53 407.53,122.36 408.01,122.19 408.49,122.03 408.97,121.88 409.45,121.73 409.93,121.58 410.41,121.45 410.89,121.32 411.37,121.2 411.85,121.08 412.33,120.97 412.81,120.88 413.28,120.79 413.76,120.7 414.24,120.63 414.72,120.56 415.2,120.5 415.69,120.46 416.18,120.42 416.67,120.4 417.17,120.38 417.66,120.38 418.16,120.39 418.66,120.42 419.15,120.45 419.65,120.5 420.15,120.57 420.64,120.64 421.14,120.71 421.64,120.79 422.14,120.87 422.63,120.95 423.13,121.04 423.63,121.12 424.12,121.21 424.61,121.31 425.1,121.43 425.59,121.57 426.08,121.72 426.57,121.89 427.06,122.07 427.55,122.27 428.04,122.47 428.54,122.69 429.03,122.91 429.53,123.14 430.03,123.38 430.53,123.62 431.02,123.86 431.52,124.11 432.01,124.37 432.5,124.65 432.99,124.94 433.49,125.25 433.98,125.57 434.47,125.91 434.97,126.25 435.47,126.6 435.96,126.97 436.46,127.34 436.96,127.71 437.45,128.1 437.95,128.49 438.45,128.88 438.95,129.28 439.45,129.67 439.95,130.07 440.44,130.48 440.94,130.89 441.44,131.32 441.93,131.76 442.43,132.2 442.93,132.66 443.43,133.12 443.92,133.59 444.42,134.07 444.92,134.56 445.42,135.05 445.91,135.56 446.4,136.07 446.89,136.59 447.37,137.12 447.86,137.65 448.34,138.2 448.82,138.76 449.3,139.33 449.77,139.91 450.25,140.49 450.72,141.09 451.2,141.69 451.68,142.3 452.15,142.92 452.63,143.54 453.1,144.16 453.58,144.79 454.06,145.43 454.54,146.06 455.02,146.7 455.5,147.33 455.98,147.97 456.47,148.62 456.95,149.27 457.44,149.93 457.93,150.59 458.42,151.26 458.91,151.93 459.41,152.61 459.9,153.29 460.39,153.98 460.89,154.67 461.38,155.36 461.87,156.06 462.37,156.77 462.86,157.47 463.35,158.19 463.84,158.92 464.34,159.66 464.83,160.41 465.32,161.18 465.82,161.95 466.31,162.72 466.81,163.49 467.3,164.27 467.8,165.04 468.29,165.81 468.79,166.58 469.29,167.33 469.78,168.08 470.28,168.81 470.77,169.53 471.26,170.23 471.75,170.93 472.23,171.63 472.72,172.32 473.21,173.01 473.69,173.69 474.18,174.36 474.67,175.03 475.16,175.69 475.65,176.35 476.15,176.99 476.64,177.62 477.14,178.24 477.64,178.85 478.15,179.45 478.65,180.03 479.16,180.59 479.66,181.15 480.16,181.71 480.67,182.27 481.17,182.82 481.68,183.37 482.19,183.91 482.7,184.44 483.21,184.96 483.72,185.46 484.24,185.96 484.76,186.44 485.28,186.91 485.8,187.35 486.33,187.78 486.85,188.19 487.36,188.57 487.87,188.95 488.39,189.32 488.9,189.68 489.41,190.04 489.93,190.38 490.44,190.72 490.96,191.05 491.48,191.36 492,191.67 492.53,191.96 493.05,192.24 493.58,192.51 494.11,192.77 494.64,193.01 495.16,193.23 495.66,193.43 496.16,193.62 496.67,193.82 497.18,194.01 497.69,194.2 498.21,194.39 498.74,194.57 499.26,194.75 499.79,194.91 500.33,195.07 500.86,195.21 501.4,195.34 501.93,195.46 502.47,195.56 503.01,195.65 503.56,195.72 504.1,195.77 504.64,195.8 505.18,195.81 505.7,195.8 506.2,195.8 506.7,195.8 507.2,195.8 507.7,195.8 508.2,195.8 508.7,195.8 509.2,195.8 509.7,195.8 510.2,195.8 510.7,195.8 511.2,195.8 511.7,195.8 512.2,195.8 512.7,195.8 513.2,195.8 513.7,195.8 514.2,195.8 514.7,195.8 515.2,195.8 515.7,195.8 516.2,195.8 516.7,195.8 516.7,194 516.2,194 515.7,194 515.2,194 514.7,194 514.2,194 513.7,194 513.2,194 512.7,194 512.2,194 511.7,194 511.2,194 510.7,194 510.2,194 509.7,194 509.2,194 508.7,194 508.2,194 507.7,194 507.2,194 506.7,194 506.2,194 505.7,194 505.22,193.99 504.76,193.96 504.3,193.91 503.84,193.83 503.39,193.72 502.93,193.6 502.47,193.45 502,193.29 501.54,193.11 501.07,192.92 500.61,192.71 500.14,192.5 499.66,192.28 499.19,192.05 498.71,191.81 498.22,191.58 497.73,191.34 497.24,191.11 496.74,190.88 496.24,190.66 495.76,190.45 495.29,190.23 494.82,190.01 494.35,189.76 493.87,189.51 493.4,189.24 492.92,188.96 492.44,188.67 491.96,188.36 491.47,188.05 490.99,187.72 490.5,187.39 490.01,187.04 489.53,186.69 489.04,186.33 488.55,185.96 488.07,185.59 487.6,185.21 487.12,184.8 486.64,184.37 486.16,183.92 485.68,183.46 485.19,182.98 484.7,182.48 484.21,181.97 483.72,181.45 483.23,180.92 482.73,180.38 482.24,179.84 481.74,179.28 481.24,178.73 480.75,178.17 480.25,177.62 479.76,177.05 479.26,176.47 478.76,175.89 478.25,175.29 477.75,174.68 477.24,174.07 476.73,173.44 476.22,172.81 475.71,172.17 475.19,171.52 474.68,170.86 474.17,170.2 473.65,169.54 473.14,168.87 472.63,168.19 472.12,167.51 471.62,166.81 471.11,166.09 470.61,165.36 470.11,164.62 469.6,163.86 469.1,163.1 468.59,162.33 468.09,161.57 467.58,160.8 467.08,160.03 466.57,159.27 466.06,158.51 465.56,157.76 465.05,157.02 464.54,156.3 464.03,155.59 463.53,154.88 463.02,154.19 462.51,153.49 462.01,152.8 461.5,152.12 460.99,151.44 460.49,150.76 459.98,150.09 459.47,149.43 458.96,148.77 458.45,148.12 457.93,147.48 457.42,146.85 456.9,146.22 456.38,145.6 455.86,144.99 455.34,144.39 454.82,143.78 454.3,143.19 453.77,142.59 453.25,142 452.72,141.42 452.2,140.85 451.68,140.27 451.15,139.71 450.63,139.15 450.1,138.61 449.58,138.06 449.06,137.53 448.54,137.01 448.03,136.49 447.51,135.98 447,135.48 446.49,134.98 445.98,134.48 445.48,133.99 444.98,133.5 444.48,133.01 443.97,132.54 443.47,132.07 442.97,131.61 442.47,131.16 441.96,130.72 441.46,130.28 440.96,129.86 440.45,129.45 439.95,129.05 439.45,128.65 438.95,128.25 438.45,127.86 437.95,127.47 437.44,127.08 436.94,126.7 436.44,126.32 435.93,125.95 435.43,125.59 434.93,125.24 434.42,124.9 433.91,124.58 433.41,124.26 432.9,123.96 432.39,123.67 431.88,123.4 431.38,123.14 430.87,122.9 430.37,122.66 429.87,122.42 429.37,122.18 428.86,121.96 428.36,121.74 427.85,121.53 427.34,121.33 426.83,121.14 426.32,120.96 425.81,120.8 425.3,120.66 424.79,120.53 424.28,120.43 423.77,120.34 423.27,120.25 422.77,120.16 422.26,120.08 421.76,120 421.26,119.92 420.76,119.84 420.25,119.77 419.75,119.71 419.25,119.63 418.74,119.56 418.24,119.49 417.74,119.41 417.23,119.34 416.73,119.27 416.22,119.21 415.71,119.15 415.2,119.1 414.68,119.06 414.16,119.03 413.64,119.02 413.12,119.03 412.59,119.04 412.07,119.07 411.55,119.1 411.03,119.15 410.51,119.2 409.99,119.26 409.47,119.32 408.95,119.39 408.43,119.46 407.91,119.54 407.39,119.62 406.87,119.69 406.35,119.77 405.79,119.86 405.2,119.98 404.61,120.12 404.01,120.27 403.41,120.44 402.81,120.62 402.22,120.83 401.63,121.05 401.04,121.29 400.48,121.55 399.92,121.83 399.48,122.08 399.59,122.08 399.7,122 399.2,122 398.7,122 398.2,122 397.7,122 397.2,122 396.7,122 396.2,122 395.7,122 395.2,122 394.7,122 394.2,122 393.7,122 393.2,122 392.7,122 392.2,122 391.7,122 391.2,122 390.7,122 390.2,122" fill="#1414e6"/>
<polygon points="390.2,124.62 390.7,124.62 391.2,124.62 391.7,124.62 392.2,124.62 392.7,124.62 393.2,124.62 393.7,124.62 394.2,124.62 394.7,124.62 395.2,124.62 395.7,124.62 396.2,124.62 396.7,124.62 397.2,124.62 397.7,124.62 398.2,124.62 398.7,124.62 399.2,124.62 399.7,124.62 400.26,124.61 400.81,124.32 401.32,123.99 401.82,123.67 402.31,123.37 402.81,123.07 403.31,122.8 403.81,122.54 404.31,122.3 404.81,122.08 405.3,121.88 405.79,121.7 406.28,121.55 406.77,121.43 407.27,121.31 407.77,121.19 408.27,121.09 408.77,120.99 409.27,120.89 409.77,120.81 410.27,120.72 410.77,120.64 411.27,120.57 411.76,120.51 412.26,120.45 412.75,120.41 413.24,120.37 413.74,120.34 414.23,120.33 414.72,120.33 415.2,120.34 415.69,120.36 416.18,120.39 416.67,120.43 417.16,120.47 417.65,120.52 418.14,120.58 418.63,120.63 419.13,120.68 419.62,120.74 420.11,120.8 420.61,120.87 421.1,120.95 421.6,121.02 422.1,121.1 422.59,121.19 423.09,121.27 423.59,121.36 424.08,121.45 424.56,121.55 425.04,121.66 425.52,121.8 426,121.95 426.48,122.12 426.97,122.3 427.46,122.49 427.95,122.69 428.44,122.91 428.93,123.13 429.43,123.36 429.92,123.59 430.42,123.83 430.92,124.07 431.4,124.32 431.89,124.58 432.38,124.86 432.87,125.15 433.36,125.45 433.85,125.77 434.34,126.1 434.83,126.45 435.33,126.8 435.82,127.16 436.32,127.53 436.81,127.9 437.31,128.29 437.81,128.68 438.3,129.07 438.8,129.46 439.3,129.86 439.8,130.26 440.29,130.66 440.79,131.08 441.28,131.5 441.78,131.94 442.27,132.38 442.77,132.83 443.26,133.3 443.76,133.77 444.25,134.24 444.75,134.73 445.25,135.22 445.75,135.72 446.24,136.22 446.74,136.73 447.24,137.25 447.74,137.76 448.24,138.29 448.75,138.82 449.25,139.37 449.76,139.92 450.26,140.48 450.77,141.05 451.27,141.63 451.78,142.21 452.29,142.8 452.8,143.4 453.3,144 453.81,144.6 454.32,145.21 454.83,145.83 455.33,146.44 455.84,147.06 456.34,147.69 456.85,148.32 457.35,148.97 457.85,149.62 458.35,150.27 458.85,150.93 459.36,151.6 459.86,152.27 460.36,152.95 460.86,153.64 461.36,154.33 461.86,155.02 462.36,155.71 462.86,156.42 463.36,157.12 463.86,157.84 464.36,158.57 464.86,159.31 465.36,160.06 465.86,160.82 466.37,161.59 466.87,162.36 467.37,163.13 467.87,163.9 468.37,164.66 468.88,165.43 469.38,166.18 469.89,166.92 470.39,167.66 470.9,168.37 471.41,169.07 471.91,169.76 472.42,170.44 472.93,171.12 473.43,171.79 473.94,172.46 474.45,173.12 474.96,173.77 475.46,174.42 475.97,175.06 476.47,175.7 476.97,176.32 477.47,176.94 477.98,177.55 478.48,178.14 478.98,178.72 479.48,179.29 479.98,179.85 480.48,180.41 480.98,180.97 481.48,181.52 481.99,182.07 482.49,182.61 482.99,183.14 483.49,183.66 483.99,184.17 484.5,184.67 485,185.15 485.5,185.62 486.01,186.07 486.51,186.5 487.02,186.92 487.52,187.31 488.03,187.68 488.53,188.06 489.03,188.42 489.53,188.77 490.04,189.12 490.54,189.46 491.04,189.79 491.55,190.1 492.05,190.41 492.55,190.71 493.06,190.99 493.56,191.26 494.07,191.52 494.58,191.77 495.08,192 495.59,192.21 496.09,192.42 496.58,192.64 497.08,192.85 497.58,193.07 498.08,193.29 498.58,193.51 499.08,193.73 499.58,193.94 500.08,194.14 500.58,194.34 501.08,194.52 501.59,194.69 502.1,194.85 502.61,194.99 503.12,195.11 503.63,195.21 504.15,195.28 504.67,195.33 505.19,195.36 505.7,195.36 506.2,195.36 506.7,195.36 507.2,195.36 507.7,195.36 508.2,195.36 508.7,195.36 509.2,195.36 509.7,195.36 510.2,195.36 510.7,195.36 511.2,195.36 511.7,195.36 512.2,195.36 512.7,195.36 513.2,195.36 513.7,195.36 514.2,195.36 514.7,195.36 515.2,195.36 515.7,195.36 516.2,195.36 516.7,195.36 516.7,194.44 516.2,194.44 515.7,194.44 515.2,194.44 514.7,194.44 514.2,194.44 513.7,194.44 513.2,194.44 512.7,194.44 512.2,194.44 511.7,194.44 511.2,194.44 510.7,194.44 510.2,194.44 509.7,194.44 509.2,194.44 508.7,194.44 508.2,194.44 507.7,194.44 507.2,194.44 506.7,194.44 506.2,194.44 505.7,194.44 505.21,194.44 504.73,194.43 504.25,194.4 503.77,194.34 503.28,194.27 502.79,194.17 502.3,194.07 501.81,193.94 501.32,193.8 500.82,193.65 500.32,193.48 499.82,193.31 499.32,193.12 498.82,192.93 498.32,192.73 497.82,192.52 497.32,192.31 496.82,192.1 496.31,191.88 495.81,191.67 495.32,191.46 494.82,191.24 494.33,191 493.84,190.75 493.34,190.48 492.85,190.2 492.35,189.91 491.85,189.61 491.36,189.3 490.86,188.97 490.36,188.64 489.87,188.3 489.37,187.94 488.87,187.59 488.37,187.22 487.88,186.84 487.38,186.46 486.89,186.06 486.39,185.63 485.9,185.19 485.4,184.73 484.9,184.25 484.41,183.76 483.91,183.26 483.41,182.74 482.91,182.21 482.41,181.68 481.92,181.13 481.42,180.58 480.92,180.03 480.42,179.47 479.92,178.91 479.42,178.34 478.92,177.76 478.42,177.17 477.93,176.57 477.43,175.95 476.93,175.33 476.43,174.7 475.94,174.05 475.44,173.4 474.95,172.74 474.46,172.07 473.97,171.39 473.47,170.71 472.98,170.03 472.49,169.34 471.99,168.65 471.5,167.95 471.01,167.23 470.51,166.5 470.02,165.76 469.52,165 469.03,164.24 468.53,163.47 468.03,162.7 467.53,161.93 467.03,161.15 466.54,160.38 466.04,159.62 465.54,158.86 465.04,158.11 464.54,157.37 464.04,156.65 463.54,155.94 463.04,155.23 462.54,154.53 462.04,153.84 461.54,153.14 461.04,152.45 460.54,151.77 460.04,151.09 459.55,150.42 459.05,149.75 458.55,149.08 458.05,148.43 457.55,147.78 457.06,147.13 456.56,146.49 456.07,145.86 455.57,145.23 455.08,144.6 454.59,143.97 454.1,143.35 453.6,142.73 453.11,142.12 452.62,141.51 452.13,140.91 451.63,140.31 451.14,139.72 450.64,139.14 450.15,138.57 449.65,138 449.16,137.44 448.66,136.9 448.16,136.36 447.66,135.84 447.16,135.33 446.65,134.82 446.15,134.31 445.65,133.82 445.15,133.32 444.64,132.84 444.14,132.36 443.63,131.89 443.13,131.43 442.62,130.98 442.12,130.54 441.61,130.1 441.11,129.68 440.6,129.26 440.1,128.86 439.6,128.46 439.1,128.06 438.59,127.67 438.09,127.28 437.59,126.89 437.08,126.5 436.58,126.13 436.07,125.76 435.57,125.4 435.06,125.05 434.55,124.7 434.04,124.37 433.53,124.06 433.02,123.75 432.51,123.46 432,123.18 431.48,122.93 430.98,122.68 430.48,122.44 429.97,122.2 429.47,121.97 428.96,121.74 428.45,121.52 427.94,121.3 427.43,121.1 426.92,120.91 426.4,120.73 425.88,120.57 425.36,120.43 424.84,120.3 424.32,120.19 423.81,120.1 423.31,120.01 422.81,119.92 422.3,119.84 421.8,119.76 421.3,119.68 420.79,119.61 420.29,119.53 419.78,119.47 419.27,119.41 418.77,119.35 418.26,119.3 417.75,119.27 417.24,119.25 416.73,119.24 416.22,119.24 415.71,119.24 415.2,119.26 414.68,119.29 414.17,119.33 413.66,119.38 413.16,119.44 412.65,119.51 412.14,119.59 411.64,119.68 411.13,119.77 410.63,119.88 410.13,119.99 409.63,120.1 409.13,120.23 408.63,120.35 408.13,120.49 407.63,120.61 407.13,120.74 406.63,120.87 406.12,121.01 405.61,121.17 405.1,121.37 404.59,121.59 404.09,121.84 403.59,122.1 403.09,122.38 402.59,122.68 402.09,122.99 401.58,123.3 401.08,123.62 400.59,123.95 400.14,124.19 399.7,124.18 399.2,124.18 398.7,124.18 398.2,124.18 397.7,124.18 397.2,124.18 396.7,124.18 396.2,124.18 395.7,124.18 395.2,124.18 394.7,124.18 394.2,124.18 393.7,124.18 393.2,124.18 392.7,124.18 392.2,124.18 391.7,124.18 391.2,124.18 390.7,124.18 390.2,124.18" fill="#e4002c"/>
<text x="401" y="208.4" font-size="6.8" text-anchor="middle" fill="#111">20</text>
<text x="418.2" y="208.4" font-size="6.8" text-anchor="middle" fill="#111">40</text>
<text x="433.9" y="208.4" font-size="6.8" text-anchor="middle" fill="#111">60</text>
<text x="451.3" y="208.4" font-size="6.8" text-anchor="middle" fill="#111">80</text>
<text x="465.6" y="208.4" font-size="6.8" text-anchor="middle" fill="#111">100</text>
<text x="483.4" y="208.4" font-size="6.8" text-anchor="middle" fill="#111">120</text>
<text x="499.5" y="208.4" font-size="6.8" text-anchor="middle" fill="#111">140</text>
<text x="514.6" y="208.4" font-size="6.8" text-anchor="middle" fill="#111">160</text>
<text x="381.2" y="198.68" font-size="6.8" text-anchor="end" fill="#111">0.0</text>
<text x="381.2" y="186.85" font-size="6.8" text-anchor="end" fill="#111">0.1</text>
<text x="381.2" y="175.02" font-size="6.8" text-anchor="end" fill="#111">0.2</text>
<text x="381.2" y="163.19" font-size="6.8" text-anchor="end" fill="#111">0.3</text>
<text x="381.2" y="151.36" font-size="6.8" text-anchor="end" fill="#111">0.4</text>
<text x="381.2" y="139.53" font-size="6.8" text-anchor="end" fill="#111">0.5</text>
<text x="381.2" y="127.7" font-size="6.8" text-anchor="end" fill="#111">0.6</text>
<text x="367.4" y="158" font-size="7" text-anchor="middle" fill="#111" transform="rotate(-90 367.4 158)">Probability presence</text>
<text x="357.4" y="117.2" font-size="9.2" text-anchor="start" fill="#000">F</text>
<path d="M37.9 229.3L37.96 231.84L38.05 234.38L38.17 236.92L38.32 239.45L38.51 241.99L38.74 244.53L39.02 247.07L39.34 249.61L39.72 252.15L40.13 254.68L40.58 257.22L41.05 259.76L41.52 262.3L41.98 264.84L42.4 267.38L42.77 269.92L43.07 272.45L43.28 274.99L43.39 277.53L43.39 280.07L43.28 282.61L43.07 285.15L42.77 287.68L42.4 290.22L41.98 292.76L41.52 295.3L41.05 297.84L40.58 300.38L40.13 302.92L39.72 305.45L39.34 307.99L39.02 310.53L38.74 313.07L38.51 315.61L38.32 318.15L38.17 320.68L38.05 323.22L37.96 325.76L37.9 328.3" fill="none" stroke="#3a3a3a" stroke-width="0.55"/>
<path d="M37.9 237.55V282.6M37.9 312.95V325M36.1 237.55h3.6M36.1 325h3.6" stroke="#222" stroke-width="0.5" fill="none"/>
<rect x="33.15" y="282.6" width="9.5" height="30.36" fill="#f6821f" stroke="#5a3a10" stroke-width="0.4"/>
<path d="M33.15 306.03h9.5" stroke="#4a2a08" stroke-width="0.5"/>
<path d="M52.25 235.9L52.31 238.27L52.4 240.64L52.52 243.01L52.67 245.38L52.86 247.75L53.09 250.12L53.37 252.48L53.69 254.85L54.07 257.22L54.48 259.59L54.93 261.96L55.4 264.33L55.87 266.7L56.33 269.07L56.75 271.44L57.12 273.81L57.42 276.18L57.63 278.55L57.74 280.92L57.74 283.28L57.63 285.65L57.42 288.02L57.12 290.39L56.75 292.76L56.33 295.13L55.87 297.5L55.4 299.87L54.93 302.24L54.48 304.61L54.07 306.98L53.69 309.35L53.37 311.72L53.09 314.08L52.86 316.45L52.67 318.82L52.52 321.19L52.4 323.56L52.31 325.93L52.25 328.3" fill="none" stroke="#3a3a3a" stroke-width="0.55"/>
<path d="M52.25 265.93V275.83M52.25 299.43V313.94M50.45 265.93h3.6M50.45 313.94h3.6" stroke="#222" stroke-width="0.5" fill="none"/>
<rect x="47.5" y="275.83" width="9.5" height="23.6" fill="#f6821f" stroke="#5a3a10" stroke-width="0.4"/>
<path d="M47.5 283.42h9.5" stroke="#4a2a08" stroke-width="0.5"/>
<path d="M66.6 290.35L66.66 291.37L66.75 292.38L66.87 293.4L67.02 294.41L67.21 295.43L67.44 296.44L67.72 297.46L68.04 298.47L68.42 299.49L68.83 300.5L69.28 301.52L69.75 302.53L70.22 303.55L70.68 304.57L71.1 305.58L71.47 306.6L71.77 307.61L71.98 308.63L72.09 309.64L72.09 310.66L71.98 311.67L71.77 312.69L71.47 313.7L71.1 314.72L70.68 315.73L70.22 316.75L69.75 317.77L69.28 318.78L68.83 319.8L68.42 320.81L68.04 321.83L67.72 322.84L67.44 323.86L67.21 324.87L67.02 325.89L66.87 326.9L66.75 327.92L66.66 328.93L66.6 329.95" fill="none" stroke="#3a3a3a" stroke-width="0.55"/>
<path d="M66.6 300.25V310.98M66.6 322.53V325M64.8 300.25h3.6M64.8 325h3.6" stroke="#222" stroke-width="0.5" fill="none"/>
<rect x="61.85" y="310.98" width="9.5" height="11.55" fill="#f6821f" stroke="#5a3a10" stroke-width="0.4"/>
<path d="M61.85 319.72h9.5" stroke="#4a2a08" stroke-width="0.5"/>
<path d="M80.95 292L81.01 292.74L81.1 293.48L81.22 294.22L81.37 294.96L81.56 295.7L81.79 296.44L82.07 297.18L82.39 297.92L82.77 298.66L83.18 299.4L83.63 300.14L84.1 300.88L84.57 301.62L85.03 302.37L85.45 303.11L85.82 303.85L86.12 304.59L86.33 305.33L86.44 306.07L86.44 306.81L86.33 307.55L86.12 308.29L85.82 309.03L85.45 309.77L85.03 310.51L84.57 311.25L84.1 311.99L83.63 312.73L83.18 313.47L82.77 314.21L82.39 314.95L82.07 315.69L81.79 316.43L81.56 317.17L81.37 317.91L81.22 318.65L81.1 319.39L81.01 320.13L80.95 320.88" fill="none" stroke="#3a3a3a" stroke-width="0.55"/>
<path d="M80.95 298.6V304.38M80.95 308.5V315.1M79.15 298.6h3.6M79.15 315.1h3.6" stroke="#222" stroke-width="0.5" fill="none"/>
<rect x="76.2" y="304.38" width="9.5" height="4.12" fill="#f6821f" stroke="#5a3a10" stroke-width="0.4"/>
<path d="M76.2 306.85h9.5" stroke="#4a2a08" stroke-width="0.5"/>
<path d="M95.3 272.69L95.36 274.12L95.45 275.55L95.57 276.97L95.72 278.4L95.91 279.82L96.14 281.25L96.42 282.68L96.74 284.1L97.12 285.53L97.53 286.95L97.98 288.38L98.45 289.8L98.92 291.23L99.38 292.66L99.8 294.08L100.17 295.51L100.47 296.93L100.68 298.36L100.79 299.78L100.79 301.21L100.68 302.64L100.47 304.06L100.17 305.49L99.8 306.91L99.38 308.34L98.92 309.76L98.45 311.19L97.98 312.62L97.53 314.04L97.12 315.47L96.74 316.89L96.42 318.32L96.14 319.75L95.91 321.17L95.72 322.6L95.57 324.02L95.45 325.45L95.36 326.87L95.3 328.3" fill="none" stroke="#3a3a3a" stroke-width="0.55"/>
<path d="M95.3 296.12V303.88M95.3 313.45V325.82M93.5 296.12h3.6M93.5 325.82h3.6" stroke="#222" stroke-width="0.5" fill="none"/>
<rect x="90.55" y="303.88" width="9.5" height="9.57" fill="#f6821f" stroke="#5a3a10" stroke-width="0.4"/>
<path d="M90.55 309h9.5" stroke="#4a2a08" stroke-width="0.5"/>
<path d="M109.65 283.25L109.71 284.28L109.8 285.31L109.92 286.34L110.07 287.37L110.26 288.4L110.49 289.42L110.77 290.45L111.09 291.48L111.47 292.51L111.88 293.54L112.33 294.56L112.8 295.59L113.27 296.62L113.73 297.65L114.15 298.68L114.52 299.7L114.82 300.73L115.03 301.76L115.14 302.79L115.14 303.82L115.03 304.84L114.82 305.87L114.52 306.9L114.15 307.93L113.73 308.96L113.27 309.99L112.8 311.01L112.33 312.04L111.88 313.07L111.47 314.1L111.09 315.13L110.77 316.15L110.49 317.18L110.26 318.21L110.07 319.24L109.92 320.27L109.8 321.29L109.71 322.32L109.65 323.35" fill="none" stroke="#3a3a3a" stroke-width="0.55"/>
<path d="M109.65 294.31V298.11M109.65 308.5V310.98M107.85 294.31h3.6M107.85 310.98h3.6" stroke="#222" stroke-width="0.5" fill="none"/>
<rect x="104.9" y="298.11" width="9.5" height="10.39" fill="#f6821f" stroke="#5a3a10" stroke-width="0.4"/>
<path d="M104.9 302.56h9.5" stroke="#4a2a08" stroke-width="0.5"/>
<path d="M124 229.3L124.06 231.84L124.15 234.38L124.27 236.92L124.42 239.45L124.61 241.99L124.84 244.53L125.12 247.07L125.44 249.61L125.82 252.15L126.23 254.68L126.68 257.22L127.15 259.76L127.62 262.3L128.08 264.84L128.5 267.38L128.87 269.92L129.17 272.45L129.38 274.99L129.49 277.53L129.49 280.07L129.38 282.61L129.17 285.15L128.87 287.68L128.5 290.22L128.08 292.76L127.62 295.3L127.15 297.84L126.68 300.38L126.23 302.92L125.82 305.45L125.44 307.99L125.12 310.53L124.84 313.07L124.61 315.61L124.42 318.15L124.27 320.68L124.15 323.22L124.06 325.76L124 328.3" fill="none" stroke="#3a3a3a" stroke-width="0.55"/>
<path d="M124 238.54V253.88M124 315.51V320.88M122.2 238.54h3.6M122.2 320.88h3.6" stroke="#222" stroke-width="0.5" fill="none"/>
<rect x="119.25" y="253.88" width="9.5" height="61.63" fill="#f6821f" stroke="#5a3a10" stroke-width="0.4"/>
<path d="M119.25 285.56h9.5" stroke="#4a2a08" stroke-width="0.5"/>
<path d="M138.35 229.3L138.41 231.84L138.5 234.38L138.62 236.92L138.77 239.45L138.96 241.99L139.19 244.53L139.47 247.07L139.79 249.61L140.17 252.15L140.58 254.68L141.03 257.22L141.5 259.76L141.97 262.3L142.43 264.84L142.85 267.38L143.22 269.92L143.52 272.45L143.73 274.99L143.84 277.53L143.84 280.07L143.73 282.61L143.52 285.15L143.22 287.68L142.85 290.22L142.43 292.76L141.97 295.3L141.5 297.84L141.03 300.38L140.58 302.92L140.17 305.45L139.79 307.99L139.47 310.53L139.19 313.07L138.96 315.61L138.77 318.15L138.62 320.68L138.5 323.22L138.41 325.76L138.35 328.3" fill="none" stroke="#3a3a3a" stroke-width="0.55"/>
<path d="M138.35 231.44V250.92M138.35 286.72V298.6M136.55 231.44h3.6M136.55 298.6h3.6" stroke="#222" stroke-width="0.5" fill="none"/>
<rect x="133.6" y="250.92" width="9.5" height="35.81" fill="#f6821f" stroke="#5a3a10" stroke-width="0.4"/>
<path d="M133.6 275h9.5" stroke="#4a2a08" stroke-width="0.5"/>
<path d="M152.7 230.12L152.76 231.13L152.85 232.14L152.97 233.15L153.12 234.15L153.31 235.16L153.54 236.17L153.82 237.17L154.14 238.18L154.52 239.19L154.93 240.19L155.38 241.2L155.85 242.21L156.32 243.22L156.78 244.22L157.2 245.23L157.57 246.24L157.87 247.24L158.08 248.25L158.19 249.26L158.19 250.26L158.08 251.27L157.87 252.28L157.57 253.28L157.2 254.29L156.78 255.3L156.32 256.31L155.85 257.31L155.38 258.32L154.93 259.33L154.52 260.33L154.14 261.34L153.82 262.35L153.54 263.35L153.31 264.36L153.12 265.37L152.97 266.37L152.85 267.38L152.76 268.39L152.7 269.39" fill="none" stroke="#3a3a3a" stroke-width="0.55"/>
<path d="M152.7 237.88V247.94M152.7 253.06V257.35M150.9 237.88h3.6M150.9 257.35h3.6" stroke="#222" stroke-width="0.5" fill="none"/>
<rect x="147.95" y="247.94" width="9.5" height="5.12" fill="#f6821f" stroke="#5a3a10" stroke-width="0.4"/>
<path d="M147.95 250.75h9.5" stroke="#4a2a08" stroke-width="0.5"/>
<path d="M167.05 263.29L167.11 264.96L167.2 266.62L167.32 268.29L167.47 269.96L167.66 271.62L167.89 273.29L168.17 274.96L168.49 276.63L168.87 278.29L169.28 279.96L169.73 281.63L170.2 283.29L170.67 284.96L171.13 286.63L171.55 288.29L171.92 289.96L172.22 291.63L172.43 293.29L172.54 294.96L172.54 296.63L172.43 298.3L172.22 299.96L171.92 301.63L171.55 303.3L171.13 304.96L170.67 306.63L170.2 308.3L169.73 309.96L169.28 311.63L168.87 313.3L168.49 314.96L168.17 316.63L167.89 318.3L167.66 319.97L167.47 321.63L167.32 323.3L167.2 324.97L167.11 326.63L167.05 328.3" fill="none" stroke="#3a3a3a" stroke-width="0.55"/>
<path d="M167.05 284.41V290.85M167.05 301.41V311.47M165.25 284.41h3.6M165.25 311.47h3.6" stroke="#222" stroke-width="0.5" fill="none"/>
<rect x="162.3" y="290.85" width="9.5" height="10.56" fill="#f6821f" stroke="#5a3a10" stroke-width="0.4"/>
<path d="M162.3 296.12h9.5" stroke="#4a2a08" stroke-width="0.5"/>
<path d="M37.2 231.78h1.4v1.4h-1.4zM37.08 241.76h1.4v1.4h-1.4zM37 232.13h1.4v1.4h-1.4zM37.23 232.9h1.4v1.4h-1.4zM36.98 238.15h1.4v1.4h-1.4zM37.42 240.97h1.4v1.4h-1.4zM37.25 238.49h1.4v1.4h-1.4zM37.19 236.88h1.4v1.4h-1.4zM36.09 249.89h1.4v1.4h-1.4zM35.7 245.36h1.4v1.4h-1.4zM35.7 264.5h1.4v1.4h-1.4zM36.15 267.18h1.4v1.4h-1.4zM37.33 256.31h1.4v1.4h-1.4zM35.7 247.01h1.4v1.4h-1.4zM37.16 256.32h1.4v1.4h-1.4zM35.94 262.48h1.4v1.4h-1.4zM37.32 263.76h1.4v1.4h-1.4zM36.53 263.57h1.4v1.4h-1.4zM36.53 268.11h1.4v1.4h-1.4zM37.93 264.63h1.4v1.4h-1.4zM37.11 247.86h1.4v1.4h-1.4zM37.25 248.63h1.4v1.4h-1.4zM37.26 251.07h1.4v1.4h-1.4zM35.92 255.7h1.4v1.4h-1.4zM37.3 248.07h1.4v1.4h-1.4zM38.7 254.38h1.4v1.4h-1.4zM36.21 259.25h1.4v1.4h-1.4zM37.68 264.73h1.4v1.4h-1.4zM37.76 259.43h1.4v1.4h-1.4zM37.75 254.57h1.4v1.4h-1.4zM36.64 253.46h1.4v1.4h-1.4zM36.82 264.72h1.4v1.4h-1.4zM36.22 262.67h1.4v1.4h-1.4zM37.04 265.97h1.4v1.4h-1.4zM38.14 263.23h1.4v1.4h-1.4zM36.54 261.26h1.4v1.4h-1.4zM35.7 252.9h1.4v1.4h-1.4zM37.12 248.68h1.4v1.4h-1.4zM37.77 247.32h1.4v1.4h-1.4zM36.9 264.84h1.4v1.4h-1.4zM38.46 246.77h1.4v1.4h-1.4zM36.95 264.03h1.4v1.4h-1.4zM37.1 253.38h1.4v1.4h-1.4zM36.28 259.51h1.4v1.4h-1.4zM36.83 262.67h1.4v1.4h-1.4zM37.74 247.96h1.4v1.4h-1.4zM37.75 255.55h1.4v1.4h-1.4zM38.07 250.84h1.4v1.4h-1.4zM37.68 259.6h1.4v1.4h-1.4zM37.49 265.36h1.4v1.4h-1.4zM35.7 253.01h1.4v1.4h-1.4zM36.46 256.1h1.4v1.4h-1.4zM38.7 260.25h1.4v1.4h-1.4zM36.69 252.41h1.4v1.4h-1.4zM37.61 256.21h1.4v1.4h-1.4zM37.03 247.2h1.4v1.4h-1.4zM37.63 246.64h1.4v1.4h-1.4zM37.13 250.81h1.4v1.4h-1.4zM36.33 265.04h1.4v1.4h-1.4zM36.49 249.37h1.4v1.4h-1.4zM37.36 253.68h1.4v1.4h-1.4zM36.71 256.35h1.4v1.4h-1.4zM35.7 262.97h1.4v1.4h-1.4zM37.5 259.81h1.4v1.4h-1.4zM37.9 260.21h1.4v1.4h-1.4zM37.82 254.96h1.4v1.4h-1.4zM37.84 261.93h1.4v1.4h-1.4zM35.93 257.93h1.4v1.4h-1.4zM38.39 256.29h1.4v1.4h-1.4zM36.97 247.49h1.4v1.4h-1.4zM36.4 254.79h1.4v1.4h-1.4zM36.75 247.91h1.4v1.4h-1.4zM36.55 246.88h1.4v1.4h-1.4zM36.15 258.27h1.4v1.4h-1.4zM37.07 246.23h1.4v1.4h-1.4zM37.21 249.58h1.4v1.4h-1.4zM36.93 251.64h1.4v1.4h-1.4zM37.21 260.52h1.4v1.4h-1.4zM36.89 278.72h1.4v1.4h-1.4zM36.36 278.59h1.4v1.4h-1.4zM36.5 270.31h1.4v1.4h-1.4zM37.55 275.07h1.4v1.4h-1.4zM35.68 272.7h1.4v1.4h-1.4zM36.54 268.71h1.4v1.4h-1.4zM37.97 273.11h1.4v1.4h-1.4zM37.27 278.97h1.4v1.4h-1.4zM37.68 275.97h1.4v1.4h-1.4zM37.05 270.64h1.4v1.4h-1.4zM35.93 279.91h1.4v1.4h-1.4zM36.67 270.81h1.4v1.4h-1.4zM37.16 274.49h1.4v1.4h-1.4zM36.67 280.78h1.4v1.4h-1.4zM36.88 281.13h1.4v1.4h-1.4zM37.22 278.12h1.4v1.4h-1.4zM37.91 273.91h1.4v1.4h-1.4zM36.61 273.61h1.4v1.4h-1.4zM38.19 272.45h1.4v1.4h-1.4zM37.05 277.3h1.4v1.4h-1.4zM38.02 274.29h1.4v1.4h-1.4zM38.16 272.71h1.4v1.4h-1.4zM38.78 278.88h1.4v1.4h-1.4zM38.1 280.88h1.4v1.4h-1.4zM38.11 268.73h1.4v1.4h-1.4zM38.75 280.73h1.4v1.4h-1.4zM35.44 277.2h1.4v1.4h-1.4zM36.14 273.13h1.4v1.4h-1.4zM38.08 277.26h1.4v1.4h-1.4zM35.3 270.88h1.4v1.4h-1.4zM37.25 271.28h1.4v1.4h-1.4zM37.24 278.8h1.4v1.4h-1.4zM35.62 272.97h1.4v1.4h-1.4zM36.18 280.13h1.4v1.4h-1.4zM37.73 273.06h1.4v1.4h-1.4zM37.62 270.79h1.4v1.4h-1.4zM36.51 271.87h1.4v1.4h-1.4zM36.27 269.61h1.4v1.4h-1.4zM36.38 281.05h1.4v1.4h-1.4zM37.56 278.57h1.4v1.4h-1.4zM34.9 282.4h1.4v1.4h-1.4zM37.05 294.96h1.4v1.4h-1.4zM34.81 287.62h1.4v1.4h-1.4zM38.43 292.64h1.4v1.4h-1.4zM37.33 287.53h1.4v1.4h-1.4zM39.11 292.71h1.4v1.4h-1.4zM34.2 289.76h1.4v1.4h-1.4zM34.2 295.06h1.4v1.4h-1.4zM36.07 291.25h1.4v1.4h-1.4zM39.4 285.89h1.4v1.4h-1.4zM35.27 294.11h1.4v1.4h-1.4zM39.07 285.7h1.4v1.4h-1.4zM37.28 297.13h1.4v1.4h-1.4zM37.26 298.08h1.4v1.4h-1.4zM38.11 294.66h1.4v1.4h-1.4zM35.48 284.43h1.4v1.4h-1.4zM36.07 296.15h1.4v1.4h-1.4zM35.1 283.51h1.4v1.4h-1.4zM37.19 286.65h1.4v1.4h-1.4zM40.04 286.35h1.4v1.4h-1.4zM36.44 284.56h1.4v1.4h-1.4zM37.82 292.82h1.4v1.4h-1.4zM37.61 290.13h1.4v1.4h-1.4zM37.34 296.09h1.4v1.4h-1.4zM36.76 289.82h1.4v1.4h-1.4zM39.16 283.28h1.4v1.4h-1.4zM37.19 296.21h1.4v1.4h-1.4zM36.28 287.85h1.4v1.4h-1.4zM34.2 281.46h1.4v1.4h-1.4zM38.79 284.25h1.4v1.4h-1.4zM38.3 292.38h1.4v1.4h-1.4zM37.56 296.2h1.4v1.4h-1.4zM36.86 285.8h1.4v1.4h-1.4zM39.69 291.48h1.4v1.4h-1.4zM37.1 291.93h1.4v1.4h-1.4zM36.15 284.23h1.4v1.4h-1.4zM38.04 292.52h1.4v1.4h-1.4zM36.63 286.45h1.4v1.4h-1.4zM37.09 284.47h1.4v1.4h-1.4zM36.55 292.52h1.4v1.4h-1.4zM36.84 285.75h1.4v1.4h-1.4zM34.57 296.86h1.4v1.4h-1.4zM35.13 301.86h1.4v1.4h-1.4zM35.34 311.12h1.4v1.4h-1.4zM33.88 299.71h1.4v1.4h-1.4zM36.44 305.16h1.4v1.4h-1.4zM37.66 302.84h1.4v1.4h-1.4zM34.8 300.68h1.4v1.4h-1.4zM41.6 302.6h1.4v1.4h-1.4zM36.71 306.5h1.4v1.4h-1.4zM37.97 308.61h1.4v1.4h-1.4zM34.52 303.25h1.4v1.4h-1.4zM35.01 312h1.4v1.4h-1.4zM40.89 301.02h1.4v1.4h-1.4zM38.54 309.5h1.4v1.4h-1.4zM36.72 309.75h1.4v1.4h-1.4zM33.93 306.11h1.4v1.4h-1.4zM40.78 310.42h1.4v1.4h-1.4zM34.92 306.36h1.4v1.4h-1.4zM35.98 303.91h1.4v1.4h-1.4zM36.7 305.79h1.4v1.4h-1.4zM37.92 305.94h1.4v1.4h-1.4zM37.1 305.67h1.4v1.4h-1.4zM37 302.31h1.4v1.4h-1.4zM41.6 310.38h1.4v1.4h-1.4zM37.34 311.26h1.4v1.4h-1.4zM38.14 300.32h1.4v1.4h-1.4zM33.79 299.95h1.4v1.4h-1.4zM38.91 306.06h1.4v1.4h-1.4zM33.06 300.67h1.4v1.4h-1.4zM35.56 308.59h1.4v1.4h-1.4zM41.6 311.87h1.4v1.4h-1.4zM35.31 306.61h1.4v1.4h-1.4zM37.06 302.71h1.4v1.4h-1.4zM34.41 302.7h1.4v1.4h-1.4zM34.41 301.53h1.4v1.4h-1.4zM39.77 303.04h1.4v1.4h-1.4zM36.05 310.54h1.4v1.4h-1.4zM36.88 310.56h1.4v1.4h-1.4zM36.38 304.87h1.4v1.4h-1.4zM33.71 300.39h1.4v1.4h-1.4zM36.74 305.96h1.4v1.4h-1.4zM39.62 300.01h1.4v1.4h-1.4zM35.3 302.14h1.4v1.4h-1.4zM38.15 302.17h1.4v1.4h-1.4zM39.69 304.25h1.4v1.4h-1.4zM34.26 307.03h1.4v1.4h-1.4zM39.15 303.61h1.4v1.4h-1.4zM32.8 308.33h1.4v1.4h-1.4zM38.65 309.99h1.4v1.4h-1.4zM36.27 302.6h1.4v1.4h-1.4zM34.47 303.14h1.4v1.4h-1.4zM36.78 300.1h1.4v1.4h-1.4zM35.63 307.35h1.4v1.4h-1.4zM33.16 305.84h1.4v1.4h-1.4zM39.58 311.63h1.4v1.4h-1.4zM39.79 305.38h1.4v1.4h-1.4zM34.67 312.23h1.4v1.4h-1.4zM36.09 304.42h1.4v1.4h-1.4zM35.9 311.77h1.4v1.4h-1.4zM36.46 309.82h1.4v1.4h-1.4zM34.08 301.15h1.4v1.4h-1.4zM39.34 306.75h1.4v1.4h-1.4zM37.21 303.41h1.4v1.4h-1.4zM34.84 302.1h1.4v1.4h-1.4zM35.95 304.56h1.4v1.4h-1.4zM35.31 303.8h1.4v1.4h-1.4zM36.65 307.39h1.4v1.4h-1.4zM38.62 307.52h1.4v1.4h-1.4zM38.66 307.73h1.4v1.4h-1.4zM34.57 302.78h1.4v1.4h-1.4zM37.33 308.29h1.4v1.4h-1.4zM35.01 307.72h1.4v1.4h-1.4zM33.03 302.38h1.4v1.4h-1.4zM34.58 303.34h1.4v1.4h-1.4zM37.06 301.39h1.4v1.4h-1.4zM33.51 305.39h1.4v1.4h-1.4zM35.4 303.8h1.4v1.4h-1.4zM38.12 307.2h1.4v1.4h-1.4zM35.45 308.89h1.4v1.4h-1.4zM35.37 307.06h1.4v1.4h-1.4zM34.85 306.84h1.4v1.4h-1.4zM32.8 305.08h1.4v1.4h-1.4zM36.42 301.01h1.4v1.4h-1.4zM37.12 309.23h1.4v1.4h-1.4zM37.32 306.23h1.4v1.4h-1.4zM34.69 311.78h1.4v1.4h-1.4zM34.75 310.14h1.4v1.4h-1.4zM39.01 301.82h1.4v1.4h-1.4zM34.87 306.5h1.4v1.4h-1.4zM36.34 306.7h1.4v1.4h-1.4zM32.8 305.54h1.4v1.4h-1.4zM34.6 308.57h1.4v1.4h-1.4zM34.59 302.58h1.4v1.4h-1.4zM33.55 303.08h1.4v1.4h-1.4zM40.55 306.87h1.4v1.4h-1.4zM36.23 303.74h1.4v1.4h-1.4zM32.8 304.26h1.4v1.4h-1.4zM37.13 304.34h1.4v1.4h-1.4zM36.97 306.46h1.4v1.4h-1.4zM37.04 304.42h1.4v1.4h-1.4zM40.32 300.05h1.4v1.4h-1.4zM36.87 308.71h1.4v1.4h-1.4zM37.04 311.86h1.4v1.4h-1.4zM35.4 302.56h1.4v1.4h-1.4zM34.68 310.17h1.4v1.4h-1.4zM36.95 308.51h1.4v1.4h-1.4zM36.76 306.31h1.4v1.4h-1.4zM34.91 304.09h1.4v1.4h-1.4zM35.87 302.62h1.4v1.4h-1.4zM37.19 308.21h1.4v1.4h-1.4zM37.36 306.97h1.4v1.4h-1.4zM35.71 310.88h1.4v1.4h-1.4zM32.8 304.3h1.4v1.4h-1.4zM37.57 310.93h1.4v1.4h-1.4zM36.17 309.01h1.4v1.4h-1.4zM34.84 312.41h1.4v1.4h-1.4zM35.86 310.57h1.4v1.4h-1.4zM34.29 312.55h1.4v1.4h-1.4zM37.55 309.19h1.4v1.4h-1.4zM36.14 310.32h1.4v1.4h-1.4zM33.17 307.39h1.4v1.4h-1.4zM37.79 301.97h1.4v1.4h-1.4zM38.13 300.56h1.4v1.4h-1.4zM36.57 303.93h1.4v1.4h-1.4zM38.24 303.99h1.4v1.4h-1.4zM33.54 302.56h1.4v1.4h-1.4zM39.26 313.29h1.4v1.4h-1.4zM37.61 322.98h1.4v1.4h-1.4zM38.86 323.93h1.4v1.4h-1.4zM34 313.73h1.4v1.4h-1.4zM34.57 317.23h1.4v1.4h-1.4zM36.08 316.46h1.4v1.4h-1.4zM36.55 313.3h1.4v1.4h-1.4zM40.28 320.42h1.4v1.4h-1.4zM37.02 324.08h1.4v1.4h-1.4zM34.98 316.29h1.4v1.4h-1.4zM37.95 314.47h1.4v1.4h-1.4zM37.39 320.41h1.4v1.4h-1.4zM35.84 322.77h1.4v1.4h-1.4zM38.49 320.79h1.4v1.4h-1.4zM39.08 313.58h1.4v1.4h-1.4zM36.66 313.92h1.4v1.4h-1.4zM35.44 314.44h1.4v1.4h-1.4zM38.22 324.26h1.4v1.4h-1.4zM37.74 321.46h1.4v1.4h-1.4zM36.56 315.07h1.4v1.4h-1.4zM35.68 321.85h1.4v1.4h-1.4zM36.61 313.45h1.4v1.4h-1.4zM37.87 316.19h1.4v1.4h-1.4zM37.17 314.89h1.4v1.4h-1.4zM34 318.34h1.4v1.4h-1.4zM38.16 317.95h1.4v1.4h-1.4zM40.19 323.33h1.4v1.4h-1.4zM37.75 315.47h1.4v1.4h-1.4zM38.59 320.69h1.4v1.4h-1.4zM37.13 319.05h1.4v1.4h-1.4zM40.4 320.92h1.4v1.4h-1.4zM37.11 316.96h1.4v1.4h-1.4zM39.56 319.93h1.4v1.4h-1.4zM39.79 316.23h1.4v1.4h-1.4zM36.87 323.99h1.4v1.4h-1.4zM38.58 316.06h1.4v1.4h-1.4zM34.54 315.86h1.4v1.4h-1.4zM37.79 318.88h1.4v1.4h-1.4zM34.52 319.12h1.4v1.4h-1.4zM38.07 320.77h1.4v1.4h-1.4zM36.36 321.76h1.4v1.4h-1.4zM36.78 322.3h1.4v1.4h-1.4zM35.6 318.92h1.4v1.4h-1.4zM37.56 315.77h1.4v1.4h-1.4zM38.39 321.15h1.4v1.4h-1.4zM35.58 318.45h1.4v1.4h-1.4zM36.58 322.86h1.4v1.4h-1.4zM37.58 318.82h1.4v1.4h-1.4zM36.09 323.53h1.4v1.4h-1.4zM39.33 314.31h1.4v1.4h-1.4zM40.4 324.23h1.4v1.4h-1.4zM37.59 320.04h1.4v1.4h-1.4zM36.98 323.45h1.4v1.4h-1.4zM37.41 314.91h1.4v1.4h-1.4zM35.74 319.07h1.4v1.4h-1.4zM34.67 320.61h1.4v1.4h-1.4zM35.87 319.77h1.4v1.4h-1.4zM37.57 323.35h1.4v1.4h-1.4zM36.61 313.29h1.4v1.4h-1.4zM35.63 316.83h1.4v1.4h-1.4zM35.4 317.7h1.4v1.4h-1.4zM37.15 317.49h1.4v1.4h-1.4zM36.58 317.94h1.4v1.4h-1.4zM38.43 317.57h1.4v1.4h-1.4zM35.37 322.38h1.4v1.4h-1.4zM49.07 267.04h1.4v1.4h-1.4zM50.89 281.41h1.4v1.4h-1.4zM51.83 289.94h1.4v1.4h-1.4zM48.88 269.59h1.4v1.4h-1.4zM48.84 299.83h1.4v1.4h-1.4zM53.92 294.63h1.4v1.4h-1.4zM50.41 312.6h1.4v1.4h-1.4zM54.42 287.65h1.4v1.4h-1.4zM51.46 294.68h1.4v1.4h-1.4zM51.13 281.13h1.4v1.4h-1.4zM54.83 290.38h1.4v1.4h-1.4zM53.65 273.98h1.4v1.4h-1.4zM48.24 280.29h1.4v1.4h-1.4zM51.25 310.89h1.4v1.4h-1.4zM49.27 270.1h1.4v1.4h-1.4zM48.51 292.01h1.4v1.4h-1.4zM51.31 295.66h1.4v1.4h-1.4zM51.26 313.25h1.4v1.4h-1.4zM51.72 265.23h1.4v1.4h-1.4zM64.75 321.43h1.4v1.4h-1.4zM65.25 307.53h1.4v1.4h-1.4zM68.53 305.91h1.4v1.4h-1.4zM67.5 323.53h1.4v1.4h-1.4zM65.48 320.21h1.4v1.4h-1.4zM63.49 300.24h1.4v1.4h-1.4zM63.4 305.18h1.4v1.4h-1.4zM63.38 322.58h1.4v1.4h-1.4zM63.13 324.04h1.4v1.4h-1.4zM62.72 310.99h1.4v1.4h-1.4zM62.96 322.79h1.4v1.4h-1.4zM66.34 305.35h1.4v1.4h-1.4zM69.28 303h1.4v1.4h-1.4zM65.3 312.44h1.4v1.4h-1.4zM69.25 322.09h1.4v1.4h-1.4zM68.91 316.59h1.4v1.4h-1.4zM68.89 323.38h1.4v1.4h-1.4zM65.71 324.3h1.4v1.4h-1.4zM65.65 299.55h1.4v1.4h-1.4zM79.9 300.95h1.4v1.4h-1.4zM77.8 306.01h1.4v1.4h-1.4zM80.69 304.69h1.4v1.4h-1.4zM78.41 299.04h1.4v1.4h-1.4zM78.92 306.65h1.4v1.4h-1.4zM79.05 301.51h1.4v1.4h-1.4zM77.57 302.6h1.4v1.4h-1.4zM78.87 299.31h1.4v1.4h-1.4zM79.6 303.48h1.4v1.4h-1.4zM79.22 302.21h1.4v1.4h-1.4zM77.9 300.27h1.4v1.4h-1.4zM83.44 303.21h1.4v1.4h-1.4zM78.21 306.75h1.4v1.4h-1.4zM80.97 312.51h1.4v1.4h-1.4zM77.14 308.13h1.4v1.4h-1.4zM81.63 305.32h1.4v1.4h-1.4zM76.88 306.45h1.4v1.4h-1.4zM79.32 314.4h1.4v1.4h-1.4zM80.35 297.9h1.4v1.4h-1.4zM80.75 319.02h1.4v1.4h-1.4zM79.45 317.04h1.4v1.4h-1.4zM93.47 310.81h1.4v1.4h-1.4zM97.5 312.45h1.4v1.4h-1.4zM96.02 310.79h1.4v1.4h-1.4zM97.73 310.41h1.4v1.4h-1.4zM91.83 317.26h1.4v1.4h-1.4zM92.69 312.48h1.4v1.4h-1.4zM95.51 311.54h1.4v1.4h-1.4zM97.34 311.26h1.4v1.4h-1.4zM91.79 309.56h1.4v1.4h-1.4zM94.92 316.75h1.4v1.4h-1.4zM92.97 302.4h1.4v1.4h-1.4zM96.76 295.8h1.4v1.4h-1.4zM91.3 299.16h1.4v1.4h-1.4zM92.08 324.3h1.4v1.4h-1.4zM96.55 296.88h1.4v1.4h-1.4zM91.44 311.06h1.4v1.4h-1.4zM92.86 313.03h1.4v1.4h-1.4zM95.33 325.12h1.4v1.4h-1.4zM94.41 295.43h1.4v1.4h-1.4zM105.61 302.55h1.4v1.4h-1.4zM110.39 305.73h1.4v1.4h-1.4zM111.65 298.77h1.4v1.4h-1.4zM111.94 304.89h1.4v1.4h-1.4zM105.86 306.8h1.4v1.4h-1.4zM105.92 308.84h1.4v1.4h-1.4zM108.51 302.56h1.4v1.4h-1.4zM106.4 307.93h1.4v1.4h-1.4zM111.22 303.56h1.4v1.4h-1.4zM109.47 294.64h1.4v1.4h-1.4zM105.65 299.3h1.4v1.4h-1.4zM108.75 296.67h1.4v1.4h-1.4zM105.94 308.94h1.4v1.4h-1.4zM105.94 300.94h1.4v1.4h-1.4zM109.22 307.61h1.4v1.4h-1.4zM107.56 302.56h1.4v1.4h-1.4zM111.72 296.75h1.4v1.4h-1.4zM109.87 310.28h1.4v1.4h-1.4zM108.94 293.61h1.4v1.4h-1.4zM121.87 261.84h1.4v1.4h-1.4zM124.8 318.63h1.4v1.4h-1.4zM126.2 277.68h1.4v1.4h-1.4zM123.58 265.06h1.4v1.4h-1.4zM120.37 293.23h1.4v1.4h-1.4zM120.56 276.41h1.4v1.4h-1.4zM126.57 238.42h1.4v1.4h-1.4zM121.11 315.85h1.4v1.4h-1.4zM125.81 319.09h1.4v1.4h-1.4zM123.44 316.84h1.4v1.4h-1.4zM121.88 282.8h1.4v1.4h-1.4zM125.35 306.91h1.4v1.4h-1.4zM119.99 319.41h1.4v1.4h-1.4zM121.18 306.53h1.4v1.4h-1.4zM122.82 246.7h1.4v1.4h-1.4zM121.87 273.86h1.4v1.4h-1.4zM126.05 286.25h1.4v1.4h-1.4zM122.79 320.18h1.4v1.4h-1.4zM123.74 237.84h1.4v1.4h-1.4zM136.93 254h1.4v1.4h-1.4zM138.82 254.61h1.4v1.4h-1.4zM140.99 281.12h1.4v1.4h-1.4zM140.77 275.25h1.4v1.4h-1.4zM135.7 280.24h1.4v1.4h-1.4zM138.28 269.12h1.4v1.4h-1.4zM139.76 282.13h1.4v1.4h-1.4zM135.19 291.22h1.4v1.4h-1.4zM137.16 263.48h1.4v1.4h-1.4zM137.72 293.27h1.4v1.4h-1.4zM139.46 265.84h1.4v1.4h-1.4zM140.99 245.21h1.4v1.4h-1.4zM137.07 241.96h1.4v1.4h-1.4zM138.6 246.79h1.4v1.4h-1.4zM140.19 240.16h1.4v1.4h-1.4zM136.19 269.37h1.4v1.4h-1.4zM138.98 294.14h1.4v1.4h-1.4zM137.47 297.9h1.4v1.4h-1.4zM138.52 230.75h1.4v1.4h-1.4zM155.36 256.52h1.4v1.4h-1.4zM151.98 246.5h1.4v1.4h-1.4zM149.86 249.55h1.4v1.4h-1.4zM152.7 250.8h1.4v1.4h-1.4zM150.84 252.63h1.4v1.4h-1.4zM151.13 247.19h1.4v1.4h-1.4zM154.51 256.14h1.4v1.4h-1.4zM153.89 244.29h1.4v1.4h-1.4zM149.16 247.78h1.4v1.4h-1.4zM151.65 248.52h1.4v1.4h-1.4zM150.62 249.73h1.4v1.4h-1.4zM154.43 248.56h1.4v1.4h-1.4zM155.29 249.33h1.4v1.4h-1.4zM149.26 248.42h1.4v1.4h-1.4zM154.64 254.15h1.4v1.4h-1.4zM148.99 252.92h1.4v1.4h-1.4zM150.41 245.26h1.4v1.4h-1.4zM151.65 256.65h1.4v1.4h-1.4zM152.18 237.18h1.4v1.4h-1.4zM163.04 284.15h1.4v1.4h-1.4zM168.51 296.88h1.4v1.4h-1.4zM168.12 295.3h1.4v1.4h-1.4zM163.54 288.28h1.4v1.4h-1.4zM167.02 291.41h1.4v1.4h-1.4zM165.57 296.06h1.4v1.4h-1.4zM169.42 286.37h1.4v1.4h-1.4zM167.12 296.4h1.4v1.4h-1.4zM166.15 303.66h1.4v1.4h-1.4zM169.5 305.89h1.4v1.4h-1.4zM168.6 299.36h1.4v1.4h-1.4zM167.09 291.76h1.4v1.4h-1.4zM168.3 299.79h1.4v1.4h-1.4zM168.91 290.51h1.4v1.4h-1.4zM168.97 299.35h1.4v1.4h-1.4zM166.34 299.39h1.4v1.4h-1.4zM167.3 296.4h1.4v1.4h-1.4zM167.18 310.77h1.4v1.4h-1.4zM166.95 283.71h1.4v1.4h-1.4zM166.65 270.84h1.4v1.4h-1.4z" fill="#000"/>
<path d="M30.3 221V336.3H175.5M30.3 328.3h-2M30.3 311.8h-2M30.3 295.3h-2M30.3 278.8h-2M30.3 262.3h-2M30.3 245.8h-2M30.3 229.3h-2M30.3 320.05h-1.1M30.3 303.55h-1.1M30.3 287.05h-1.1M30.3 270.55h-1.1M30.3 254.05h-1.1M30.3 237.55h-1.1M37.9 336.3v2M52.25 336.3v2M66.6 336.3v2M80.95 336.3v2M95.3 336.3v2M109.65 336.3v2M124 336.3v2M138.35 336.3v2M152.7 336.3v2M167.05 336.3v2" stroke="#4a4a4a" stroke-width="0.7" fill="none"/>
<text x="27.1" y="330.5" font-size="6.5" text-anchor="end" fill="#111">0</text>
<text x="27.1" y="314" font-size="6.5" text-anchor="end" fill="#111">1000</text>
<text x="27.1" y="297.5" font-size="6.5" text-anchor="end" fill="#111">2000</text>
<text x="27.1" y="281" font-size="6.5" text-anchor="end" fill="#111">3000</text>
<text x="27.1" y="264.5" font-size="6.5" text-anchor="end" fill="#111">4000</text>
<text x="27.1" y="248" font-size="6.5" text-anchor="end" fill="#111">5000</text>
<text x="27.1" y="231.5" font-size="6.5" text-anchor="end" fill="#111">6000</text>
<text x="49.1" y="345.3" font-size="6.55" text-anchor="end" fill="#111" transform="rotate(-27 49.1 345.3)">National</text>
<text x="63.45" y="345.3" font-size="6.55" text-anchor="end" fill="#111" transform="rotate(-27 63.45 345.3)">Gansu</text>
<text x="77.8" y="345.3" font-size="6.55" text-anchor="end" fill="#111" transform="rotate(-27 77.8 345.3)">Guangxi</text>
<text x="92.15" y="345.3" font-size="6.55" text-anchor="end" fill="#111" transform="rotate(-27 92.15 345.3)">Guizhou</text>
<text x="106.5" y="345.3" font-size="6.55" text-anchor="end" fill="#111" transform="rotate(-27 106.5 345.3)">Hubei</text>
<text x="120.85" y="345.3" font-size="6.55" text-anchor="end" fill="#111" transform="rotate(-27 120.85 345.3)">Shaanxi</text>
<text x="135.2" y="345.3" font-size="6.55" text-anchor="end" fill="#111" transform="rotate(-27 135.2 345.3)">Sichuan</text>
<text x="149.55" y="345.3" font-size="6.55" text-anchor="end" fill="#111" transform="rotate(-27 149.55 345.3)">Xinjiang</text>
<text x="163.9" y="345.3" font-size="6.55" text-anchor="end" fill="#111" transform="rotate(-27 163.9 345.3)">Xizang</text>
<text x="178.25" y="345.3" font-size="6.55" text-anchor="end" fill="#111" transform="rotate(-27 178.25 345.3)">Yunnan</text>
<text x="10.9" y="278.5" font-size="6.5" text-anchor="middle" fill="#111" transform="rotate(-90 10.9 278.5)">Altitude (m)</text>
<text x="16" y="217.9" font-size="9.2" text-anchor="start" fill="#000">G</text>
<path d="M222.2 229.2L222.26 231.83L222.35 234.46L222.47 237.09L222.62 239.72L222.81 242.35L223.04 244.98L223.32 247.62L223.64 250.25L224.02 252.88L224.43 255.51L224.88 258.14L225.35 260.77L225.82 263.4L226.28 266.03L226.7 268.66L227.07 271.29L227.37 273.92L227.58 276.55L227.69 279.18L227.69 281.82L227.58 284.45L227.37 287.08L227.07 289.71L226.7 292.34L226.28 294.97L225.82 297.6L225.35 300.23L224.88 302.86L224.43 305.49L224.02 308.12L223.64 310.75L223.32 313.38L223.04 316.02L222.81 318.65L222.62 321.28L222.47 323.91L222.35 326.54L222.26 329.17L222.2 331.8" fill="none" stroke="#3a3a3a" stroke-width="0.55"/>
<path d="M222.2 233.25V252.96M222.2 290.49V325.59M220.4 233.25h3.6M220.4 325.59h3.6" stroke="#222" stroke-width="0.5" fill="none"/>
<rect x="217.45" y="252.96" width="9.5" height="37.53" fill="#f6821f" stroke="#5a3a10" stroke-width="0.4"/>
<path d="M217.45 263.76h9.5" stroke="#4a2a08" stroke-width="0.5"/>
<path d="M236.6 235.41L236.66 237.67L236.75 239.92L236.87 242.18L237.02 244.44L237.21 246.69L237.44 248.95L237.72 251.21L238.04 253.47L238.42 255.72L238.83 257.98L239.28 260.24L239.75 262.49L240.22 264.75L240.68 267.01L241.1 269.26L241.47 271.52L241.77 273.78L241.98 276.03L242.09 278.29L242.09 280.55L241.98 282.81L241.77 285.06L241.47 287.32L241.1 289.58L240.68 291.83L240.22 294.09L239.75 296.35L239.28 298.6L238.83 300.86L238.42 303.12L238.04 305.37L237.72 307.63L237.44 309.89L237.21 312.15L237.02 314.4L236.87 316.66L236.75 318.92L236.66 321.17L236.6 323.43" fill="none" stroke="#3a3a3a" stroke-width="0.55"/>
<path d="M236.6 254.58V265.38M236.6 289.95V296.16M234.8 254.58h3.6M234.8 296.16h3.6" stroke="#222" stroke-width="0.5" fill="none"/>
<rect x="231.85" y="265.38" width="9.5" height="24.57" fill="#f6821f" stroke="#5a3a10" stroke-width="0.4"/>
<path d="M231.85 284.55h9.5" stroke="#4a2a08" stroke-width="0.5"/>
<path d="M251 229.2L251.06 230.27L251.15 231.35L251.27 232.42L251.42 233.49L251.61 234.57L251.84 235.64L252.12 236.71L252.44 237.78L252.82 238.86L253.23 239.93L253.68 241L254.15 242.08L254.62 243.15L255.08 244.22L255.5 245.3L255.87 246.37L256.17 247.44L256.38 248.52L256.49 249.59L256.49 250.66L256.38 251.73L256.17 252.81L255.87 253.88L255.5 254.95L255.08 256.03L254.62 257.1L254.15 258.17L253.68 259.25L253.23 260.32L252.82 261.39L252.44 262.47L252.12 263.54L251.84 264.61L251.61 265.68L251.42 266.76L251.27 267.83L251.15 268.9L251.06 269.98L251 271.05" fill="none" stroke="#3a3a3a" stroke-width="0.55"/>
<path d="M251 234.87V235.95M251 247.56V262.14M249.2 234.87h3.6M249.2 262.14h3.6" stroke="#222" stroke-width="0.5" fill="none"/>
<rect x="246.25" y="235.95" width="9.5" height="11.61" fill="#f6821f" stroke="#5a3a10" stroke-width="0.4"/>
<path d="M246.25 241.62h9.5" stroke="#4a2a08" stroke-width="0.5"/>
<path d="M265.4 242.7L265.46 243.39L265.55 244.08L265.67 244.78L265.82 245.47L266.01 246.16L266.24 246.85L266.52 247.55L266.84 248.24L267.22 248.93L267.63 249.62L268.08 250.32L268.55 251.01L269.02 251.7L269.48 252.39L269.9 253.08L270.27 253.78L270.57 254.47L270.78 255.16L270.89 255.85L270.89 256.55L270.78 257.24L270.57 257.93L270.27 258.62L269.9 259.32L269.48 260.01L269.02 260.7L268.55 261.39L268.08 262.08L267.63 262.78L267.22 263.47L266.84 264.16L266.52 264.85L266.24 265.55L266.01 266.24L265.82 266.93L265.67 267.62L265.55 268.32L265.46 269.01L265.4 269.7" fill="none" stroke="#3a3a3a" stroke-width="0.55"/>
<path d="M265.4 245.94V252.96M265.4 259.98V263.76M263.6 245.94h3.6M263.6 263.76h3.6" stroke="#222" stroke-width="0.5" fill="none"/>
<rect x="260.65" y="252.96" width="9.5" height="7.02" fill="#f6821f" stroke="#5a3a10" stroke-width="0.4"/>
<path d="M260.65 256.47h9.5" stroke="#4a2a08" stroke-width="0.5"/>
<path d="M279.8 234.06L279.86 235.51L279.95 236.97L280.07 238.42L280.22 239.88L280.41 241.33L280.64 242.78L280.92 244.24L281.24 245.69L281.62 247.14L282.03 248.6L282.48 250.05L282.95 251.51L283.42 252.96L283.88 254.41L284.3 255.87L284.67 257.32L284.97 258.78L285.18 260.23L285.29 261.68L285.29 263.14L285.18 264.59L284.97 266.04L284.67 267.5L284.3 268.95L283.88 270.41L283.42 271.86L282.95 273.31L282.48 274.77L282.03 276.22L281.62 277.68L281.24 279.13L280.92 280.58L280.64 282.04L280.41 283.49L280.22 284.94L280.07 286.4L279.95 287.85L279.86 289.31L279.8 290.76" fill="none" stroke="#3a3a3a" stroke-width="0.55"/>
<path d="M279.8 247.56V258.9M279.8 268.08V281.04M278 247.56h3.6M278 281.04h3.6" stroke="#222" stroke-width="0.5" fill="none"/>
<rect x="275.05" y="258.9" width="9.5" height="9.18" fill="#f6821f" stroke="#5a3a10" stroke-width="0.4"/>
<path d="M275.05 262.14h9.5" stroke="#4a2a08" stroke-width="0.5"/>
<path d="M294.2 249.18L294.26 250.16L294.35 251.15L294.47 252.13L294.62 253.11L294.81 254.1L295.04 255.08L295.32 256.06L295.64 257.04L296.02 258.03L296.43 259.01L296.88 259.99L297.35 260.98L297.82 261.96L298.28 262.94L298.7 263.93L299.07 264.91L299.37 265.89L299.58 266.88L299.69 267.86L299.69 268.84L299.58 269.82L299.37 270.81L299.07 271.79L298.7 272.77L298.28 273.76L297.82 274.74L297.35 275.72L296.88 276.71L296.43 277.69L296.02 278.67L295.64 279.66L295.32 280.64L295.04 281.62L294.81 282.6L294.62 283.59L294.47 284.57L294.35 285.55L294.26 286.54L294.2 287.52" fill="none" stroke="#3a3a3a" stroke-width="0.55"/>
<path d="M294.2 257.55V262.95M294.2 272.67V275.91M292.4 257.55h3.6M292.4 275.91h3.6" stroke="#222" stroke-width="0.5" fill="none"/>
<rect x="289.45" y="262.95" width="9.5" height="9.72" fill="#f6821f" stroke="#5a3a10" stroke-width="0.4"/>
<path d="M289.45 269.7h9.5" stroke="#4a2a08" stroke-width="0.5"/>
<path d="M308.6 229.2L308.66 231.83L308.75 234.46L308.87 237.09L309.02 239.72L309.21 242.35L309.44 244.98L309.72 247.62L310.04 250.25L310.42 252.88L310.83 255.51L311.28 258.14L311.75 260.77L312.22 263.4L312.68 266.03L313.1 268.66L313.47 271.29L313.77 273.92L313.98 276.55L314.09 279.18L314.09 281.82L313.98 284.45L313.77 287.08L313.47 289.71L313.1 292.34L312.68 294.97L312.22 297.6L311.75 300.23L311.28 302.86L310.83 305.49L310.42 308.12L310.04 310.75L309.72 313.38L309.44 316.02L309.21 318.65L309.02 321.28L308.87 323.91L308.75 326.54L308.66 329.17L308.6 331.8" fill="none" stroke="#3a3a3a" stroke-width="0.55"/>
<path d="M308.6 247.56V251.61M308.6 295.62V310.47M306.8 247.56h3.6M306.8 310.47h3.6" stroke="#222" stroke-width="0.5" fill="none"/>
<rect x="303.85" y="251.61" width="9.5" height="44.01" fill="#f6821f" stroke="#5a3a10" stroke-width="0.4"/>
<path d="M303.85 274.29h9.5" stroke="#4a2a08" stroke-width="0.5"/>
<path d="M323 259.44L323.06 261.31L323.15 263.18L323.27 265.05L323.42 266.92L323.61 268.79L323.84 270.66L324.12 272.52L324.44 274.39L324.82 276.26L325.23 278.13L325.68 280L326.15 281.87L326.62 283.74L327.08 285.61L327.5 287.48L327.87 289.35L328.17 291.22L328.38 293.09L328.49 294.96L328.49 296.82L328.38 298.69L328.17 300.56L327.87 302.43L327.5 304.3L327.08 306.17L326.62 308.04L326.15 309.91L325.68 311.78L325.23 313.65L324.82 315.52L324.44 317.39L324.12 319.26L323.84 321.12L323.61 322.99L323.42 324.86L323.27 326.73L323.15 328.6L323.06 330.47L323 332.34" fill="none" stroke="#3a3a3a" stroke-width="0.55"/>
<path d="M323 276.18V296.97M323 314.52V325.86M321.2 276.18h3.6M321.2 325.86h3.6" stroke="#222" stroke-width="0.5" fill="none"/>
<rect x="318.25" y="296.97" width="9.5" height="17.55" fill="#f6821f" stroke="#5a3a10" stroke-width="0.4"/>
<path d="M318.25 304.53h9.5" stroke="#4a2a08" stroke-width="0.5"/>
<path d="M337.4 269.16L337.46 270.49L337.55 271.82L337.67 273.15L337.82 274.48L338.01 275.81L338.24 277.14L338.52 278.46L338.84 279.79L339.22 281.12L339.63 282.45L340.08 283.78L340.55 285.11L341.02 286.44L341.48 287.77L341.9 289.1L342.27 290.43L342.57 291.76L342.78 293.09L342.89 294.42L342.89 295.74L342.78 297.07L342.57 298.4L342.27 299.73L341.9 301.06L341.48 302.39L341.02 303.72L340.55 305.05L340.08 306.38L339.63 307.71L339.22 309.04L338.84 310.37L338.52 311.7L338.24 313.02L338.01 314.35L337.82 315.68L337.67 317.01L337.55 318.34L337.46 319.67L337.4 321" fill="none" stroke="#3a3a3a" stroke-width="0.55"/>
<path d="M337.4 277.53V294M337.4 298.59V306.96M335.6 277.53h3.6M335.6 306.96h3.6" stroke="#222" stroke-width="0.5" fill="none"/>
<rect x="332.65" y="294" width="9.5" height="4.59" fill="#f6821f" stroke="#5a3a10" stroke-width="0.4"/>
<path d="M332.65 296.7h9.5" stroke="#4a2a08" stroke-width="0.5"/>
<path d="M351.8 229.2L351.86 230.56L351.95 231.91L352.07 233.27L352.22 234.63L352.41 235.98L352.64 237.34L352.92 238.7L353.24 240.06L353.62 241.41L354.03 242.77L354.48 244.13L354.95 245.48L355.42 246.84L355.88 248.2L356.3 249.55L356.67 250.91L356.97 252.27L357.18 253.62L357.29 254.98L357.29 256.34L357.18 257.7L356.97 259.05L356.67 260.41L356.3 261.77L355.88 263.12L355.42 264.48L354.95 265.84L354.48 267.19L354.03 268.55L353.62 269.91L353.24 271.26L352.92 272.62L352.64 273.98L352.41 275.34L352.22 276.69L352.07 278.05L351.95 279.41L351.86 280.76L351.8 282.12" fill="none" stroke="#3a3a3a" stroke-width="0.55"/>
<path d="M351.8 237.84V245.67M351.8 257.55V274.02M350 237.84h3.6M350 274.02h3.6" stroke="#222" stroke-width="0.5" fill="none"/>
<rect x="347.05" y="245.67" width="9.5" height="11.88" fill="#f6821f" stroke="#5a3a10" stroke-width="0.4"/>
<path d="M347.05 252.15h9.5" stroke="#4a2a08" stroke-width="0.5"/>
<path d="M221.1 241.34h1.4v1.4h-1.4zM220.15 231.93h1.4v1.4h-1.4zM221.94 240.72h1.4v1.4h-1.4zM220.66 242.78h1.4v1.4h-1.4zM221.53 239.89h1.4v1.4h-1.4zM221.01 233.08h1.4v1.4h-1.4zM220 246.3h1.4v1.4h-1.4zM222.83 237.03h1.4v1.4h-1.4zM221.22 233.57h1.4v1.4h-1.4zM221.19 232.91h1.4v1.4h-1.4zM221.45 250.09h1.4v1.4h-1.4zM221.43 232.43h1.4v1.4h-1.4zM221.38 249h1.4v1.4h-1.4zM221.05 233.26h1.4v1.4h-1.4zM222.03 236.95h1.4v1.4h-1.4zM221.09 234.65h1.4v1.4h-1.4zM222.47 248.28h1.4v1.4h-1.4zM222.65 247.59h1.4v1.4h-1.4zM221.36 231.82h1.4v1.4h-1.4zM220.37 240.52h1.4v1.4h-1.4zM221.06 244.89h1.4v1.4h-1.4zM220.06 244.09h1.4v1.4h-1.4zM221.48 233.29h1.4v1.4h-1.4zM222.32 249.94h1.4v1.4h-1.4zM221.34 239.12h1.4v1.4h-1.4zM221.83 236.64h1.4v1.4h-1.4zM221.23 248.41h1.4v1.4h-1.4zM222.95 240.84h1.4v1.4h-1.4zM220.26 238.03h1.4v1.4h-1.4zM220.3 249.25h1.4v1.4h-1.4zM222.58 233.62h1.4v1.4h-1.4zM220.25 240.31h1.4v1.4h-1.4zM222.54 232.86h1.4v1.4h-1.4zM220.94 242.57h1.4v1.4h-1.4zM221.73 236.91h1.4v1.4h-1.4zM224.49 254.37h1.4v1.4h-1.4zM224.5 265.08h1.4v1.4h-1.4zM223.17 250.55h1.4v1.4h-1.4zM221.17 253.75h1.4v1.4h-1.4zM220.53 258.85h1.4v1.4h-1.4zM220.59 256.35h1.4v1.4h-1.4zM225.15 255.16h1.4v1.4h-1.4zM222.05 254.72h1.4v1.4h-1.4zM224.19 259.61h1.4v1.4h-1.4zM216.9 258.31h1.4v1.4h-1.4zM220.34 262.38h1.4v1.4h-1.4zM222 259.17h1.4v1.4h-1.4zM220.27 252.74h1.4v1.4h-1.4zM226.1 260.73h1.4v1.4h-1.4zM218.38 251.68h1.4v1.4h-1.4zM222.58 257.31h1.4v1.4h-1.4zM223.5 255.77h1.4v1.4h-1.4zM219.16 264.05h1.4v1.4h-1.4zM223.45 255.52h1.4v1.4h-1.4zM222.34 256.01h1.4v1.4h-1.4zM226.1 261.01h1.4v1.4h-1.4zM225 262.02h1.4v1.4h-1.4zM221.18 255.26h1.4v1.4h-1.4zM223.76 265.31h1.4v1.4h-1.4zM222.33 253.2h1.4v1.4h-1.4zM220.14 261.09h1.4v1.4h-1.4zM222.97 264.94h1.4v1.4h-1.4zM222.56 256.97h1.4v1.4h-1.4zM225.34 259.06h1.4v1.4h-1.4zM217.74 254.54h1.4v1.4h-1.4zM217.86 254.22h1.4v1.4h-1.4zM219.36 264.88h1.4v1.4h-1.4zM222.98 256.21h1.4v1.4h-1.4zM224.04 251.92h1.4v1.4h-1.4zM220.99 253.8h1.4v1.4h-1.4zM221.94 255.01h1.4v1.4h-1.4zM221.42 261.08h1.4v1.4h-1.4zM217.19 257.71h1.4v1.4h-1.4zM219.21 255.97h1.4v1.4h-1.4zM223.62 260.08h1.4v1.4h-1.4zM223.46 260.7h1.4v1.4h-1.4zM224.3 258.86h1.4v1.4h-1.4zM223.07 266.02h1.4v1.4h-1.4zM216.9 262.74h1.4v1.4h-1.4zM222.06 265.1h1.4v1.4h-1.4zM222.23 251.82h1.4v1.4h-1.4zM217.93 264.6h1.4v1.4h-1.4zM226.07 264.24h1.4v1.4h-1.4zM220.94 264.32h1.4v1.4h-1.4zM223.73 258.29h1.4v1.4h-1.4zM223.31 261.14h1.4v1.4h-1.4zM222.87 254.74h1.4v1.4h-1.4zM224.88 260.42h1.4v1.4h-1.4zM220.97 264.03h1.4v1.4h-1.4zM223.73 259.29h1.4v1.4h-1.4zM222.48 252.99h1.4v1.4h-1.4zM218.24 264.13h1.4v1.4h-1.4zM219.7 253.02h1.4v1.4h-1.4zM218.3 256.39h1.4v1.4h-1.4zM216.9 250.36h1.4v1.4h-1.4zM217.36 255.86h1.4v1.4h-1.4zM222.53 260.3h1.4v1.4h-1.4zM217.71 251.29h1.4v1.4h-1.4zM223.81 259.9h1.4v1.4h-1.4zM220.67 255.01h1.4v1.4h-1.4zM220.64 253.38h1.4v1.4h-1.4zM218.17 255.61h1.4v1.4h-1.4zM222.27 258.78h1.4v1.4h-1.4zM219.01 259.77h1.4v1.4h-1.4zM222.96 263.24h1.4v1.4h-1.4zM223.07 258.8h1.4v1.4h-1.4zM216.99 253.33h1.4v1.4h-1.4zM222.55 250.99h1.4v1.4h-1.4zM216.9 255.81h1.4v1.4h-1.4zM223.4 252.97h1.4v1.4h-1.4zM216.9 254.2h1.4v1.4h-1.4zM218.65 252.85h1.4v1.4h-1.4zM224.62 255.41h1.4v1.4h-1.4zM221.88 260.83h1.4v1.4h-1.4zM223.09 263.78h1.4v1.4h-1.4zM216.9 260.33h1.4v1.4h-1.4zM223.29 252.5h1.4v1.4h-1.4zM219.19 255.28h1.4v1.4h-1.4zM225.52 262.77h1.4v1.4h-1.4zM221.45 264.8h1.4v1.4h-1.4zM221.05 250.9h1.4v1.4h-1.4zM217.19 254.02h1.4v1.4h-1.4zM218.99 258.06h1.4v1.4h-1.4zM221.22 259.16h1.4v1.4h-1.4zM224.78 258.11h1.4v1.4h-1.4zM224.56 261.32h1.4v1.4h-1.4zM220.65 250.29h1.4v1.4h-1.4zM218.36 262.59h1.4v1.4h-1.4zM218.16 264.05h1.4v1.4h-1.4zM225.63 252.48h1.4v1.4h-1.4zM222.07 259.37h1.4v1.4h-1.4zM218.59 264.58h1.4v1.4h-1.4zM225.18 260.64h1.4v1.4h-1.4zM222.72 251.34h1.4v1.4h-1.4zM223.28 263.93h1.4v1.4h-1.4zM223.53 263.72h1.4v1.4h-1.4zM222.21 251.01h1.4v1.4h-1.4zM220.03 263.23h1.4v1.4h-1.4zM217.15 255.74h1.4v1.4h-1.4zM217.9 266.11h1.4v1.4h-1.4zM219.08 262.14h1.4v1.4h-1.4zM222.65 258.38h1.4v1.4h-1.4zM219.44 258.89h1.4v1.4h-1.4zM223.39 250.26h1.4v1.4h-1.4zM223.65 265.18h1.4v1.4h-1.4zM225.21 262.5h1.4v1.4h-1.4zM225.29 263.14h1.4v1.4h-1.4zM216.9 250.75h1.4v1.4h-1.4zM225.49 252.48h1.4v1.4h-1.4zM221.93 261.19h1.4v1.4h-1.4zM221.76 259.16h1.4v1.4h-1.4zM219.78 259.47h1.4v1.4h-1.4zM222.06 265.07h1.4v1.4h-1.4zM221.7 258.54h1.4v1.4h-1.4zM219.69 255.84h1.4v1.4h-1.4zM216.9 264.59h1.4v1.4h-1.4zM224.86 261.29h1.4v1.4h-1.4zM222.84 254.06h1.4v1.4h-1.4zM218.86 255.23h1.4v1.4h-1.4zM220.2 261.48h1.4v1.4h-1.4zM223.41 251.33h1.4v1.4h-1.4zM220.04 260.65h1.4v1.4h-1.4zM222.21 256.04h1.4v1.4h-1.4zM224.1 260.78h1.4v1.4h-1.4zM223.63 266.25h1.4v1.4h-1.4zM221.28 269.72h1.4v1.4h-1.4zM220.35 280.85h1.4v1.4h-1.4zM221 274.08h1.4v1.4h-1.4zM222.44 280.04h1.4v1.4h-1.4zM221.25 273.47h1.4v1.4h-1.4zM223.58 284.93h1.4v1.4h-1.4zM223.76 278.54h1.4v1.4h-1.4zM223.38 276.98h1.4v1.4h-1.4zM222.41 283.82h1.4v1.4h-1.4zM219.95 284.87h1.4v1.4h-1.4zM223.65 279.73h1.4v1.4h-1.4zM222.47 280.93h1.4v1.4h-1.4zM220.65 288.76h1.4v1.4h-1.4zM220.38 270.71h1.4v1.4h-1.4zM220.7 279.18h1.4v1.4h-1.4zM221.69 276.8h1.4v1.4h-1.4zM219.66 269.55h1.4v1.4h-1.4zM223 281.86h1.4v1.4h-1.4zM221.04 268.88h1.4v1.4h-1.4zM222.21 274.17h1.4v1.4h-1.4zM219.32 270.93h1.4v1.4h-1.4zM223.8 278.02h1.4v1.4h-1.4zM222.79 278.67h1.4v1.4h-1.4zM221.36 278.21h1.4v1.4h-1.4zM219.96 271.64h1.4v1.4h-1.4zM223.4 286.01h1.4v1.4h-1.4zM220.96 280.44h1.4v1.4h-1.4zM220.92 267.3h1.4v1.4h-1.4zM220.32 267.06h1.4v1.4h-1.4zM219.87 273.71h1.4v1.4h-1.4zM221.36 280.7h1.4v1.4h-1.4zM221.49 270.13h1.4v1.4h-1.4zM220.92 287.43h1.4v1.4h-1.4zM220.05 281.83h1.4v1.4h-1.4zM223.37 289.12h1.4v1.4h-1.4zM223.5 268.68h1.4v1.4h-1.4zM220.35 274.81h1.4v1.4h-1.4zM223.1 284.14h1.4v1.4h-1.4zM221.5 271.79h1.4v1.4h-1.4zM221.35 285.55h1.4v1.4h-1.4zM223.8 280.55h1.4v1.4h-1.4zM223.8 287.85h1.4v1.4h-1.4zM220.88 278.95h1.4v1.4h-1.4zM222.33 280.43h1.4v1.4h-1.4zM220.63 280.6h1.4v1.4h-1.4zM219.32 277.84h1.4v1.4h-1.4zM222.54 271h1.4v1.4h-1.4zM221.99 278.73h1.4v1.4h-1.4zM222.34 271.99h1.4v1.4h-1.4zM223.8 270.63h1.4v1.4h-1.4zM221.04 272.7h1.4v1.4h-1.4zM222.03 273.2h1.4v1.4h-1.4zM221.59 283.33h1.4v1.4h-1.4zM219.2 280.14h1.4v1.4h-1.4zM221.13 274.17h1.4v1.4h-1.4zM219.36 271.45h1.4v1.4h-1.4zM221.45 274.54h1.4v1.4h-1.4zM220.02 288.42h1.4v1.4h-1.4zM219.92 283.1h1.4v1.4h-1.4zM223.2 285.3h1.4v1.4h-1.4zM220.84 281.36h1.4v1.4h-1.4zM221 277.06h1.4v1.4h-1.4zM221.79 283.6h1.4v1.4h-1.4zM219.2 272.39h1.4v1.4h-1.4zM220.19 287.68h1.4v1.4h-1.4zM219.96 293.82h1.4v1.4h-1.4zM222.04 295.36h1.4v1.4h-1.4zM221.72 294.46h1.4v1.4h-1.4zM220.18 297.19h1.4v1.4h-1.4zM224.45 291.62h1.4v1.4h-1.4zM220.35 299.63h1.4v1.4h-1.4zM219.89 297.88h1.4v1.4h-1.4zM221.99 289.5h1.4v1.4h-1.4zM220.03 294.25h1.4v1.4h-1.4zM223.5 299.47h1.4v1.4h-1.4zM221.84 289.94h1.4v1.4h-1.4zM220.03 295.54h1.4v1.4h-1.4zM224.7 298.24h1.4v1.4h-1.4zM220.57 291.6h1.4v1.4h-1.4zM221.21 292.76h1.4v1.4h-1.4zM221.83 297.57h1.4v1.4h-1.4zM221.88 292.46h1.4v1.4h-1.4zM221.99 295.2h1.4v1.4h-1.4zM218.96 299.8h1.4v1.4h-1.4zM221.38 296.92h1.4v1.4h-1.4zM218.3 297.59h1.4v1.4h-1.4zM220.82 295.55h1.4v1.4h-1.4zM221.05 298.39h1.4v1.4h-1.4zM222.22 297.93h1.4v1.4h-1.4zM219.86 298.3h1.4v1.4h-1.4zM221.76 297.88h1.4v1.4h-1.4zM220.49 290.99h1.4v1.4h-1.4zM221.4 299.05h1.4v1.4h-1.4zM219.64 294.66h1.4v1.4h-1.4zM222.99 291.61h1.4v1.4h-1.4zM222.88 294.68h1.4v1.4h-1.4zM218.45 295.14h1.4v1.4h-1.4zM220.78 298.31h1.4v1.4h-1.4zM220.59 297.19h1.4v1.4h-1.4zM218.3 291.6h1.4v1.4h-1.4zM219 297.83h1.4v1.4h-1.4zM220.77 296.67h1.4v1.4h-1.4zM219.09 296.02h1.4v1.4h-1.4zM221.48 292.77h1.4v1.4h-1.4zM222.49 290.84h1.4v1.4h-1.4zM220.11 295.17h1.4v1.4h-1.4zM222.29 297.47h1.4v1.4h-1.4zM223.68 299.31h1.4v1.4h-1.4zM220.12 292.9h1.4v1.4h-1.4zM223.32 297.04h1.4v1.4h-1.4zM223.35 295.63h1.4v1.4h-1.4zM223.66 299.07h1.4v1.4h-1.4zM221.32 298.94h1.4v1.4h-1.4zM221.79 290.49h1.4v1.4h-1.4zM219.88 290.29h1.4v1.4h-1.4zM222.87 297.53h1.4v1.4h-1.4zM222.64 295.17h1.4v1.4h-1.4zM221.99 289.68h1.4v1.4h-1.4zM221.32 296.53h1.4v1.4h-1.4zM220.16 299.9h1.4v1.4h-1.4zM218.3 299.23h1.4v1.4h-1.4zM220.33 292.62h1.4v1.4h-1.4zM218.3 290.96h1.4v1.4h-1.4zM221.08 296.52h1.4v1.4h-1.4zM219.87 290.01h1.4v1.4h-1.4zM222.7 306.18h1.4v1.4h-1.4zM221.03 300.59h1.4v1.4h-1.4zM220.83 308.68h1.4v1.4h-1.4zM222.64 303.22h1.4v1.4h-1.4zM220.36 304.14h1.4v1.4h-1.4zM222.23 300.81h1.4v1.4h-1.4zM222.26 307.65h1.4v1.4h-1.4zM221.39 306.26h1.4v1.4h-1.4zM220.56 307.44h1.4v1.4h-1.4zM221.06 300.31h1.4v1.4h-1.4zM221.55 306.71h1.4v1.4h-1.4zM222.03 308.6h1.4v1.4h-1.4zM221.82 301.61h1.4v1.4h-1.4zM221.74 303.9h1.4v1.4h-1.4zM221.17 302.94h1.4v1.4h-1.4zM222 318.98h1.4v1.4h-1.4zM220.95 320.4h1.4v1.4h-1.4zM221.13 310.97h1.4v1.4h-1.4zM221.55 319.35h1.4v1.4h-1.4zM221.85 317.34h1.4v1.4h-1.4zM221.7 319.51h1.4v1.4h-1.4zM221.73 319.63h1.4v1.4h-1.4zM221.23 310.34h1.4v1.4h-1.4zM221.96 312.44h1.4v1.4h-1.4zM220.6 313.6h1.4v1.4h-1.4zM221.14 312h1.4v1.4h-1.4zM220.81 313.95h1.4v1.4h-1.4zM236.05 293.73h1.4v1.4h-1.4zM235.48 287.2h1.4v1.4h-1.4zM232.62 256.27h1.4v1.4h-1.4zM234.49 293.92h1.4v1.4h-1.4zM237.51 289.91h1.4v1.4h-1.4zM238.18 277.88h1.4v1.4h-1.4zM237.82 269.46h1.4v1.4h-1.4zM235.11 267.22h1.4v1.4h-1.4zM234.75 257.77h1.4v1.4h-1.4zM236.15 274.36h1.4v1.4h-1.4zM239.07 264.89h1.4v1.4h-1.4zM236.11 266.05h1.4v1.4h-1.4zM235.44 269.09h1.4v1.4h-1.4zM236.16 255.75h1.4v1.4h-1.4zM237.22 269.04h1.4v1.4h-1.4zM237.84 293.78h1.4v1.4h-1.4zM236.65 295.46h1.4v1.4h-1.4zM235.61 253.88h1.4v1.4h-1.4zM246.94 242.98h1.4v1.4h-1.4zM247.64 243.01h1.4v1.4h-1.4zM250.76 234.79h1.4v1.4h-1.4zM252.02 242.68h1.4v1.4h-1.4zM249.77 239.93h1.4v1.4h-1.4zM248.72 234.28h1.4v1.4h-1.4zM247.49 238.88h1.4v1.4h-1.4zM248.57 254.17h1.4v1.4h-1.4zM251.19 234.37h1.4v1.4h-1.4zM250.49 260.14h1.4v1.4h-1.4zM251.26 234.26h1.4v1.4h-1.4zM250.79 234.83h1.4v1.4h-1.4zM252.52 234.27h1.4v1.4h-1.4zM247.35 234.25h1.4v1.4h-1.4zM252.01 234.75h1.4v1.4h-1.4zM252.51 241.43h1.4v1.4h-1.4zM249.37 261.44h1.4v1.4h-1.4zM249.88 234.17h1.4v1.4h-1.4zM263.14 253.3h1.4v1.4h-1.4zM263.36 262.14h1.4v1.4h-1.4zM267.28 247.67h1.4v1.4h-1.4zM266.37 262.11h1.4v1.4h-1.4zM266.58 249.55h1.4v1.4h-1.4zM267.53 261.25h1.4v1.4h-1.4zM266.5 258.11h1.4v1.4h-1.4zM264.68 255.17h1.4v1.4h-1.4zM266.34 253.99h1.4v1.4h-1.4zM266.74 257.46h1.4v1.4h-1.4zM264.71 259.77h1.4v1.4h-1.4zM262.5 256.15h1.4v1.4h-1.4zM262.4 257.66h1.4v1.4h-1.4zM264.5 258.83h1.4v1.4h-1.4zM267.93 247.69h1.4v1.4h-1.4zM267.4 260.66h1.4v1.4h-1.4zM264.59 263.06h1.4v1.4h-1.4zM265.3 245.24h1.4v1.4h-1.4zM282.36 262.54h1.4v1.4h-1.4zM281.05 252.45h1.4v1.4h-1.4zM275.83 259.75h1.4v1.4h-1.4zM277.45 265.75h1.4v1.4h-1.4zM277.73 280.03h1.4v1.4h-1.4zM280.96 250.23h1.4v1.4h-1.4zM281.5 265.36h1.4v1.4h-1.4zM277.27 266.78h1.4v1.4h-1.4zM280.66 258.73h1.4v1.4h-1.4zM280.42 252.29h1.4v1.4h-1.4zM276.33 254.39h1.4v1.4h-1.4zM280.01 260.19h1.4v1.4h-1.4zM281.83 279.76h1.4v1.4h-1.4zM279.74 258.88h1.4v1.4h-1.4zM279.95 259.87h1.4v1.4h-1.4zM279.81 256.41h1.4v1.4h-1.4zM278.81 280.34h1.4v1.4h-1.4zM278.25 246.86h1.4v1.4h-1.4zM291.89 267.31h1.4v1.4h-1.4zM290.19 261.59h1.4v1.4h-1.4zM293.57 274.2h1.4v1.4h-1.4zM292.84 269.94h1.4v1.4h-1.4zM295.79 275.08h1.4v1.4h-1.4zM292.55 273.4h1.4v1.4h-1.4zM292.3 270.19h1.4v1.4h-1.4zM295.44 275.2h1.4v1.4h-1.4zM290.57 262.15h1.4v1.4h-1.4zM292.23 258.61h1.4v1.4h-1.4zM293 274.53h1.4v1.4h-1.4zM290.69 265.69h1.4v1.4h-1.4zM293.5 264.52h1.4v1.4h-1.4zM294.22 258.29h1.4v1.4h-1.4zM290.89 265.18h1.4v1.4h-1.4zM290.88 267.61h1.4v1.4h-1.4zM292.71 275.21h1.4v1.4h-1.4zM293.8 256.85h1.4v1.4h-1.4zM307.15 249.41h1.4v1.4h-1.4zM308.45 271.96h1.4v1.4h-1.4zM310.68 309.17h1.4v1.4h-1.4zM309.44 304.63h1.4v1.4h-1.4zM306.46 300.1h1.4v1.4h-1.4zM305.23 247.36h1.4v1.4h-1.4zM310.25 293.92h1.4v1.4h-1.4zM309.57 250.72h1.4v1.4h-1.4zM308.07 250.4h1.4v1.4h-1.4zM307.93 249.55h1.4v1.4h-1.4zM307.91 300.33h1.4v1.4h-1.4zM310.29 289.59h1.4v1.4h-1.4zM308.43 247.53h1.4v1.4h-1.4zM309.5 248.76h1.4v1.4h-1.4zM307.69 273.06h1.4v1.4h-1.4zM304.67 250.03h1.4v1.4h-1.4zM307.08 309.77h1.4v1.4h-1.4zM307.26 246.86h1.4v1.4h-1.4zM324 317.03h1.4v1.4h-1.4zM322.06 312.02h1.4v1.4h-1.4zM323.2 319.39h1.4v1.4h-1.4zM323.16 311.19h1.4v1.4h-1.4zM320.66 307.75h1.4v1.4h-1.4zM322.82 289.66h1.4v1.4h-1.4zM321.45 300.6h1.4v1.4h-1.4zM323.78 297.54h1.4v1.4h-1.4zM324.61 289.22h1.4v1.4h-1.4zM324.99 296.48h1.4v1.4h-1.4zM322.6 278.98h1.4v1.4h-1.4zM325.62 293.68h1.4v1.4h-1.4zM320.55 323.54h1.4v1.4h-1.4zM319.91 280.41h1.4v1.4h-1.4zM325.67 321.24h1.4v1.4h-1.4zM321.37 286.18h1.4v1.4h-1.4zM321.49 325.16h1.4v1.4h-1.4zM321.48 275.48h1.4v1.4h-1.4zM339.47 280.56h1.4v1.4h-1.4zM335.32 293.59h1.4v1.4h-1.4zM334.35 298.57h1.4v1.4h-1.4zM338.08 300.37h1.4v1.4h-1.4zM336.75 301.77h1.4v1.4h-1.4zM339.43 293.92h1.4v1.4h-1.4zM335.17 294.35h1.4v1.4h-1.4zM337.2 296.98h1.4v1.4h-1.4zM333.97 296.78h1.4v1.4h-1.4zM333.45 294.34h1.4v1.4h-1.4zM333.64 295.12h1.4v1.4h-1.4zM340.06 293.73h1.4v1.4h-1.4zM338.5 304.84h1.4v1.4h-1.4zM336.57 297.11h1.4v1.4h-1.4zM335.96 298.92h1.4v1.4h-1.4zM340.01 293.76h1.4v1.4h-1.4zM336.72 306.26h1.4v1.4h-1.4zM336.15 276.83h1.4v1.4h-1.4zM350.98 248.58h1.4v1.4h-1.4zM349.72 253.91h1.4v1.4h-1.4zM354.18 253.82h1.4v1.4h-1.4zM353.06 248.21h1.4v1.4h-1.4zM349.2 249.78h1.4v1.4h-1.4zM352.7 239.43h1.4v1.4h-1.4zM353.59 245.32h1.4v1.4h-1.4zM349.57 239.63h1.4v1.4h-1.4zM353.79 262.69h1.4v1.4h-1.4zM348.42 245.18h1.4v1.4h-1.4zM348.99 255.54h1.4v1.4h-1.4zM350.3 244.45h1.4v1.4h-1.4zM348.26 246.75h1.4v1.4h-1.4zM352.37 246.68h1.4v1.4h-1.4zM347.86 237.21h1.4v1.4h-1.4zM352.79 239.14h1.4v1.4h-1.4zM351.53 273.32h1.4v1.4h-1.4zM350.24 237.14h1.4v1.4h-1.4z" fill="#000"/>
<path d="M215 220V334.4H359.5M215 334.5h-2M215 321h-2M215 307.5h-2M215 294h-2M215 280.5h-2M215 267h-2M215 253.5h-2M215 240h-2M215 226.5h-2M215 327.75h-1.1M215 314.25h-1.1M215 300.75h-1.1M215 287.25h-1.1M215 273.75h-1.1M215 260.25h-1.1M215 246.75h-1.1M215 233.25h-1.1M222.2 334.4v2M236.6 334.4v2M251 334.4v2M265.4 334.4v2M279.8 334.4v2M294.2 334.4v2M308.6 334.4v2M323 334.4v2M337.4 334.4v2M351.8 334.4v2" stroke="#4a4a4a" stroke-width="0.7" fill="none"/>
<text x="211.8" y="336.7" font-size="6.5" text-anchor="end" fill="#111">-150</text>
<text x="211.8" y="323.2" font-size="6.5" text-anchor="end" fill="#111">-100</text>
<text x="211.8" y="309.7" font-size="6.5" text-anchor="end" fill="#111">-50</text>
<text x="211.8" y="296.2" font-size="6.5" text-anchor="end" fill="#111">0</text>
<text x="211.8" y="282.7" font-size="6.5" text-anchor="end" fill="#111">50</text>
<text x="211.8" y="269.2" font-size="6.5" text-anchor="end" fill="#111">100</text>
<text x="211.8" y="255.7" font-size="6.5" text-anchor="end" fill="#111">150</text>
<text x="211.8" y="242.2" font-size="6.5" text-anchor="end" fill="#111">200</text>
<text x="211.8" y="228.7" font-size="6.5" text-anchor="end" fill="#111">250</text>
<text x="233.4" y="343.4" font-size="6.55" text-anchor="end" fill="#111" transform="rotate(-27 233.4 343.4)">National</text>
<text x="247.8" y="343.4" font-size="6.55" text-anchor="end" fill="#111" transform="rotate(-27 247.8 343.4)">Gansu</text>
<text x="262.2" y="343.4" font-size="6.55" text-anchor="end" fill="#111" transform="rotate(-27 262.2 343.4)">Guangxi</text>
<text x="276.6" y="343.4" font-size="6.55" text-anchor="end" fill="#111" transform="rotate(-27 276.6 343.4)">Guizhou</text>
<text x="291" y="343.4" font-size="6.55" text-anchor="end" fill="#111" transform="rotate(-27 291 343.4)">Hubei</text>
<text x="305.4" y="343.4" font-size="6.55" text-anchor="end" fill="#111" transform="rotate(-27 305.4 343.4)">Shaanxi</text>
<text x="319.8" y="343.4" font-size="6.55" text-anchor="end" fill="#111" transform="rotate(-27 319.8 343.4)">Sichuan</text>
<text x="334.2" y="343.4" font-size="6.55" text-anchor="end" fill="#111" transform="rotate(-27 334.2 343.4)">Xinjiang</text>
<text x="348.6" y="343.4" font-size="6.55" text-anchor="end" fill="#111" transform="rotate(-27 348.6 343.4)">Xizang</text>
<text x="363" y="343.4" font-size="6.55" text-anchor="end" fill="#111" transform="rotate(-27 363 343.4)">Yunnan</text>
<text x="197" y="276.3" font-size="6.45" text-anchor="middle" fill="#111" transform="rotate(-90 197 276.3)">Annual mean temperature (°C*10)</text>
<text x="185.8" y="219.2" font-size="9.2" text-anchor="start" fill="#000">H</text>
<path d="M403.7 227.2L403.76 229.42L403.85 231.63L403.97 233.85L404.12 236.06L404.31 238.28L404.54 240.49L404.82 242.71L405.14 244.92L405.52 247.14L405.93 249.35L406.38 251.57L406.85 253.78L407.32 256L407.78 258.22L408.2 260.43L408.57 262.65L408.87 264.86L409.08 267.08L409.19 269.29L409.19 271.51L409.08 273.72L408.87 275.94L408.57 278.15L408.2 280.37L407.78 282.58L407.32 284.8L406.85 287.02L406.38 289.23L405.93 291.45L405.52 293.66L405.14 295.88L404.82 298.09L404.54 300.31L404.31 302.52L404.12 304.74L403.97 306.95L403.85 309.17L403.76 311.38L403.7 313.6" fill="none" stroke="#3a3a3a" stroke-width="0.55"/>
<path d="M403.7 233.68V257.44M403.7 297.04V307.12M401.9 233.68h3.6M401.9 307.12h3.6" stroke="#222" stroke-width="0.5" fill="none"/>
<rect x="398.95" y="257.44" width="9.5" height="39.6" fill="#f6821f" stroke="#5a3a10" stroke-width="0.4"/>
<path d="M398.95 280.48h9.5" stroke="#4a2a08" stroke-width="0.5"/>
<path d="M418.07 227.2L418.13 229.42L418.22 231.63L418.34 233.85L418.49 236.06L418.68 238.28L418.91 240.49L419.19 242.71L419.51 244.92L419.89 247.14L420.3 249.35L420.75 251.57L421.22 253.78L421.69 256L422.15 258.22L422.57 260.43L422.94 262.65L423.24 264.86L423.45 267.08L423.56 269.29L423.56 271.51L423.45 273.72L423.24 275.94L422.94 278.15L422.57 280.37L422.15 282.58L421.69 284.8L421.22 287.02L420.75 289.23L420.3 291.45L419.89 293.66L419.51 295.88L419.19 298.09L418.91 300.31L418.68 302.52L418.49 304.74L418.34 306.95L418.22 309.17L418.13 311.38L418.07 313.6" fill="none" stroke="#3a3a3a" stroke-width="0.55"/>
<path d="M418.07 233.68V250.96M418.07 280.48V284.08M416.27 233.68h3.6M416.27 284.08h3.6" stroke="#222" stroke-width="0.5" fill="none"/>
<rect x="413.32" y="250.96" width="9.5" height="29.52" fill="#f6821f" stroke="#5a3a10" stroke-width="0.4"/>
<path d="M413.32 257.44h9.5" stroke="#4a2a08" stroke-width="0.5"/>
<path d="M432.44 276.88L432.5 277.6L432.59 278.32L432.71 279.04L432.86 279.76L433.05 280.48L433.28 281.2L433.56 281.92L433.88 282.64L434.26 283.36L434.67 284.08L435.12 284.8L435.59 285.52L436.06 286.24L436.52 286.96L436.94 287.68L437.31 288.4L437.61 289.12L437.82 289.84L437.93 290.56L437.93 291.28L437.82 292L437.61 292.72L437.31 293.44L436.94 294.16L436.52 294.88L436.06 295.6L435.59 296.32L435.12 297.04L434.67 297.76L434.26 298.48L433.88 299.2L433.56 299.92L433.28 300.64L433.05 301.36L432.86 302.08L432.71 302.8L432.59 303.52L432.5 304.24L432.44 304.96" fill="none" stroke="#3a3a3a" stroke-width="0.55"/>
<path d="M432.44 283V287.68M432.44 295.6V297.04M430.64 283h3.6M430.64 297.04h3.6" stroke="#222" stroke-width="0.5" fill="none"/>
<rect x="427.69" y="287.68" width="9.5" height="7.92" fill="#f6821f" stroke="#5a3a10" stroke-width="0.4"/>
<path d="M427.69 290.56h9.5" stroke="#4a2a08" stroke-width="0.5"/>
<path d="M446.81 279.76L446.87 280.54L446.96 281.31L447.08 282.09L447.23 282.86L447.42 283.64L447.65 284.41L447.93 285.19L448.25 285.96L448.63 286.74L449.04 287.51L449.49 288.29L449.96 289.06L450.43 289.84L450.89 290.62L451.31 291.39L451.68 292.17L451.98 292.94L452.19 293.72L452.3 294.49L452.3 295.27L452.19 296.04L451.98 296.82L451.68 297.59L451.31 298.37L450.89 299.14L450.43 299.92L449.96 300.7L449.49 301.47L449.04 302.25L448.63 303.02L448.25 303.8L447.93 304.57L447.65 305.35L447.42 306.12L447.23 306.9L447.08 307.67L446.96 308.45L446.87 309.22L446.81 310" fill="none" stroke="#3a3a3a" stroke-width="0.55"/>
<path d="M446.81 292V294.38M446.81 297.04V299.92M445.01 292h3.6M445.01 299.92h3.6" stroke="#222" stroke-width="0.5" fill="none"/>
<rect x="442.06" y="294.38" width="9.5" height="2.66" fill="#f6821f" stroke="#5a3a10" stroke-width="0.4"/>
<path d="M442.06 295.6h9.5" stroke="#4a2a08" stroke-width="0.5"/>
<path d="M461.18 264.93L461.24 266.18L461.33 267.42L461.45 268.67L461.6 269.92L461.79 271.17L462.02 272.42L462.3 273.66L462.62 274.91L463 276.16L463.41 277.41L463.86 278.66L464.33 279.9L464.8 281.15L465.26 282.4L465.68 283.65L466.05 284.9L466.35 286.14L466.56 287.39L466.67 288.64L466.67 289.89L466.56 291.14L466.35 292.38L466.05 293.63L465.68 294.88L465.26 296.13L464.8 297.38L464.33 298.62L463.86 299.87L463.41 301.12L463 302.37L462.62 303.62L462.3 304.86L462.02 306.11L461.79 307.36L461.6 308.61L461.45 309.86L461.33 311.1L461.24 312.35L461.18 313.6" fill="none" stroke="#3a3a3a" stroke-width="0.55"/>
<path d="M461.18 278.61V283M461.18 297.98V301M459.38 278.61h3.6M459.38 301h3.6" stroke="#222" stroke-width="0.5" fill="none"/>
<rect x="456.43" y="283" width="9.5" height="14.98" fill="#f6821f" stroke="#5a3a10" stroke-width="0.4"/>
<path d="M456.43 294.16h9.5" stroke="#4a2a08" stroke-width="0.5"/>
<path d="M475.55 259.74L475.61 261.13L475.7 262.52L475.82 263.91L475.97 265.3L476.16 266.69L476.39 268.08L476.67 269.48L476.99 270.87L477.37 272.26L477.78 273.65L478.23 275.04L478.7 276.43L479.17 277.82L479.63 279.21L480.05 280.6L480.42 281.99L480.72 283.38L480.93 284.77L481.04 286.16L481.04 287.55L480.93 288.94L480.72 290.33L480.42 291.72L480.05 293.11L479.63 294.5L479.17 295.89L478.7 297.28L478.23 298.67L477.78 300.06L477.37 301.45L476.99 302.84L476.67 304.23L476.39 305.62L476.16 307.01L475.97 308.4L475.82 309.79L475.7 311.18L475.61 312.57L475.55 313.96" fill="none" stroke="#3a3a3a" stroke-width="0.55"/>
<path d="M475.55 282.14V285.23M475.55 293.94V296.32M473.75 282.14h3.6M473.75 296.32h3.6" stroke="#222" stroke-width="0.5" fill="none"/>
<rect x="470.8" y="285.23" width="9.5" height="8.71" fill="#f6821f" stroke="#5a3a10" stroke-width="0.4"/>
<path d="M470.8 290.85h9.5" stroke="#4a2a08" stroke-width="0.5"/>
<path d="M489.92 226.77L489.98 228.99L490.07 231.22L490.19 233.45L490.34 235.67L490.53 237.9L490.76 240.13L491.04 242.35L491.36 244.58L491.74 246.81L492.15 249.03L492.6 251.26L493.07 253.49L493.54 255.71L494 257.94L494.42 260.16L494.79 262.39L495.09 264.62L495.3 266.84L495.41 269.07L495.41 271.3L495.3 273.52L495.09 275.75L494.79 277.98L494.42 280.2L494 282.43L493.54 284.66L493.07 286.88L492.6 289.11L492.15 291.34L491.74 293.56L491.36 295.79L491.04 298.01L490.76 300.24L490.53 302.47L490.34 304.69L490.19 306.92L490.07 309.15L489.98 311.37L489.92 313.6" fill="none" stroke="#3a3a3a" stroke-width="0.55"/>
<path d="M489.92 244.48V252.69M489.92 297.98V306.9M488.12 244.48h3.6M488.12 306.9h3.6" stroke="#222" stroke-width="0.5" fill="none"/>
<rect x="485.17" y="252.69" width="9.5" height="45.29" fill="#f6821f" stroke="#5a3a10" stroke-width="0.4"/>
<path d="M485.17 275.58h9.5" stroke="#4a2a08" stroke-width="0.5"/>
<path d="M504.29 226.77L504.35 228.7L504.44 230.64L504.56 232.57L504.71 234.51L504.9 236.44L505.13 238.38L505.41 240.31L505.73 242.25L506.11 244.18L506.52 246.12L506.97 248.05L507.44 249.99L507.91 251.92L508.37 253.85L508.79 255.79L509.16 257.72L509.46 259.66L509.67 261.59L509.78 263.53L509.78 265.46L509.67 267.4L509.46 269.33L509.16 271.27L508.79 273.2L508.37 275.14L507.91 277.07L507.44 279.01L506.97 280.94L506.52 282.88L506.11 284.81L505.73 286.75L505.41 288.68L505.13 290.62L504.9 292.55L504.71 294.48L504.56 296.42L504.44 298.35L504.35 300.29L504.29 302.22" fill="none" stroke="#3a3a3a" stroke-width="0.55"/>
<path d="M504.29 246.78V250.31M504.29 270.4V285.66M502.49 246.78h3.6M502.49 285.66h3.6" stroke="#222" stroke-width="0.5" fill="none"/>
<rect x="499.54" y="250.31" width="9.5" height="20.09" fill="#f6821f" stroke="#5a3a10" stroke-width="0.4"/>
<path d="M499.54 261.4h9.5" stroke="#4a2a08" stroke-width="0.5"/>
<path d="M518.66 227.92L518.72 228.82L518.81 229.73L518.93 230.63L519.08 231.54L519.27 232.44L519.5 233.35L519.78 234.25L520.1 235.16L520.48 236.06L520.89 236.97L521.34 237.87L521.81 238.78L522.28 239.68L522.74 240.58L523.16 241.49L523.53 242.39L523.83 243.3L524.04 244.2L524.15 245.11L524.15 246.01L524.04 246.92L523.83 247.82L523.53 248.73L523.16 249.63L522.74 250.54L522.28 251.44L521.81 252.34L521.34 253.25L520.89 254.15L520.48 255.06L520.1 255.96L519.78 256.87L519.5 257.77L519.27 258.68L519.08 259.58L518.93 260.49L518.81 261.39L518.72 262.3L518.66 263.2" fill="none" stroke="#3a3a3a" stroke-width="0.55"/>
<path d="M518.66 238.58V241.38M518.66 249.88V254.56M516.86 238.58h3.6M516.86 254.56h3.6" stroke="#222" stroke-width="0.5" fill="none"/>
<rect x="513.91" y="241.38" width="9.5" height="8.5" fill="#f6821f" stroke="#5a3a10" stroke-width="0.4"/>
<path d="M513.91 246.64h9.5" stroke="#4a2a08" stroke-width="0.5"/>
<path d="M533.03 242.32L533.09 243.85L533.18 245.38L533.3 246.92L533.45 248.45L533.64 249.98L533.87 251.51L534.15 253.05L534.47 254.58L534.85 256.11L535.26 257.64L535.71 259.18L536.18 260.71L536.65 262.24L537.11 263.77L537.53 265.3L537.9 266.84L538.2 268.37L538.41 269.9L538.52 271.43L538.52 272.97L538.41 274.5L538.2 276.03L537.9 277.56L537.53 279.1L537.11 280.63L536.65 282.16L536.18 283.69L535.71 285.22L535.26 286.76L534.85 288.29L534.47 289.82L534.15 291.35L533.87 292.89L533.64 294.42L533.45 295.95L533.3 297.48L533.18 299.02L533.09 300.55L533.03 302.08" fill="none" stroke="#3a3a3a" stroke-width="0.55"/>
<path d="M533.03 262.05V265.65M533.03 275.8V297.04M531.23 262.05h3.6M531.23 297.04h3.6" stroke="#222" stroke-width="0.5" fill="none"/>
<rect x="528.28" y="265.65" width="9.5" height="10.15" fill="#f6821f" stroke="#5a3a10" stroke-width="0.4"/>
<path d="M528.28 270.4h9.5" stroke="#4a2a08" stroke-width="0.5"/>
<path d="M402.34 300.3h1.4v1.4h-1.4zM401.5 304.34h1.4v1.4h-1.4zM403.07 302.2h1.4v1.4h-1.4zM402.41 300.49h1.4v1.4h-1.4zM402 300.02h1.4v1.4h-1.4zM402.33 302.51h1.4v1.4h-1.4zM404.5 300.24h1.4v1.4h-1.4zM402.41 304.56h1.4v1.4h-1.4zM403.88 301.02h1.4v1.4h-1.4zM404.2 299.65h1.4v1.4h-1.4zM403.06 298.96h1.4v1.4h-1.4zM403.62 298.62h1.4v1.4h-1.4zM400.46 290.57h1.4v1.4h-1.4zM402.09 293.92h1.4v1.4h-1.4zM403.25 298.01h1.4v1.4h-1.4zM400.61 297.38h1.4v1.4h-1.4zM400.72 296.11h1.4v1.4h-1.4zM407.4 294.95h1.4v1.4h-1.4zM405.87 288.4h1.4v1.4h-1.4zM402.81 291.47h1.4v1.4h-1.4zM400.38 289.63h1.4v1.4h-1.4zM403.24 297.65h1.4v1.4h-1.4zM400.43 296.66h1.4v1.4h-1.4zM402.36 288.57h1.4v1.4h-1.4zM402.99 294.02h1.4v1.4h-1.4zM403.31 290.28h1.4v1.4h-1.4zM401.38 296.62h1.4v1.4h-1.4zM404.81 288.23h1.4v1.4h-1.4zM406.11 289.57h1.4v1.4h-1.4zM402.05 295.26h1.4v1.4h-1.4zM403.42 296.87h1.4v1.4h-1.4zM401.76 297.79h1.4v1.4h-1.4zM403.43 290.77h1.4v1.4h-1.4zM406.23 290.97h1.4v1.4h-1.4zM401.61 289.48h1.4v1.4h-1.4zM401.22 289.36h1.4v1.4h-1.4zM402.47 288.49h1.4v1.4h-1.4zM402.1 298.03h1.4v1.4h-1.4zM403.46 294.3h1.4v1.4h-1.4zM403.09 296.59h1.4v1.4h-1.4zM398.6 290.29h1.4v1.4h-1.4zM398.6 295.71h1.4v1.4h-1.4zM405.74 290.26h1.4v1.4h-1.4zM402.06 297.03h1.4v1.4h-1.4zM402.68 287.9h1.4v1.4h-1.4zM401.59 297.75h1.4v1.4h-1.4zM405.88 294.44h1.4v1.4h-1.4zM405.31 295.31h1.4v1.4h-1.4zM403.17 298.29h1.4v1.4h-1.4zM404.12 289.21h1.4v1.4h-1.4zM403.58 291.12h1.4v1.4h-1.4zM401.11 296.4h1.4v1.4h-1.4zM402.32 288.79h1.4v1.4h-1.4zM406.55 293.72h1.4v1.4h-1.4zM404.29 288.42h1.4v1.4h-1.4zM407.4 295.31h1.4v1.4h-1.4zM404.32 294.29h1.4v1.4h-1.4zM399.58 293.51h1.4v1.4h-1.4zM403.98 298.29h1.4v1.4h-1.4zM402.42 290.98h1.4v1.4h-1.4zM399.51 296.84h1.4v1.4h-1.4zM399.48 292.06h1.4v1.4h-1.4zM405.79 293.4h1.4v1.4h-1.4zM405.13 292.08h1.4v1.4h-1.4zM400.89 289.12h1.4v1.4h-1.4zM402.07 294.07h1.4v1.4h-1.4zM402.57 289.1h1.4v1.4h-1.4zM404.48 289.31h1.4v1.4h-1.4zM403.52 295.41h1.4v1.4h-1.4zM406.5 289.1h1.4v1.4h-1.4zM401.89 294.53h1.4v1.4h-1.4zM406.92 293.66h1.4v1.4h-1.4zM404.82 296.11h1.4v1.4h-1.4zM403.42 295.62h1.4v1.4h-1.4zM403.2 292.93h1.4v1.4h-1.4zM404.26 290.07h1.4v1.4h-1.4zM405.07 293.71h1.4v1.4h-1.4zM402.29 297.01h1.4v1.4h-1.4zM401.93 292.42h1.4v1.4h-1.4zM402.34 288.86h1.4v1.4h-1.4zM402.05 297.19h1.4v1.4h-1.4zM405.19 292.56h1.4v1.4h-1.4zM404.64 296.77h1.4v1.4h-1.4zM398.99 290.94h1.4v1.4h-1.4zM401.76 289.8h1.4v1.4h-1.4zM400.14 289.51h1.4v1.4h-1.4zM402.42 291.28h1.4v1.4h-1.4zM401.96 294.12h1.4v1.4h-1.4zM401.18 288.98h1.4v1.4h-1.4zM404.41 294.4h1.4v1.4h-1.4zM401.89 296.63h1.4v1.4h-1.4zM403.41 288.88h1.4v1.4h-1.4zM402.37 290.46h1.4v1.4h-1.4zM404.42 298.11h1.4v1.4h-1.4zM404.31 293.33h1.4v1.4h-1.4zM402.27 298.17h1.4v1.4h-1.4zM403.91 294.85h1.4v1.4h-1.4zM403.3 296.4h1.4v1.4h-1.4zM406.35 294.21h1.4v1.4h-1.4zM401.12 291.3h1.4v1.4h-1.4zM403.4 297.81h1.4v1.4h-1.4zM402.87 288.39h1.4v1.4h-1.4zM402.45 288.54h1.4v1.4h-1.4zM407.4 291.96h1.4v1.4h-1.4zM403.66 294.66h1.4v1.4h-1.4zM405.47 296.1h1.4v1.4h-1.4zM405.62 293.02h1.4v1.4h-1.4zM403.63 294.25h1.4v1.4h-1.4zM403.73 291.65h1.4v1.4h-1.4zM401.11 291.86h1.4v1.4h-1.4zM401.37 291.87h1.4v1.4h-1.4zM403.16 294.44h1.4v1.4h-1.4zM398.95 288.28h1.4v1.4h-1.4zM405.1 298.39h1.4v1.4h-1.4zM407.04 289.22h1.4v1.4h-1.4zM400.08 289.68h1.4v1.4h-1.4zM404.07 288.73h1.4v1.4h-1.4zM405.26 293.7h1.4v1.4h-1.4zM401.57 296.17h1.4v1.4h-1.4zM401.17 295.67h1.4v1.4h-1.4zM399.49 289.81h1.4v1.4h-1.4zM404.4 287.81h1.4v1.4h-1.4zM402.84 290.33h1.4v1.4h-1.4zM403.93 297.28h1.4v1.4h-1.4zM401.1 288.31h1.4v1.4h-1.4zM403.08 288.64h1.4v1.4h-1.4zM405.26 288.87h1.4v1.4h-1.4zM403.03 278.64h1.4v1.4h-1.4zM404.25 277.55h1.4v1.4h-1.4zM404.98 279.93h1.4v1.4h-1.4zM403.27 287.67h1.4v1.4h-1.4zM403.92 275.69h1.4v1.4h-1.4zM404.66 286.63h1.4v1.4h-1.4zM404.54 280.22h1.4v1.4h-1.4zM405.2 275.07h1.4v1.4h-1.4zM399.8 273.75h1.4v1.4h-1.4zM403.19 281.22h1.4v1.4h-1.4zM402.65 273.94h1.4v1.4h-1.4zM406.2 278.74h1.4v1.4h-1.4zM403.26 275.94h1.4v1.4h-1.4zM403.96 281.64h1.4v1.4h-1.4zM406.2 275.31h1.4v1.4h-1.4zM399.8 278.62h1.4v1.4h-1.4zM402.39 285.16h1.4v1.4h-1.4zM399.8 276.69h1.4v1.4h-1.4zM405.95 273.34h1.4v1.4h-1.4zM405.06 285.13h1.4v1.4h-1.4zM406.2 283.56h1.4v1.4h-1.4zM402.67 281.09h1.4v1.4h-1.4zM403.93 274.43h1.4v1.4h-1.4zM404.25 281.72h1.4v1.4h-1.4zM399.85 275.31h1.4v1.4h-1.4zM402.38 279.76h1.4v1.4h-1.4zM403.6 280.62h1.4v1.4h-1.4zM400.62 283.78h1.4v1.4h-1.4zM402.09 282.24h1.4v1.4h-1.4zM404.98 281.91h1.4v1.4h-1.4zM403.87 286.35h1.4v1.4h-1.4zM401.09 278.02h1.4v1.4h-1.4zM401.34 281.12h1.4v1.4h-1.4zM403.8 278.68h1.4v1.4h-1.4zM400.64 276.72h1.4v1.4h-1.4zM401.65 286.74h1.4v1.4h-1.4zM402.79 274.03h1.4v1.4h-1.4zM404.63 274.05h1.4v1.4h-1.4zM401.96 286.83h1.4v1.4h-1.4zM402.47 281.78h1.4v1.4h-1.4zM403.22 274.22h1.4v1.4h-1.4zM402.22 273.76h1.4v1.4h-1.4zM402.54 284.14h1.4v1.4h-1.4zM405.64 280.23h1.4v1.4h-1.4zM405.83 274.94h1.4v1.4h-1.4zM403.67 287.07h1.4v1.4h-1.4zM403.51 278.98h1.4v1.4h-1.4zM403.43 280.79h1.4v1.4h-1.4zM405.3 278.45h1.4v1.4h-1.4zM402.46 284.15h1.4v1.4h-1.4zM404.76 282.94h1.4v1.4h-1.4zM404.41 280.61h1.4v1.4h-1.4zM405.98 287.67h1.4v1.4h-1.4zM404.65 283.07h1.4v1.4h-1.4zM402.38 281.26h1.4v1.4h-1.4zM403.69 280.87h1.4v1.4h-1.4zM403.64 283.86h1.4v1.4h-1.4zM401.56 287.31h1.4v1.4h-1.4zM402.29 280.84h1.4v1.4h-1.4zM401.04 282.91h1.4v1.4h-1.4zM400.33 280.26h1.4v1.4h-1.4zM404.07 282.97h1.4v1.4h-1.4zM401.11 272.67h1.4v1.4h-1.4zM403.22 268.1h1.4v1.4h-1.4zM402.01 263.42h1.4v1.4h-1.4zM404.54 263.37h1.4v1.4h-1.4zM403.57 266.58h1.4v1.4h-1.4zM403.63 273.03h1.4v1.4h-1.4zM404.29 265.7h1.4v1.4h-1.4zM403.18 258.65h1.4v1.4h-1.4zM401.29 259.79h1.4v1.4h-1.4zM403.05 270.14h1.4v1.4h-1.4zM403.61 263.64h1.4v1.4h-1.4zM402.92 257.28h1.4v1.4h-1.4zM403.44 267.64h1.4v1.4h-1.4zM401.15 271.25h1.4v1.4h-1.4zM403.37 272.13h1.4v1.4h-1.4zM405.8 271.28h1.4v1.4h-1.4zM401.65 268.17h1.4v1.4h-1.4zM401.7 272.04h1.4v1.4h-1.4zM405.8 262.43h1.4v1.4h-1.4zM404.1 261.54h1.4v1.4h-1.4zM405.79 262.32h1.4v1.4h-1.4zM404.88 261.02h1.4v1.4h-1.4zM400.86 269.79h1.4v1.4h-1.4zM405.27 270.11h1.4v1.4h-1.4zM403.35 268.99h1.4v1.4h-1.4zM401.94 259.49h1.4v1.4h-1.4zM404.01 265.93h1.4v1.4h-1.4zM403.58 259.97h1.4v1.4h-1.4zM403.78 266.01h1.4v1.4h-1.4zM401.2 261.83h1.4v1.4h-1.4zM405.8 262.3h1.4v1.4h-1.4zM402.8 264.19h1.4v1.4h-1.4zM404.47 259.35h1.4v1.4h-1.4zM400.51 265.45h1.4v1.4h-1.4zM401.18 272.34h1.4v1.4h-1.4zM403.84 261.45h1.4v1.4h-1.4zM404.25 267.14h1.4v1.4h-1.4zM402.01 258.2h1.4v1.4h-1.4zM404.11 259.48h1.4v1.4h-1.4zM402.01 267.71h1.4v1.4h-1.4zM402.18 269.76h1.4v1.4h-1.4zM401.98 270.62h1.4v1.4h-1.4zM401.46 257.16h1.4v1.4h-1.4zM400.9 272.39h1.4v1.4h-1.4zM403.09 257.87h1.4v1.4h-1.4zM404.61 262.04h1.4v1.4h-1.4zM404.03 270.02h1.4v1.4h-1.4zM405.8 261.88h1.4v1.4h-1.4zM402.72 243.04h1.4v1.4h-1.4zM403.5 253.01h1.4v1.4h-1.4zM401.97 246.37h1.4v1.4h-1.4zM403.1 251.7h1.4v1.4h-1.4zM404.25 249.4h1.4v1.4h-1.4zM403.38 248.21h1.4v1.4h-1.4zM401.88 246.59h1.4v1.4h-1.4zM401.69 248.98h1.4v1.4h-1.4zM402.23 248.95h1.4v1.4h-1.4zM401.56 253.86h1.4v1.4h-1.4zM401.42 242.91h1.4v1.4h-1.4zM403.21 243.39h1.4v1.4h-1.4zM401.32 247.58h1.4v1.4h-1.4zM401.95 244.75h1.4v1.4h-1.4zM403.5 252.13h1.4v1.4h-1.4zM400.63 249.09h1.4v1.4h-1.4zM403.74 255.66h1.4v1.4h-1.4zM401.65 247.08h1.4v1.4h-1.4zM401.2 255.17h1.4v1.4h-1.4zM402.55 246.88h1.4v1.4h-1.4zM402.3 249.74h1.4v1.4h-1.4zM402.56 242.18h1.4v1.4h-1.4zM404.78 244.4h1.4v1.4h-1.4zM403.06 254.36h1.4v1.4h-1.4zM400.95 241.61h1.4v1.4h-1.4zM402.37 248.58h1.4v1.4h-1.4zM403.47 250.3h1.4v1.4h-1.4zM403.29 252.45h1.4v1.4h-1.4zM401.67 255.11h1.4v1.4h-1.4zM402.31 249.68h1.4v1.4h-1.4zM402.14 246.6h1.4v1.4h-1.4zM401.36 251.36h1.4v1.4h-1.4zM402.87 250.65h1.4v1.4h-1.4zM402.13 243.99h1.4v1.4h-1.4zM402.71 249.67h1.4v1.4h-1.4zM403.05 254.99h1.4v1.4h-1.4zM402.11 255.24h1.4v1.4h-1.4zM404.82 246.87h1.4v1.4h-1.4zM401.91 240.91h1.4v1.4h-1.4zM403.15 254.42h1.4v1.4h-1.4zM402.7 249.75h1.4v1.4h-1.4zM403.07 244.57h1.4v1.4h-1.4zM404.69 247.84h1.4v1.4h-1.4zM401.62 247.52h1.4v1.4h-1.4zM403.93 242.04h1.4v1.4h-1.4zM401.58 241.22h1.4v1.4h-1.4zM403.64 255.08h1.4v1.4h-1.4zM401.35 244.36h1.4v1.4h-1.4zM402.63 247.13h1.4v1.4h-1.4zM402.06 253.51h1.4v1.4h-1.4zM402.38 255.63h1.4v1.4h-1.4zM404.15 253.1h1.4v1.4h-1.4zM404.3 251.69h1.4v1.4h-1.4zM402.92 244.04h1.4v1.4h-1.4zM402.13 255.95h1.4v1.4h-1.4zM404.09 247.06h1.4v1.4h-1.4zM401.48 252.81h1.4v1.4h-1.4zM401.09 248.91h1.4v1.4h-1.4zM402.82 247.88h1.4v1.4h-1.4zM402.81 256.12h1.4v1.4h-1.4zM403.2 251.87h1.4v1.4h-1.4zM402.94 255.93h1.4v1.4h-1.4zM405.4 253.66h1.4v1.4h-1.4zM401.9 243.89h1.4v1.4h-1.4zM402.42 243.07h1.4v1.4h-1.4zM402.04 253.3h1.4v1.4h-1.4zM404.17 252.1h1.4v1.4h-1.4zM401.96 255.55h1.4v1.4h-1.4zM401.45 248.73h1.4v1.4h-1.4zM402.72 243.49h1.4v1.4h-1.4zM402.17 255.92h1.4v1.4h-1.4zM403.34 250.8h1.4v1.4h-1.4zM400.6 245.96h1.4v1.4h-1.4zM403.98 250.96h1.4v1.4h-1.4zM403.27 255.22h1.4v1.4h-1.4zM402.73 235.59h1.4v1.4h-1.4zM402.56 235.27h1.4v1.4h-1.4zM403.23 239.77h1.4v1.4h-1.4zM402.78 240.49h1.4v1.4h-1.4zM403.21 237.42h1.4v1.4h-1.4zM404.13 239.29h1.4v1.4h-1.4zM403.01 233.15h1.4v1.4h-1.4zM403.68 233.76h1.4v1.4h-1.4zM403.35 236.23h1.4v1.4h-1.4zM402.58 236.14h1.4v1.4h-1.4zM403.81 238.04h1.4v1.4h-1.4zM403.45 240.38h1.4v1.4h-1.4zM417.73 257.05h1.4v1.4h-1.4zM414.25 255.74h1.4v1.4h-1.4zM417.75 281.03h1.4v1.4h-1.4zM414.02 255.43h1.4v1.4h-1.4zM415.99 264.42h1.4v1.4h-1.4zM414.27 263.94h1.4v1.4h-1.4zM414.64 280.94h1.4v1.4h-1.4zM418.64 241.05h1.4v1.4h-1.4zM414.78 233.13h1.4v1.4h-1.4zM415.34 281.66h1.4v1.4h-1.4zM420.06 269.03h1.4v1.4h-1.4zM418.83 277.81h1.4v1.4h-1.4zM414.29 255.73h1.4v1.4h-1.4zM414.03 280.17h1.4v1.4h-1.4zM417.57 276.19h1.4v1.4h-1.4zM415.22 253.59h1.4v1.4h-1.4zM417.71 283.38h1.4v1.4h-1.4zM417.68 232.98h1.4v1.4h-1.4zM434.56 293.2h1.4v1.4h-1.4zM430.56 292.89h1.4v1.4h-1.4zM429.1 285.25h1.4v1.4h-1.4zM433.13 283.59h1.4v1.4h-1.4zM428.41 292.47h1.4v1.4h-1.4zM431.34 289.92h1.4v1.4h-1.4zM433.88 296.05h1.4v1.4h-1.4zM434.63 282.77h1.4v1.4h-1.4zM431.08 287.6h1.4v1.4h-1.4zM432.39 282.52h1.4v1.4h-1.4zM432.4 286.65h1.4v1.4h-1.4zM430.91 291.83h1.4v1.4h-1.4zM433.27 295.42h1.4v1.4h-1.4zM434.31 292.49h1.4v1.4h-1.4zM431.25 287.35h1.4v1.4h-1.4zM431.35 290.82h1.4v1.4h-1.4zM431.68 296.34h1.4v1.4h-1.4zM431.59 282.3h1.4v1.4h-1.4zM443.84 293.02h1.4v1.4h-1.4zM445.75 296.1h1.4v1.4h-1.4zM443.45 294.25h1.4v1.4h-1.4zM445.01 294.26h1.4v1.4h-1.4zM442.99 297.15h1.4v1.4h-1.4zM446.29 294.3h1.4v1.4h-1.4zM447.3 291.32h1.4v1.4h-1.4zM445.64 294.09h1.4v1.4h-1.4zM446.75 295.61h1.4v1.4h-1.4zM444.64 297.47h1.4v1.4h-1.4zM444.26 298.07h1.4v1.4h-1.4zM443.47 292.86h1.4v1.4h-1.4zM449.32 292.03h1.4v1.4h-1.4zM448.13 293.91h1.4v1.4h-1.4zM446.99 295.06h1.4v1.4h-1.4zM448.4 296.05h1.4v1.4h-1.4zM445.44 299.22h1.4v1.4h-1.4zM446.09 291.3h1.4v1.4h-1.4zM446.61 281.22h1.4v1.4h-1.4zM460.88 283.75h1.4v1.4h-1.4zM459.48 282.65h1.4v1.4h-1.4zM462.23 281.27h1.4v1.4h-1.4zM460.38 278.66h1.4v1.4h-1.4zM463.27 287.81h1.4v1.4h-1.4zM458.34 296.97h1.4v1.4h-1.4zM457.45 300.28h1.4v1.4h-1.4zM459.69 283.92h1.4v1.4h-1.4zM460.03 279.2h1.4v1.4h-1.4zM460.76 280.27h1.4v1.4h-1.4zM461.11 297.25h1.4v1.4h-1.4zM463.06 293.16h1.4v1.4h-1.4zM461.37 295.74h1.4v1.4h-1.4zM459.45 296.41h1.4v1.4h-1.4zM463.79 281.07h1.4v1.4h-1.4zM463.31 298.78h1.4v1.4h-1.4zM459.55 300.3h1.4v1.4h-1.4zM459.93 277.91h1.4v1.4h-1.4zM472.61 294.41h1.4v1.4h-1.4zM475.55 282.27h1.4v1.4h-1.4zM474.22 292.92h1.4v1.4h-1.4zM475.82 292.51h1.4v1.4h-1.4zM477.41 292.5h1.4v1.4h-1.4zM475.59 285.55h1.4v1.4h-1.4zM476.02 283.22h1.4v1.4h-1.4zM477.4 291h1.4v1.4h-1.4zM476.51 289.88h1.4v1.4h-1.4zM477.63 290.06h1.4v1.4h-1.4zM477.48 291.14h1.4v1.4h-1.4zM477.45 290.36h1.4v1.4h-1.4zM477.03 284.56h1.4v1.4h-1.4zM472.93 295.08h1.4v1.4h-1.4zM472.98 281.97h1.4v1.4h-1.4zM472.39 291.12h1.4v1.4h-1.4zM474.69 295.62h1.4v1.4h-1.4zM474.86 281.44h1.4v1.4h-1.4zM475.15 261.35h1.4v1.4h-1.4zM487.13 251.53h1.4v1.4h-1.4zM487.08 285.05h1.4v1.4h-1.4zM486.76 302.87h1.4v1.4h-1.4zM491.22 244h1.4v1.4h-1.4zM488.56 248.88h1.4v1.4h-1.4zM491.28 260.76h1.4v1.4h-1.4zM490.25 258.24h1.4v1.4h-1.4zM487.46 249.78h1.4v1.4h-1.4zM491.26 255.95h1.4v1.4h-1.4zM491.29 298.86h1.4v1.4h-1.4zM486.95 262.6h1.4v1.4h-1.4zM492.39 251.64h1.4v1.4h-1.4zM491.05 304.73h1.4v1.4h-1.4zM489.67 305.83h1.4v1.4h-1.4zM491.85 269.25h1.4v1.4h-1.4zM489.59 250.25h1.4v1.4h-1.4zM489.34 306.2h1.4v1.4h-1.4zM488.24 243.78h1.4v1.4h-1.4zM501.4 262.48h1.4v1.4h-1.4zM506.73 256.12h1.4v1.4h-1.4zM505.37 256.72h1.4v1.4h-1.4zM500.2 247.29h1.4v1.4h-1.4zM501.42 282.5h1.4v1.4h-1.4zM505.33 257.91h1.4v1.4h-1.4zM504.46 250.71h1.4v1.4h-1.4zM500.67 277.68h1.4v1.4h-1.4zM503.09 256.84h1.4v1.4h-1.4zM501.4 263.15h1.4v1.4h-1.4zM506.26 264.58h1.4v1.4h-1.4zM506.04 250.26h1.4v1.4h-1.4zM504.14 254.17h1.4v1.4h-1.4zM505.84 253.39h1.4v1.4h-1.4zM500.41 251.5h1.4v1.4h-1.4zM502.24 259.98h1.4v1.4h-1.4zM503.44 284.96h1.4v1.4h-1.4zM503.55 246.08h1.4v1.4h-1.4zM520.8 241.47h1.4v1.4h-1.4zM519.01 246.74h1.4v1.4h-1.4zM519.44 245.78h1.4v1.4h-1.4zM519.55 242.62h1.4v1.4h-1.4zM518.23 247.07h1.4v1.4h-1.4zM518.58 242.2h1.4v1.4h-1.4zM518.69 242.32h1.4v1.4h-1.4zM517.89 245.66h1.4v1.4h-1.4zM517.61 252.36h1.4v1.4h-1.4zM520.18 251.87h1.4v1.4h-1.4zM515.81 245.83h1.4v1.4h-1.4zM516.05 251.27h1.4v1.4h-1.4zM515.22 245.6h1.4v1.4h-1.4zM516.67 242.99h1.4v1.4h-1.4zM515.69 246.11h1.4v1.4h-1.4zM519.6 253.41h1.4v1.4h-1.4zM517.63 253.86h1.4v1.4h-1.4zM518.42 237.88h1.4v1.4h-1.4zM534.07 264.46h1.4v1.4h-1.4zM533.32 284.3h1.4v1.4h-1.4zM533.99 273.33h1.4v1.4h-1.4zM529.7 291.96h1.4v1.4h-1.4zM531.41 268.74h1.4v1.4h-1.4zM535.16 279.53h1.4v1.4h-1.4zM535.4 262.23h1.4v1.4h-1.4zM530.2 269.26h1.4v1.4h-1.4zM533.97 291.4h1.4v1.4h-1.4zM533.55 268.49h1.4v1.4h-1.4zM531.91 277.81h1.4v1.4h-1.4zM529.6 264.29h1.4v1.4h-1.4zM534.01 261.68h1.4v1.4h-1.4zM533.89 268.71h1.4v1.4h-1.4zM534.72 263.64h1.4v1.4h-1.4zM534.37 265.93h1.4v1.4h-1.4zM532.92 296.34h1.4v1.4h-1.4zM533 261.35h1.4v1.4h-1.4z" fill="#000"/>
<path d="M396 219.6V335.4H541M396 335.2h-2M396 320.8h-2M396 306.4h-2M396 292h-2M396 277.6h-2M396 263.2h-2M396 248.8h-2M396 234.4h-2M396 220h-2M396 328h-1.1M396 313.6h-1.1M396 299.2h-1.1M396 284.8h-1.1M396 270.4h-1.1M396 256h-1.1M396 241.6h-1.1M396 227.2h-1.1M403.7 335.4v2M418.07 335.4v2M432.44 335.4v2M446.81 335.4v2M461.18 335.4v2M475.55 335.4v2M489.92 335.4v2M504.29 335.4v2M518.66 335.4v2M533.03 335.4v2" stroke="#4a4a4a" stroke-width="0.7" fill="none"/>
<text x="392.8" y="337.4" font-size="6.5" text-anchor="end" fill="#111">20</text>
<text x="392.8" y="323" font-size="6.5" text-anchor="end" fill="#111">40</text>
<text x="392.8" y="308.6" font-size="6.5" text-anchor="end" fill="#111">60</text>
<text x="392.8" y="294.2" font-size="6.5" text-anchor="end" fill="#111">80</text>
<text x="392.8" y="279.8" font-size="6.5" text-anchor="end" fill="#111">100</text>
<text x="392.8" y="265.4" font-size="6.5" text-anchor="end" fill="#111">120</text>
<text x="392.8" y="251" font-size="6.5" text-anchor="end" fill="#111">140</text>
<text x="392.8" y="236.6" font-size="6.5" text-anchor="end" fill="#111">160</text>
<text x="392.8" y="222.2" font-size="6.5" text-anchor="end" fill="#111">180</text>
<text x="414.9" y="344.4" font-size="6.55" text-anchor="end" fill="#111" transform="rotate(-27 414.9 344.4)">National</text>
<text x="429.27" y="344.4" font-size="6.55" text-anchor="end" fill="#111" transform="rotate(-27 429.27 344.4)">Gansu</text>
<text x="443.64" y="344.4" font-size="6.55" text-anchor="end" fill="#111" transform="rotate(-27 443.64 344.4)">Guangxi</text>
<text x="458.01" y="344.4" font-size="6.55" text-anchor="end" fill="#111" transform="rotate(-27 458.01 344.4)">Guizhou</text>
<text x="472.38" y="344.4" font-size="6.55" text-anchor="end" fill="#111" transform="rotate(-27 472.38 344.4)">Hubei</text>
<text x="486.75" y="344.4" font-size="6.55" text-anchor="end" fill="#111" transform="rotate(-27 486.75 344.4)">Shaanxi</text>
<text x="501.12" y="344.4" font-size="6.55" text-anchor="end" fill="#111" transform="rotate(-27 501.12 344.4)">Sichuan</text>
<text x="515.49" y="344.4" font-size="6.55" text-anchor="end" fill="#111" transform="rotate(-27 515.49 344.4)">Xinjiang</text>
<text x="529.86" y="344.4" font-size="6.55" text-anchor="end" fill="#111" transform="rotate(-27 529.86 344.4)">Xizang</text>
<text x="544.23" y="344.4" font-size="6.55" text-anchor="end" fill="#111" transform="rotate(-27 544.23 344.4)">Yunnan</text>
<text x="380.8" y="277.2" font-size="6.47" text-anchor="middle" fill="#111" transform="rotate(-90 380.8 277.2)">Mean diurnal range (°C*10)</text>
<text x="368.6" y="219.6" font-size="9.2" text-anchor="start" fill="#000" font-weight="bold">I</text>
<path d="M40 378.17L40.06 380.72L40.15 383.27L40.27 385.82L40.42 388.37L40.61 390.91L40.84 393.46L41.12 396.01L41.44 398.56L41.82 401.11L42.23 403.66L42.68 406.21L43.15 408.76L43.62 411.31L44.08 413.85L44.5 416.4L44.87 418.95L45.17 421.5L45.38 424.05L45.49 426.6L45.49 429.15L45.38 431.7L45.17 434.25L44.87 436.79L44.5 439.34L44.08 441.89L43.62 444.44L43.15 446.99L42.68 449.54L42.23 452.09L41.82 454.64L41.44 457.19L41.12 459.73L40.84 462.28L40.61 464.83L40.42 467.38L40.27 469.93L40.15 472.48L40.06 475.03L40 477.58" fill="none" stroke="#3a3a3a" stroke-width="0.55"/>
<path d="M40 413.59V435.69M40 451.01V477.5M38.2 413.59h3.6M38.2 477.5h3.6" stroke="#222" stroke-width="0.5" fill="none"/>
<rect x="35.25" y="435.69" width="9.5" height="15.32" fill="#f6821f" stroke="#5a3a10" stroke-width="0.4"/>
<path d="M35.25 442.85h9.5" stroke="#4a2a08" stroke-width="0.5"/>
<path d="M54.45 408.58L54.51 410.19L54.6 411.79L54.72 413.39L54.87 414.99L55.06 416.59L55.29 418.19L55.57 419.79L55.89 421.39L56.27 423L56.68 424.6L57.13 426.2L57.6 427.8L58.07 429.4L58.53 431L58.95 432.6L59.32 434.2L59.62 435.81L59.83 437.41L59.94 439.01L59.94 440.61L59.83 442.21L59.62 443.81L59.32 445.41L58.95 447.01L58.53 448.62L58.07 450.22L57.6 451.82L57.13 453.42L56.68 455.02L56.27 456.62L55.89 458.22L55.57 459.82L55.29 461.42L55.06 463.03L54.87 464.63L54.72 466.23L54.6 467.83L54.51 469.43L54.45 471.03" fill="none" stroke="#3a3a3a" stroke-width="0.55"/>
<path d="M54.45 432.22V438.54M54.45 446.78V449.78M52.65 432.22h3.6M52.65 449.78h3.6" stroke="#222" stroke-width="0.5" fill="none"/>
<rect x="49.7" y="438.54" width="9.5" height="8.24" fill="#f6821f" stroke="#5a3a10" stroke-width="0.4"/>
<path d="M49.7 442.31h9.5" stroke="#4a2a08" stroke-width="0.5"/>
<path d="M68.9 436.15L68.96 437.2L69.05 438.24L69.17 439.29L69.32 440.34L69.51 441.38L69.74 442.43L70.02 443.48L70.34 444.52L70.72 445.57L71.13 446.62L71.58 447.66L72.05 448.71L72.52 449.75L72.98 450.8L73.4 451.85L73.77 452.89L74.07 453.94L74.28 454.99L74.39 456.03L74.39 457.08L74.28 458.13L74.07 459.17L73.77 460.22L73.4 461.26L72.98 462.31L72.52 463.36L72.05 464.4L71.58 465.45L71.13 466.5L70.72 467.54L70.34 468.59L70.02 469.64L69.74 470.68L69.51 471.73L69.32 472.78L69.17 473.82L69.05 474.87L68.96 475.91L68.9 476.96" fill="none" stroke="#3a3a3a" stroke-width="0.55"/>
<path d="M68.9 445.16V450.32M68.9 461.64V462.79M67.1 445.16h3.6M67.1 462.79h3.6" stroke="#222" stroke-width="0.5" fill="none"/>
<rect x="64.15" y="450.32" width="9.5" height="11.32" fill="#f6821f" stroke="#5a3a10" stroke-width="0.4"/>
<path d="M64.15 459.25h9.5" stroke="#4a2a08" stroke-width="0.5"/>
<path d="M83.35 430.99L83.41 431.83L83.5 432.66L83.62 433.49L83.77 434.32L83.96 435.16L84.19 435.99L84.47 436.82L84.79 437.66L85.17 438.49L85.58 439.32L86.03 440.16L86.5 440.99L86.97 441.82L87.43 442.66L87.85 443.49L88.22 444.32L88.52 445.16L88.73 445.99L88.84 446.82L88.84 447.66L88.73 448.49L88.52 449.32L88.22 450.16L87.85 450.99L87.43 451.82L86.97 452.65L86.5 453.49L86.03 454.32L85.58 455.15L85.17 455.99L84.79 456.82L84.47 457.65L84.19 458.49L83.96 459.32L83.77 460.15L83.62 460.99L83.5 461.82L83.41 462.65L83.35 463.49" fill="none" stroke="#3a3a3a" stroke-width="0.55"/>
<path d="M83.35 442.08V443.93M83.35 449.39V453.4M81.55 442.08h3.6M81.55 453.4h3.6" stroke="#222" stroke-width="0.5" fill="none"/>
<rect x="78.6" y="443.93" width="9.5" height="5.47" fill="#f6821f" stroke="#5a3a10" stroke-width="0.4"/>
<path d="M78.6 446.31h9.5" stroke="#4a2a08" stroke-width="0.5"/>
<path d="M97.8 428.99L97.86 429.62L97.95 430.24L98.07 430.87L98.22 431.49L98.41 432.12L98.64 432.75L98.92 433.37L99.24 434L99.62 434.62L100.03 435.25L100.48 435.87L100.95 436.5L101.42 437.13L101.88 437.75L102.3 438.38L102.67 439L102.97 439.63L103.18 440.26L103.29 440.88L103.29 441.51L103.18 442.13L102.97 442.76L102.67 443.39L102.3 444.01L101.88 444.64L101.42 445.26L100.95 445.89L100.48 446.51L100.03 447.14L99.62 447.77L99.24 448.39L98.92 449.02L98.64 449.64L98.41 450.27L98.22 450.9L98.07 451.52L97.95 452.15L97.86 452.77L97.8 453.4" fill="none" stroke="#3a3a3a" stroke-width="0.55"/>
<path d="M97.8 435.23V439.23M97.8 444.39V447.01M96 435.23h3.6M96 447.01h3.6" stroke="#222" stroke-width="0.5" fill="none"/>
<rect x="93.05" y="439.23" width="9.5" height="5.16" fill="#f6821f" stroke="#5a3a10" stroke-width="0.4"/>
<path d="M93.05 441.69h9.5" stroke="#4a2a08" stroke-width="0.5"/>
<path d="M112.25 425.14L112.31 425.86L112.4 426.59L112.52 427.31L112.67 428.04L112.86 428.76L113.09 429.49L113.37 430.21L113.69 430.94L114.07 431.66L114.48 432.39L114.93 433.11L115.4 433.84L115.87 434.56L116.33 435.28L116.75 436.01L117.12 436.73L117.42 437.46L117.63 438.18L117.74 438.91L117.74 439.63L117.63 440.36L117.42 441.08L117.12 441.81L116.75 442.53L116.33 443.25L115.87 443.98L115.4 444.7L114.93 445.43L114.48 446.15L114.07 446.88L113.69 447.6L113.37 448.33L113.09 449.05L112.86 449.78L112.67 450.5L112.52 451.23L112.4 451.95L112.31 452.67L112.25 453.4" fill="none" stroke="#3a3a3a" stroke-width="0.55"/>
<path d="M112.25 435.69V437.61M112.25 442.31V443.93M110.45 435.69h3.6M110.45 443.93h3.6" stroke="#222" stroke-width="0.5" fill="none"/>
<rect x="107.5" y="437.61" width="9.5" height="4.7" fill="#f6821f" stroke="#5a3a10" stroke-width="0.4"/>
<path d="M107.5 440h9.5" stroke="#4a2a08" stroke-width="0.5"/>
<path d="M126.7 433.3L126.76 434.24L126.85 435.18L126.97 436.12L127.12 437.05L127.31 437.99L127.54 438.93L127.82 439.87L128.14 440.8L128.52 441.74L128.93 442.68L129.38 443.62L129.85 444.56L130.32 445.49L130.78 446.43L131.2 447.37L131.57 448.31L131.87 449.24L132.08 450.18L132.19 451.12L132.19 452.06L132.08 453L131.87 453.93L131.57 454.87L131.2 455.81L130.78 456.75L130.32 457.69L129.85 458.62L129.38 459.56L128.93 460.5L128.52 461.44L128.14 462.37L127.82 463.31L127.54 464.25L127.31 465.19L127.12 466.13L126.97 467.06L126.85 468L126.76 468.94L126.7 469.88" fill="none" stroke="#3a3a3a" stroke-width="0.55"/>
<path d="M126.7 443.93V446.31M126.7 455.71V466.33M124.9 443.93h3.6M124.9 466.33h3.6" stroke="#222" stroke-width="0.5" fill="none"/>
<rect x="121.95" y="446.31" width="9.5" height="9.39" fill="#f6821f" stroke="#5a3a10" stroke-width="0.4"/>
<path d="M121.95 450.32h9.5" stroke="#4a2a08" stroke-width="0.5"/>
<path d="M141.15 393.26L141.21 394.59L141.3 395.92L141.42 397.25L141.57 398.58L141.76 399.92L141.99 401.25L142.27 402.58L142.59 403.91L142.97 405.24L143.38 406.57L143.83 407.9L144.3 409.23L144.77 410.56L145.23 411.89L145.65 413.22L146.02 414.55L146.32 415.88L146.53 417.21L146.64 418.55L146.64 419.88L146.53 421.21L146.32 422.54L146.02 423.87L145.65 425.2L145.23 426.53L144.77 427.86L144.3 429.19L143.83 430.52L143.38 431.85L142.97 433.18L142.59 434.51L142.27 435.84L141.99 437.18L141.76 438.51L141.57 439.84L141.42 441.17L141.3 442.5L141.21 443.83L141.15 445.16" fill="none" stroke="#3a3a3a" stroke-width="0.55"/>
<path d="M141.15 406.2V412.82M141.15 425.14V433.3M139.35 406.2h3.6M139.35 433.3h3.6" stroke="#222" stroke-width="0.5" fill="none"/>
<rect x="136.4" y="412.82" width="9.5" height="12.32" fill="#f6821f" stroke="#5a3a10" stroke-width="0.4"/>
<path d="M136.4 417.29h9.5" stroke="#4a2a08" stroke-width="0.5"/>
<path d="M155.6 434.53L155.66 435.35L155.75 436.16L155.87 436.98L156.02 437.8L156.21 438.61L156.44 439.43L156.72 440.24L157.04 441.06L157.42 441.87L157.83 442.69L158.28 443.5L158.75 444.32L159.22 445.13L159.68 445.95L160.1 446.77L160.47 447.58L160.77 448.4L160.98 449.21L161.09 450.03L161.09 450.84L160.98 451.66L160.77 452.47L160.47 453.29L160.1 454.1L159.68 454.92L159.22 455.73L158.75 456.55L158.28 457.37L157.83 458.18L157.42 459L157.04 459.81L156.72 460.63L156.44 461.44L156.21 462.26L156.02 463.07L155.87 463.89L155.75 464.7L155.66 465.52L155.6 466.33" fill="none" stroke="#3a3a3a" stroke-width="0.55"/>
<path d="M155.6 442.77V447.47M155.6 454.55V459.25M153.8 442.77h3.6M153.8 459.25h3.6" stroke="#222" stroke-width="0.5" fill="none"/>
<rect x="150.85" y="447.47" width="9.5" height="7.08" fill="#f6821f" stroke="#5a3a10" stroke-width="0.4"/>
<path d="M150.85 450.32h9.5" stroke="#4a2a08" stroke-width="0.5"/>
<path d="M170.05 458.79L170.11 459.28L170.2 459.78L170.32 460.27L170.47 460.76L170.66 461.26L170.89 461.75L171.17 462.24L171.49 462.74L171.87 463.23L172.28 463.72L172.73 464.22L173.2 464.71L173.67 465.21L174.13 465.7L174.55 466.19L174.92 466.69L175.22 467.18L175.43 467.67L175.54 468.17L175.54 468.66L175.43 469.15L175.22 469.65L174.92 470.14L174.55 470.64L174.13 471.13L173.67 471.62L173.2 472.12L172.73 472.61L172.28 473.1L171.87 473.6L171.49 474.09L171.17 474.58L170.89 475.08L170.66 475.57L170.47 476.06L170.32 476.56L170.2 477.05L170.11 477.55L170.05 478.04" fill="none" stroke="#3a3a3a" stroke-width="0.55"/>
<path d="M170.05 461.64V467.49M170.05 472.88V477.58M168.25 461.64h3.6M168.25 477.58h3.6" stroke="#222" stroke-width="0.5" fill="none"/>
<rect x="165.3" y="467.49" width="9.5" height="5.39" fill="#f6821f" stroke="#5a3a10" stroke-width="0.4"/>
<path d="M165.3 469.88h9.5" stroke="#4a2a08" stroke-width="0.5"/>
<path d="M39.97 377.74h1.4v1.4h-1.4zM39.29 393.77h1.4v1.4h-1.4zM39.27 402.98h1.4v1.4h-1.4zM39.17 391.5h1.4v1.4h-1.4zM39.12 380.42h1.4v1.4h-1.4zM39.3 390.11h1.4v1.4h-1.4zM39.23 401.17h1.4v1.4h-1.4zM39.3 389.94h1.4v1.4h-1.4zM39.28 381.04h1.4v1.4h-1.4zM38.98 381.33h1.4v1.4h-1.4zM39.43 412.52h1.4v1.4h-1.4zM38.6 420.1h1.4v1.4h-1.4zM39.65 404.46h1.4v1.4h-1.4zM40.42 422.86h1.4v1.4h-1.4zM39.23 409.98h1.4v1.4h-1.4zM39.35 419.02h1.4v1.4h-1.4zM40.5 407.32h1.4v1.4h-1.4zM39.24 421.63h1.4v1.4h-1.4zM38.59 410.48h1.4v1.4h-1.4zM39.56 408.5h1.4v1.4h-1.4zM38.71 422.85h1.4v1.4h-1.4zM39.73 405.97h1.4v1.4h-1.4zM38.51 408.1h1.4v1.4h-1.4zM39.37 418.12h1.4v1.4h-1.4zM39.48 414.81h1.4v1.4h-1.4zM40.05 409.45h1.4v1.4h-1.4zM39.57 409.55h1.4v1.4h-1.4zM38.58 413.11h1.4v1.4h-1.4zM39.45 415.28h1.4v1.4h-1.4zM39.36 405.4h1.4v1.4h-1.4zM40.31 409.08h1.4v1.4h-1.4zM39.04 422.02h1.4v1.4h-1.4zM39.15 404.75h1.4v1.4h-1.4zM39.59 410.78h1.4v1.4h-1.4zM39.15 415.32h1.4v1.4h-1.4zM38.09 430.28h1.4v1.4h-1.4zM38.44 423.91h1.4v1.4h-1.4zM39.46 426.5h1.4v1.4h-1.4zM39.28 432.44h1.4v1.4h-1.4zM38.18 428.89h1.4v1.4h-1.4zM39.03 425.61h1.4v1.4h-1.4zM39.39 433.8h1.4v1.4h-1.4zM37.1 428.02h1.4v1.4h-1.4zM37.49 430.38h1.4v1.4h-1.4zM37.1 428.02h1.4v1.4h-1.4zM37.27 431.57h1.4v1.4h-1.4zM39.54 431.98h1.4v1.4h-1.4zM39.44 427.55h1.4v1.4h-1.4zM37.12 431.06h1.4v1.4h-1.4zM40.1 432.72h1.4v1.4h-1.4zM40.44 425.55h1.4v1.4h-1.4zM39.31 428.27h1.4v1.4h-1.4zM39.72 433.22h1.4v1.4h-1.4zM39.74 431.31h1.4v1.4h-1.4zM38.55 423.07h1.4v1.4h-1.4zM41.07 430.48h1.4v1.4h-1.4zM38.2 429.77h1.4v1.4h-1.4zM38.78 424.44h1.4v1.4h-1.4zM37.1 429.69h1.4v1.4h-1.4zM40.16 423.25h1.4v1.4h-1.4zM38.52 429.7h1.4v1.4h-1.4zM41.27 424.65h1.4v1.4h-1.4zM37.39 423.25h1.4v1.4h-1.4zM41.14 426.85h1.4v1.4h-1.4zM37.1 431.97h1.4v1.4h-1.4zM39.06 423.57h1.4v1.4h-1.4zM39.25 423.91h1.4v1.4h-1.4zM38.75 430.65h1.4v1.4h-1.4zM41.04 423.04h1.4v1.4h-1.4zM38.17 424.5h1.4v1.4h-1.4zM38.37 435.22h1.4v1.4h-1.4zM39.31 446.35h1.4v1.4h-1.4zM39.05 448.01h1.4v1.4h-1.4zM38.52 450.19h1.4v1.4h-1.4zM40.14 441.03h1.4v1.4h-1.4zM38.57 450.4h1.4v1.4h-1.4zM42.6 448.6h1.4v1.4h-1.4zM37.28 450.21h1.4v1.4h-1.4zM39.02 444.12h1.4v1.4h-1.4zM40.33 445.39h1.4v1.4h-1.4zM40.58 445.25h1.4v1.4h-1.4zM42.7 446.19h1.4v1.4h-1.4zM37.83 449.26h1.4v1.4h-1.4zM41.53 443.81h1.4v1.4h-1.4zM39.06 437.04h1.4v1.4h-1.4zM34.7 443.82h1.4v1.4h-1.4zM41.25 437.2h1.4v1.4h-1.4zM36.04 437.22h1.4v1.4h-1.4zM37.95 446.32h1.4v1.4h-1.4zM40.35 437.87h1.4v1.4h-1.4zM37.8 446.94h1.4v1.4h-1.4zM36.98 440.7h1.4v1.4h-1.4zM40.41 436.37h1.4v1.4h-1.4zM41.61 443.53h1.4v1.4h-1.4zM37.69 439.94h1.4v1.4h-1.4zM38.31 439.49h1.4v1.4h-1.4zM40.1 439.28h1.4v1.4h-1.4zM39.31 446.54h1.4v1.4h-1.4zM38.52 435.54h1.4v1.4h-1.4zM43.63 440.84h1.4v1.4h-1.4zM38.41 448.61h1.4v1.4h-1.4zM37.01 444.3h1.4v1.4h-1.4zM38.2 449.18h1.4v1.4h-1.4zM40.03 437.81h1.4v1.4h-1.4zM37.44 445.62h1.4v1.4h-1.4zM36.85 441.85h1.4v1.4h-1.4zM35.46 443.98h1.4v1.4h-1.4zM43.9 444.3h1.4v1.4h-1.4zM40.48 438.22h1.4v1.4h-1.4zM36.33 436.43h1.4v1.4h-1.4zM40.33 447.44h1.4v1.4h-1.4zM40.16 434.97h1.4v1.4h-1.4zM42.01 440.54h1.4v1.4h-1.4zM36.83 434.6h1.4v1.4h-1.4zM42.01 441.58h1.4v1.4h-1.4zM41.08 437.52h1.4v1.4h-1.4zM36.35 444.37h1.4v1.4h-1.4zM39.56 434.78h1.4v1.4h-1.4zM39.66 446.06h1.4v1.4h-1.4zM39.88 437.63h1.4v1.4h-1.4zM34.7 441.41h1.4v1.4h-1.4zM39.72 439.95h1.4v1.4h-1.4zM38.22 441.27h1.4v1.4h-1.4zM41.11 436.36h1.4v1.4h-1.4zM39.61 442.75h1.4v1.4h-1.4zM37.73 439.36h1.4v1.4h-1.4zM36.76 435.05h1.4v1.4h-1.4zM38.47 448.78h1.4v1.4h-1.4zM39.78 437.25h1.4v1.4h-1.4zM38.97 446.31h1.4v1.4h-1.4zM35.78 444.78h1.4v1.4h-1.4zM42.93 437.96h1.4v1.4h-1.4zM41.15 443.84h1.4v1.4h-1.4zM39.28 448.46h1.4v1.4h-1.4zM39.6 441.26h1.4v1.4h-1.4zM40.46 439.83h1.4v1.4h-1.4zM39.69 441.3h1.4v1.4h-1.4zM38.64 435.1h1.4v1.4h-1.4zM41.84 445.02h1.4v1.4h-1.4zM38.75 440.61h1.4v1.4h-1.4zM38.44 443.5h1.4v1.4h-1.4zM39.25 443.23h1.4v1.4h-1.4zM38.89 443.98h1.4v1.4h-1.4zM39.55 445.9h1.4v1.4h-1.4zM43.9 442.34h1.4v1.4h-1.4zM37.94 439.15h1.4v1.4h-1.4zM40.26 440.13h1.4v1.4h-1.4zM41.25 435.47h1.4v1.4h-1.4zM35.68 437.59h1.4v1.4h-1.4zM38.52 444.2h1.4v1.4h-1.4zM35.55 440.02h1.4v1.4h-1.4zM37.46 436.42h1.4v1.4h-1.4zM35.62 442.48h1.4v1.4h-1.4zM39.61 449.29h1.4v1.4h-1.4zM37.72 434.57h1.4v1.4h-1.4zM41.6 448.73h1.4v1.4h-1.4zM38.43 445.05h1.4v1.4h-1.4zM38.21 443.63h1.4v1.4h-1.4zM37.7 442.25h1.4v1.4h-1.4zM37.16 448.86h1.4v1.4h-1.4zM41.61 435.24h1.4v1.4h-1.4zM35.94 435.3h1.4v1.4h-1.4zM42.03 440.28h1.4v1.4h-1.4zM38.65 449.16h1.4v1.4h-1.4zM36.12 443.48h1.4v1.4h-1.4zM39.35 445.84h1.4v1.4h-1.4zM37.6 445.56h1.4v1.4h-1.4zM37.52 445.59h1.4v1.4h-1.4zM42.16 442.76h1.4v1.4h-1.4zM40.61 449.94h1.4v1.4h-1.4zM34.7 443.65h1.4v1.4h-1.4zM38.61 450.5h1.4v1.4h-1.4zM38.58 449.02h1.4v1.4h-1.4zM37.94 443.96h1.4v1.4h-1.4zM42.89 439.39h1.4v1.4h-1.4zM37.01 444.77h1.4v1.4h-1.4zM37.07 443.29h1.4v1.4h-1.4zM39.43 449.27h1.4v1.4h-1.4zM41.79 442.91h1.4v1.4h-1.4zM35.67 439.34h1.4v1.4h-1.4zM38.59 439.1h1.4v1.4h-1.4zM38.34 442.89h1.4v1.4h-1.4zM40.57 447.33h1.4v1.4h-1.4zM43.9 441.3h1.4v1.4h-1.4zM41.06 438.09h1.4v1.4h-1.4zM37.98 448.05h1.4v1.4h-1.4zM37.2 450.39h1.4v1.4h-1.4zM34.7 446.36h1.4v1.4h-1.4zM39.23 442.62h1.4v1.4h-1.4zM41.22 443.56h1.4v1.4h-1.4zM40.73 435.25h1.4v1.4h-1.4zM37.78 446.78h1.4v1.4h-1.4zM42.93 443.99h1.4v1.4h-1.4zM36.33 442.46h1.4v1.4h-1.4zM41.7 435.93h1.4v1.4h-1.4zM40.27 437.37h1.4v1.4h-1.4zM37.69 436.33h1.4v1.4h-1.4zM41.63 447.8h1.4v1.4h-1.4zM36.46 446.62h1.4v1.4h-1.4zM36.95 439.39h1.4v1.4h-1.4zM39.91 439.84h1.4v1.4h-1.4zM43.71 449.65h1.4v1.4h-1.4zM41.26 447.46h1.4v1.4h-1.4zM37.54 443.77h1.4v1.4h-1.4zM43.18 447.35h1.4v1.4h-1.4zM43.9 444.11h1.4v1.4h-1.4zM39.81 443.07h1.4v1.4h-1.4zM39.35 438.35h1.4v1.4h-1.4zM36.65 444.83h1.4v1.4h-1.4zM36.59 445.9h1.4v1.4h-1.4zM37.58 457.51h1.4v1.4h-1.4zM38.06 456.3h1.4v1.4h-1.4zM37.38 452.04h1.4v1.4h-1.4zM38.84 460.37h1.4v1.4h-1.4zM38.33 458.65h1.4v1.4h-1.4zM38.72 456.22h1.4v1.4h-1.4zM39.67 459.76h1.4v1.4h-1.4zM37.96 456.77h1.4v1.4h-1.4zM38.34 456.33h1.4v1.4h-1.4zM39.31 456.8h1.4v1.4h-1.4zM41.5 457.71h1.4v1.4h-1.4zM40.19 458.75h1.4v1.4h-1.4zM37.1 457.69h1.4v1.4h-1.4zM39.98 452.26h1.4v1.4h-1.4zM39.76 457.51h1.4v1.4h-1.4zM38.85 452.49h1.4v1.4h-1.4zM37.1 454.2h1.4v1.4h-1.4zM38.18 457.19h1.4v1.4h-1.4zM39.58 454.85h1.4v1.4h-1.4zM41.39 457.43h1.4v1.4h-1.4zM40.33 451.02h1.4v1.4h-1.4zM38.81 460.61h1.4v1.4h-1.4zM38.8 451.23h1.4v1.4h-1.4zM39.83 454.48h1.4v1.4h-1.4zM39.74 455.46h1.4v1.4h-1.4zM40.86 454.29h1.4v1.4h-1.4zM37.1 454.34h1.4v1.4h-1.4zM39.23 460.59h1.4v1.4h-1.4zM38.94 458.45h1.4v1.4h-1.4zM38.5 459.26h1.4v1.4h-1.4zM38.76 456.68h1.4v1.4h-1.4zM38.4 456.04h1.4v1.4h-1.4zM38.27 453.74h1.4v1.4h-1.4zM37.27 455.1h1.4v1.4h-1.4zM38.45 456.45h1.4v1.4h-1.4zM39.55 467.48h1.4v1.4h-1.4zM39.99 468.49h1.4v1.4h-1.4zM39.19 463.62h1.4v1.4h-1.4zM40.41 466.64h1.4v1.4h-1.4zM40.22 472.56h1.4v1.4h-1.4zM38.1 471.72h1.4v1.4h-1.4zM39.36 472.8h1.4v1.4h-1.4zM39.34 466.44h1.4v1.4h-1.4zM39.65 473.77h1.4v1.4h-1.4zM40.02 464.41h1.4v1.4h-1.4zM38.99 469.6h1.4v1.4h-1.4zM39.91 464.35h1.4v1.4h-1.4zM38.1 468.9h1.4v1.4h-1.4zM39.66 468.84h1.4v1.4h-1.4zM38.48 468.02h1.4v1.4h-1.4zM38.47 463.12h1.4v1.4h-1.4zM39.84 475.83h1.4v1.4h-1.4zM38.82 462.29h1.4v1.4h-1.4zM50.42 445.88h1.4v1.4h-1.4zM54.17 436.97h1.4v1.4h-1.4zM56.27 437.74h1.4v1.4h-1.4zM52.76 441.51h1.4v1.4h-1.4zM50.38 442.75h1.4v1.4h-1.4zM52.78 443.89h1.4v1.4h-1.4zM55.11 443.32h1.4v1.4h-1.4zM56.24 448.49h1.4v1.4h-1.4zM50.45 437.2h1.4v1.4h-1.4zM51.07 448.38h1.4v1.4h-1.4zM56.44 433.38h1.4v1.4h-1.4zM52.51 443.51h1.4v1.4h-1.4zM56.76 440.84h1.4v1.4h-1.4zM52.74 442.89h1.4v1.4h-1.4zM57.03 441.18h1.4v1.4h-1.4zM56.47 440.09h1.4v1.4h-1.4zM53.29 449.08h1.4v1.4h-1.4zM54.59 431.52h1.4v1.4h-1.4zM53.95 416.12h1.4v1.4h-1.4zM53.35 423.21h1.4v1.4h-1.4zM66.12 446.29h1.4v1.4h-1.4zM70.89 459.79h1.4v1.4h-1.4zM68.41 461.99h1.4v1.4h-1.4zM68.7 452.27h1.4v1.4h-1.4zM65.48 461.25h1.4v1.4h-1.4zM71 454.42h1.4v1.4h-1.4zM66.73 458.81h1.4v1.4h-1.4zM67.14 459.19h1.4v1.4h-1.4zM70.88 455.16h1.4v1.4h-1.4zM68.67 461.91h1.4v1.4h-1.4zM68.42 448.83h1.4v1.4h-1.4zM67 456.82h1.4v1.4h-1.4zM68.47 461.82h1.4v1.4h-1.4zM71.12 447.92h1.4v1.4h-1.4zM69.51 457.25h1.4v1.4h-1.4zM65.84 452.73h1.4v1.4h-1.4zM67.5 462.09h1.4v1.4h-1.4zM68.67 444.46h1.4v1.4h-1.4zM80.84 444.01h1.4v1.4h-1.4zM81.71 443.98h1.4v1.4h-1.4zM84.48 447.49h1.4v1.4h-1.4zM84.93 445.66h1.4v1.4h-1.4zM85.89 441.84h1.4v1.4h-1.4zM83 443.9h1.4v1.4h-1.4zM81.48 447.97h1.4v1.4h-1.4zM83.04 444.48h1.4v1.4h-1.4zM83.3 443.89h1.4v1.4h-1.4zM82.44 447.92h1.4v1.4h-1.4zM82.37 450.36h1.4v1.4h-1.4zM83.49 442.21h1.4v1.4h-1.4zM79.34 447.88h1.4v1.4h-1.4zM80.99 452.69h1.4v1.4h-1.4zM85.38 442.3h1.4v1.4h-1.4zM80.34 448.07h1.4v1.4h-1.4zM82.65 452.7h1.4v1.4h-1.4zM82.23 441.38h1.4v1.4h-1.4zM83.15 459.71h1.4v1.4h-1.4zM82.35 461.32h1.4v1.4h-1.4zM95.89 440.14h1.4v1.4h-1.4zM97.41 438.45h1.4v1.4h-1.4zM97.59 443.86h1.4v1.4h-1.4zM95.72 445.69h1.4v1.4h-1.4zM99.27 441.06h1.4v1.4h-1.4zM98.46 443.44h1.4v1.4h-1.4zM95.14 439.14h1.4v1.4h-1.4zM95.76 442.98h1.4v1.4h-1.4zM94.03 437.46h1.4v1.4h-1.4zM94.44 435.59h1.4v1.4h-1.4zM93.82 443.34h1.4v1.4h-1.4zM99.65 442.21h1.4v1.4h-1.4zM98.69 440.36h1.4v1.4h-1.4zM95.38 441.11h1.4v1.4h-1.4zM99.86 443.42h1.4v1.4h-1.4zM98.63 442.98h1.4v1.4h-1.4zM97.02 446.31h1.4v1.4h-1.4zM97.12 434.53h1.4v1.4h-1.4zM113.58 440.85h1.4v1.4h-1.4zM113.26 440.22h1.4v1.4h-1.4zM109.34 437.14h1.4v1.4h-1.4zM111.55 439.08h1.4v1.4h-1.4zM111.86 436.83h1.4v1.4h-1.4zM111.86 443.15h1.4v1.4h-1.4zM111.81 439.71h1.4v1.4h-1.4zM114.26 435.56h1.4v1.4h-1.4zM112.67 434.99h1.4v1.4h-1.4zM108.63 440.92h1.4v1.4h-1.4zM112.8 441.05h1.4v1.4h-1.4zM110.75 435.74h1.4v1.4h-1.4zM114.4 440.39h1.4v1.4h-1.4zM112.05 440.11h1.4v1.4h-1.4zM111.42 437.6h1.4v1.4h-1.4zM110.06 441.32h1.4v1.4h-1.4zM111.73 443.23h1.4v1.4h-1.4zM111.11 434.99h1.4v1.4h-1.4zM111.85 425.98h1.4v1.4h-1.4zM124.67 449.56h1.4v1.4h-1.4zM127.51 458.28h1.4v1.4h-1.4zM124.84 457.03h1.4v1.4h-1.4zM123.97 445h1.4v1.4h-1.4zM124.23 453.97h1.4v1.4h-1.4zM124.31 448.69h1.4v1.4h-1.4zM123.97 451.05h1.4v1.4h-1.4zM126.39 445.09h1.4v1.4h-1.4zM128.5 450.48h1.4v1.4h-1.4zM125.58 450.06h1.4v1.4h-1.4zM128.33 454.81h1.4v1.4h-1.4zM125.41 448.56h1.4v1.4h-1.4zM125.89 463.56h1.4v1.4h-1.4zM122.8 447.55h1.4v1.4h-1.4zM126.6 450.55h1.4v1.4h-1.4zM127.32 449.9h1.4v1.4h-1.4zM126.47 465.63h1.4v1.4h-1.4zM125.45 443.23h1.4v1.4h-1.4zM139.69 420.77h1.4v1.4h-1.4zM137.14 412.8h1.4v1.4h-1.4zM137.58 432.33h1.4v1.4h-1.4zM142.88 420.91h1.4v1.4h-1.4zM139.7 424.97h1.4v1.4h-1.4zM143.16 416.73h1.4v1.4h-1.4zM137.06 414.24h1.4v1.4h-1.4zM143.23 408.85h1.4v1.4h-1.4zM140.44 432.22h1.4v1.4h-1.4zM137.5 419.03h1.4v1.4h-1.4zM137.08 419.41h1.4v1.4h-1.4zM137.46 413.42h1.4v1.4h-1.4zM138.48 428.61h1.4v1.4h-1.4zM140.02 428.74h1.4v1.4h-1.4zM137.93 413.58h1.4v1.4h-1.4zM137.47 420.95h1.4v1.4h-1.4zM141.14 432.6h1.4v1.4h-1.4zM140.43 405.5h1.4v1.4h-1.4zM154.86 442.61h1.4v1.4h-1.4zM154.9 450.09h1.4v1.4h-1.4zM153.93 452.21h1.4v1.4h-1.4zM158.27 445.99h1.4v1.4h-1.4zM152.34 451.92h1.4v1.4h-1.4zM156.14 451.22h1.4v1.4h-1.4zM157 457.39h1.4v1.4h-1.4zM152.37 450.97h1.4v1.4h-1.4zM156.27 456.8h1.4v1.4h-1.4zM153.04 448.92h1.4v1.4h-1.4zM152.66 449.08h1.4v1.4h-1.4zM152.61 447.93h1.4v1.4h-1.4zM152.47 452.55h1.4v1.4h-1.4zM155.88 450.62h1.4v1.4h-1.4zM153.79 455.23h1.4v1.4h-1.4zM157.2 449.08h1.4v1.4h-1.4zM155.27 458.55h1.4v1.4h-1.4zM154.91 442.07h1.4v1.4h-1.4zM167.86 467.5h1.4v1.4h-1.4zM167.36 467.41h1.4v1.4h-1.4zM166.54 475.8h1.4v1.4h-1.4zM168.69 467.89h1.4v1.4h-1.4zM171.49 475.02h1.4v1.4h-1.4zM166.78 470.65h1.4v1.4h-1.4zM170.41 464.04h1.4v1.4h-1.4zM172.7 468.22h1.4v1.4h-1.4zM171.86 470.46h1.4v1.4h-1.4zM167.49 472.78h1.4v1.4h-1.4zM168.88 466.29h1.4v1.4h-1.4zM168.82 465.28h1.4v1.4h-1.4zM166.42 471.72h1.4v1.4h-1.4zM172.66 476.86h1.4v1.4h-1.4zM171.29 472.24h1.4v1.4h-1.4zM168.12 471.55h1.4v1.4h-1.4zM168.71 476.88h1.4v1.4h-1.4zM168.47 460.94h1.4v1.4h-1.4z" fill="#000"/>
<path d="M32.6 370V485.5H178M32.6 485.2h-2M32.6 469.8h-2M32.6 454.4h-2M32.6 439h-2M32.6 423.6h-2M32.6 408.2h-2M32.6 392.8h-2M32.6 377.4h-2M32.6 477.5h-1.1M32.6 462.1h-1.1M32.6 446.7h-1.1M32.6 431.3h-1.1M32.6 415.9h-1.1M32.6 400.5h-1.1M32.6 385.1h-1.1M40 485.5v2M54.45 485.5v2M68.9 485.5v2M83.35 485.5v2M97.8 485.5v2M112.25 485.5v2M126.7 485.5v2M141.15 485.5v2M155.6 485.5v2M170.05 485.5v2" stroke="#4a4a4a" stroke-width="0.7" fill="none"/>
<text x="29.4" y="487.4" font-size="6.1" text-anchor="end" fill="#111">2000</text>
<text x="29.4" y="472" font-size="6.1" text-anchor="end" fill="#111">4000</text>
<text x="29.4" y="456.6" font-size="6.1" text-anchor="end" fill="#111">6000</text>
<text x="29.4" y="441.2" font-size="6.1" text-anchor="end" fill="#111">8000</text>
<text x="29.4" y="425.8" font-size="6.1" text-anchor="end" fill="#111">10,000</text>
<text x="29.4" y="410.4" font-size="6.1" text-anchor="end" fill="#111">12,000</text>
<text x="29.4" y="395" font-size="6.1" text-anchor="end" fill="#111">14,000</text>
<text x="29.4" y="379.6" font-size="6.1" text-anchor="end" fill="#111">16,000</text>
<text x="51.2" y="494.5" font-size="6.55" text-anchor="end" fill="#111" transform="rotate(-27 51.2 494.5)">National</text>
<text x="65.65" y="494.5" font-size="6.55" text-anchor="end" fill="#111" transform="rotate(-27 65.65 494.5)">Gansu</text>
<text x="80.1" y="494.5" font-size="6.55" text-anchor="end" fill="#111" transform="rotate(-27 80.1 494.5)">Guangxi</text>
<text x="94.55" y="494.5" font-size="6.55" text-anchor="end" fill="#111" transform="rotate(-27 94.55 494.5)">Guizhou</text>
<text x="109" y="494.5" font-size="6.55" text-anchor="end" fill="#111" transform="rotate(-27 109 494.5)">Hubei</text>
<text x="123.45" y="494.5" font-size="6.55" text-anchor="end" fill="#111" transform="rotate(-27 123.45 494.5)">Shaanxi</text>
<text x="137.9" y="494.5" font-size="6.55" text-anchor="end" fill="#111" transform="rotate(-27 137.9 494.5)">Sichuan</text>
<text x="152.35" y="494.5" font-size="6.55" text-anchor="end" fill="#111" transform="rotate(-27 152.35 494.5)">Xinjiang</text>
<text x="166.8" y="494.5" font-size="6.55" text-anchor="end" fill="#111" transform="rotate(-27 166.8 494.5)">Xizang</text>
<text x="181.25" y="494.5" font-size="6.55" text-anchor="end" fill="#111" transform="rotate(-27 181.25 494.5)">Yunnan</text>
<text x="10.7" y="427.6" font-size="6.5" text-anchor="middle" fill="#111" transform="rotate(-90 10.7 427.6)">Temperature seasonality</text>
<text x="8.6" y="367.4" font-size="9.2" text-anchor="start" fill="#000" font-weight="bold">J</text>
<path d="M223.7 382.8L223.76 385.06L223.85 387.32L223.97 389.58L224.12 391.85L224.31 394.11L224.54 396.37L224.82 398.63L225.14 400.89L225.52 403.15L225.93 405.42L226.38 407.68L226.85 409.94L227.32 412.2L227.78 414.46L228.2 416.72L228.57 418.98L228.87 421.25L229.08 423.51L229.19 425.77L229.19 428.03L229.08 430.29L228.87 432.55L228.57 434.82L228.2 437.08L227.78 439.34L227.32 441.6L226.85 443.86L226.38 446.12L225.93 448.38L225.52 450.65L225.14 452.91L224.82 455.17L224.54 457.43L224.31 459.69L224.12 461.95L223.97 464.22L223.85 466.48L223.76 468.74L223.7 471" fill="none" stroke="#3a3a3a" stroke-width="0.55"/>
<path d="M223.7 383.43V408M223.7 436.98V469.95M221.9 383.43h3.6M221.9 469.95h3.6" stroke="#222" stroke-width="0.5" fill="none"/>
<rect x="218.95" y="408" width="9.5" height="28.98" fill="#f6821f" stroke="#5a3a10" stroke-width="0.4"/>
<path d="M218.95 420.6h9.5" stroke="#4a2a08" stroke-width="0.5"/>
<path d="M238.07 398.97L238.13 400.64L238.22 402.31L238.34 403.98L238.49 405.65L238.68 407.32L238.91 408.99L239.19 410.65L239.51 412.32L239.89 413.99L240.3 415.66L240.75 417.33L241.22 419L241.69 420.67L242.15 422.34L242.57 424.01L242.94 425.68L243.24 427.35L243.45 429.02L243.56 430.69L243.56 432.35L243.45 434.02L243.24 435.69L242.94 437.36L242.57 439.03L242.15 440.7L241.69 442.37L241.22 444.04L240.75 445.71L240.3 447.38L239.89 449.05L239.51 450.72L239.19 452.39L238.91 454.05L238.68 455.72L238.49 457.39L238.34 459.06L238.22 460.73L238.13 462.4L238.07 464.07" fill="none" stroke="#3a3a3a" stroke-width="0.55"/>
<path d="M238.07 412.62V419.97M238.07 440.55V443.07M236.27 412.62h3.6M236.27 443.07h3.6" stroke="#222" stroke-width="0.5" fill="none"/>
<rect x="233.32" y="419.97" width="9.5" height="20.58" fill="#f6821f" stroke="#5a3a10" stroke-width="0.4"/>
<path d="M233.32 435.51h9.5" stroke="#4a2a08" stroke-width="0.5"/>
<path d="M252.44 383.01L252.5 383.98L252.59 384.96L252.71 385.93L252.86 386.91L253.05 387.88L253.28 388.86L253.56 389.83L253.88 390.81L254.26 391.78L254.67 392.76L255.12 393.73L255.59 394.71L256.06 395.68L256.52 396.65L256.94 397.63L257.31 398.6L257.61 399.58L257.82 400.55L257.93 401.53L257.93 402.5L257.82 403.48L257.61 404.45L257.31 405.43L256.94 406.4L256.52 407.38L256.06 408.35L255.59 409.32L255.12 410.3L254.67 411.27L254.26 412.25L253.88 413.22L253.56 414.2L253.28 415.17L253.05 416.15L252.86 417.12L252.71 418.1L252.59 419.07L252.5 420.05L252.44 421.02" fill="none" stroke="#3a3a3a" stroke-width="0.55"/>
<path d="M252.44 387V388.05M252.44 401.49V410.52M250.64 387h3.6M250.64 410.52h3.6" stroke="#222" stroke-width="0.5" fill="none"/>
<rect x="247.69" y="388.05" width="9.5" height="13.44" fill="#f6821f" stroke="#5a3a10" stroke-width="0.4"/>
<path d="M247.69 394.98h9.5" stroke="#4a2a08" stroke-width="0.5"/>
<path d="M266.81 398.55L266.87 399.23L266.96 399.91L267.08 400.59L267.23 401.26L267.42 401.94L267.65 402.62L267.93 403.3L268.25 403.98L268.63 404.66L269.04 405.33L269.49 406.01L269.96 406.69L270.43 407.37L270.89 408.05L271.31 408.73L271.68 409.41L271.98 410.08L272.19 410.76L272.3 411.44L272.3 412.12L272.19 412.8L271.98 413.48L271.68 414.15L271.31 414.83L270.89 415.51L270.43 416.19L269.96 416.87L269.49 417.55L269.04 418.23L268.63 418.9L268.25 419.58L267.93 420.26L267.65 420.94L267.42 421.62L267.23 422.3L267.08 422.97L266.96 423.65L266.87 424.33L266.81 425.01" fill="none" stroke="#3a3a3a" stroke-width="0.55"/>
<path d="M266.81 404.01V409.47M266.81 416.61V417.45M265.01 404.01h3.6M265.01 417.45h3.6" stroke="#222" stroke-width="0.5" fill="none"/>
<rect x="262.06" y="409.47" width="9.5" height="7.14" fill="#f6821f" stroke="#5a3a10" stroke-width="0.4"/>
<path d="M262.06 413.46h9.5" stroke="#4a2a08" stroke-width="0.5"/>
<path d="M281.18 396.03L281.24 397.12L281.33 398.22L281.45 399.31L281.6 400.4L281.79 401.5L282.02 402.59L282.3 403.68L282.62 404.77L283 405.87L283.41 406.96L283.86 408.05L284.33 409.15L284.8 410.24L285.26 411.33L285.68 412.43L286.05 413.52L286.35 414.61L286.56 415.71L286.67 416.8L286.67 417.89L286.56 418.98L286.35 420.08L286.05 421.17L285.68 422.26L285.26 423.36L284.8 424.45L284.33 425.54L283.86 426.64L283.41 427.73L283 428.82L282.62 429.92L282.3 431.01L282.02 432.1L281.79 433.19L281.6 434.29L281.45 435.38L281.33 436.47L281.24 437.57L281.18 438.66" fill="none" stroke="#3a3a3a" stroke-width="0.55"/>
<path d="M281.18 404.01V414.3M281.18 422.7V430.68M279.38 404.01h3.6M279.38 430.68h3.6" stroke="#222" stroke-width="0.5" fill="none"/>
<rect x="276.43" y="414.3" width="9.5" height="8.4" fill="#f6821f" stroke="#5a3a10" stroke-width="0.4"/>
<path d="M276.43 419.97h9.5" stroke="#4a2a08" stroke-width="0.5"/>
<path d="M295.55 406.95L295.61 407.78L295.7 408.61L295.82 409.44L295.97 410.27L296.16 411.1L296.39 411.93L296.67 412.75L296.99 413.58L297.37 414.41L297.78 415.24L298.23 416.07L298.7 416.9L299.17 417.73L299.63 418.56L300.05 419.39L300.42 420.22L300.72 421.05L300.93 421.88L301.04 422.71L301.04 423.53L300.93 424.36L300.72 425.19L300.42 426.02L300.05 426.85L299.63 427.68L299.17 428.51L298.7 429.34L298.23 430.17L297.78 431L297.37 431.83L296.99 432.66L296.67 433.49L296.39 434.31L296.16 435.14L295.97 435.97L295.82 436.8L295.7 437.63L295.61 438.46L295.55 439.29" fill="none" stroke="#3a3a3a" stroke-width="0.55"/>
<path d="M295.55 414.51V419.76M295.55 428.58V432.15M293.75 414.51h3.6M293.75 432.15h3.6" stroke="#222" stroke-width="0.5" fill="none"/>
<rect x="290.8" y="419.76" width="9.5" height="8.82" fill="#f6821f" stroke="#5a3a10" stroke-width="0.4"/>
<path d="M290.8 422.07h9.5" stroke="#4a2a08" stroke-width="0.5"/>
<path d="M309.92 383.43L309.98 385.68L310.07 387.92L310.19 390.17L310.34 392.41L310.53 394.66L310.76 396.9L311.04 399.15L311.36 401.39L311.74 403.64L312.15 405.88L312.6 408.13L313.07 410.37L313.54 412.62L314 414.87L314.42 417.11L314.79 419.36L315.09 421.6L315.3 423.85L315.41 426.09L315.41 428.34L315.3 430.58L315.09 432.83L314.79 435.07L314.42 437.32L314 439.56L313.54 441.81L313.07 444.06L312.6 446.3L312.15 448.55L311.74 450.79L311.36 453.04L311.04 455.28L310.76 457.53L310.53 459.77L310.34 462.02L310.19 464.26L310.07 466.51L309.98 468.75L309.92 471" fill="none" stroke="#3a3a3a" stroke-width="0.55"/>
<path d="M309.92 405.06V407.37M309.92 438.45V448.53M308.12 405.06h3.6M308.12 448.53h3.6" stroke="#222" stroke-width="0.5" fill="none"/>
<rect x="305.17" y="407.37" width="9.5" height="31.08" fill="#f6821f" stroke="#5a3a10" stroke-width="0.4"/>
<path d="M305.17 422.7h9.5" stroke="#4a2a08" stroke-width="0.5"/>
<path d="M324.29 400.23L324.33 401.93L324.38 403.62L324.44 405.32L324.51 407.01L324.6 408.71L324.7 410.41L324.82 412.1L324.96 413.8L325.12 415.5L325.3 417.19L325.5 418.89L325.72 420.58L325.97 422.28L326.23 423.98L326.51 425.67L326.8 427.37L327.11 429.06L327.42 430.76L327.73 432.46L328.05 434.15L328.35 435.85L328.64 437.55L328.91 439.24L329.15 440.94L329.36 442.63L329.53 444.33L329.66 446.03L329.75 447.72L329.79 449.42L329.78 451.11L329.72 452.81L329.62 454.51L329.48 456.2L329.29 457.9L329.07 459.6L328.82 461.29L328.55 462.99L328.25 464.68L327.95 466.38" fill="none" stroke="#3a3a3a" stroke-width="0.55"/>
<path d="M324.29 445.8V451.47M324.29 464.49V468.69M322.49 445.8h3.6M322.49 468.69h3.6" stroke="#222" stroke-width="0.5" fill="none"/>
<rect x="319.54" y="451.47" width="9.5" height="13.02" fill="#f6821f" stroke="#5a3a10" stroke-width="0.4"/>
<path d="M319.54 457.98h9.5" stroke="#4a2a08" stroke-width="0.5"/>
<path d="M338.66 415.77L338.72 416.83L338.81 417.88L338.93 418.94L339.08 419.99L339.27 421.05L339.5 422.1L339.78 423.16L340.1 424.21L340.48 425.27L340.89 426.32L341.34 427.38L341.81 428.43L342.28 429.49L342.74 430.55L343.16 431.6L343.53 432.66L343.83 433.71L344.04 434.77L344.15 435.82L344.15 436.88L344.04 437.93L343.83 438.99L343.53 440.04L343.16 441.1L342.74 442.15L342.28 443.21L341.81 444.27L341.34 445.32L340.89 446.38L340.48 447.43L340.1 448.49L339.78 449.54L339.5 450.6L339.27 451.65L339.08 452.71L338.93 453.76L338.81 454.82L338.72 455.87L338.66 456.93" fill="none" stroke="#3a3a3a" stroke-width="0.55"/>
<path d="M338.66 426.69V432.57M338.66 439.92V447.48M336.86 426.69h3.6M336.86 447.48h3.6" stroke="#222" stroke-width="0.5" fill="none"/>
<rect x="333.91" y="432.57" width="9.5" height="7.35" fill="#f6821f" stroke="#5a3a10" stroke-width="0.4"/>
<path d="M333.91 435.72h9.5" stroke="#4a2a08" stroke-width="0.5"/>
<path d="M353.03 382.8L353.09 383.98L353.18 385.17L353.3 386.35L353.45 387.54L353.64 388.72L353.87 389.91L354.15 391.09L354.47 392.28L354.85 393.46L355.26 394.65L355.71 395.83L356.18 397.02L356.65 398.2L357.11 399.38L357.53 400.57L357.9 401.75L358.2 402.94L358.41 404.12L358.52 405.31L358.52 406.49L358.41 407.68L358.2 408.86L357.9 410.05L357.53 411.23L357.11 412.42L356.65 413.6L356.18 414.78L355.71 415.97L355.26 417.15L354.85 418.34L354.47 419.52L354.15 420.71L353.87 421.89L353.64 423.08L353.45 424.26L353.3 425.45L353.18 426.63L353.09 427.82L353.03 429" fill="none" stroke="#3a3a3a" stroke-width="0.55"/>
<path d="M353.03 384.9V392.04M353.03 405.48V419.76M351.23 384.9h3.6M351.23 419.76h3.6" stroke="#222" stroke-width="0.5" fill="none"/>
<rect x="348.28" y="392.04" width="9.5" height="13.44" fill="#f6821f" stroke="#5a3a10" stroke-width="0.4"/>
<path d="M348.28 400.23h9.5" stroke="#4a2a08" stroke-width="0.5"/>
<path d="M223.51 384.18h1.4v1.4h-1.4zM222.78 394.81h1.4v1.4h-1.4zM224.66 385.65h1.4v1.4h-1.4zM221.13 396.84h1.4v1.4h-1.4zM223.11 392.29h1.4v1.4h-1.4zM222.67 397.67h1.4v1.4h-1.4zM222.36 393.17h1.4v1.4h-1.4zM222.93 396.43h1.4v1.4h-1.4zM223.58 393.68h1.4v1.4h-1.4zM222.39 385.6h1.4v1.4h-1.4zM221.55 385.23h1.4v1.4h-1.4zM222.34 394.44h1.4v1.4h-1.4zM221.48 394.77h1.4v1.4h-1.4zM220.72 386.22h1.4v1.4h-1.4zM222.29 395.8h1.4v1.4h-1.4zM223.19 386.47h1.4v1.4h-1.4zM224.05 392.7h1.4v1.4h-1.4zM223.65 385.83h1.4v1.4h-1.4zM222.86 386.4h1.4v1.4h-1.4zM223.37 398.34h1.4v1.4h-1.4zM223.45 387.84h1.4v1.4h-1.4zM224.07 390.29h1.4v1.4h-1.4zM221.25 396.78h1.4v1.4h-1.4zM222.77 393.25h1.4v1.4h-1.4zM222.45 394.88h1.4v1.4h-1.4zM221.78 391.68h1.4v1.4h-1.4zM222.43 394.56h1.4v1.4h-1.4zM223.91 383.65h1.4v1.4h-1.4zM222.73 391.14h1.4v1.4h-1.4zM224.9 393.47h1.4v1.4h-1.4zM223.29 397.61h1.4v1.4h-1.4zM223.67 396.87h1.4v1.4h-1.4zM223.23 397.63h1.4v1.4h-1.4zM222.92 385.92h1.4v1.4h-1.4zM223.35 387.72h1.4v1.4h-1.4zM223.41 397.02h1.4v1.4h-1.4zM221.66 391.37h1.4v1.4h-1.4zM221.89 394.24h1.4v1.4h-1.4zM223.47 388.44h1.4v1.4h-1.4zM223.29 392.06h1.4v1.4h-1.4zM221.07 393.27h1.4v1.4h-1.4zM221.81 383.82h1.4v1.4h-1.4zM221.17 389.67h1.4v1.4h-1.4zM224.69 388.53h1.4v1.4h-1.4zM222.87 390.11h1.4v1.4h-1.4zM222.87 406.62h1.4v1.4h-1.4zM222.93 401.49h1.4v1.4h-1.4zM225 404.73h1.4v1.4h-1.4zM223.49 406.16h1.4v1.4h-1.4zM223.52 404.57h1.4v1.4h-1.4zM223.62 405.08h1.4v1.4h-1.4zM221.39 400.09h1.4v1.4h-1.4zM221.2 400.41h1.4v1.4h-1.4zM223.4 405.72h1.4v1.4h-1.4zM221.52 406.88h1.4v1.4h-1.4zM221.21 402.95h1.4v1.4h-1.4zM223.47 405.67h1.4v1.4h-1.4zM224.32 402.18h1.4v1.4h-1.4zM223.94 402.77h1.4v1.4h-1.4zM224.86 400.19h1.4v1.4h-1.4zM221.83 405.34h1.4v1.4h-1.4zM224.29 407.02h1.4v1.4h-1.4zM224.23 399.17h1.4v1.4h-1.4zM220.51 400.79h1.4v1.4h-1.4zM220.83 407.25h1.4v1.4h-1.4zM221.72 403.45h1.4v1.4h-1.4zM223.81 399.06h1.4v1.4h-1.4zM222.87 402.52h1.4v1.4h-1.4zM222.97 403.79h1.4v1.4h-1.4zM223.37 401.31h1.4v1.4h-1.4zM222.31 404.91h1.4v1.4h-1.4zM223.44 404.65h1.4v1.4h-1.4zM220.64 406.62h1.4v1.4h-1.4zM221.76 405.13h1.4v1.4h-1.4zM223.61 406.74h1.4v1.4h-1.4zM221.89 401.87h1.4v1.4h-1.4zM220.84 399.1h1.4v1.4h-1.4zM223.88 405.09h1.4v1.4h-1.4zM220.05 404.47h1.4v1.4h-1.4zM222.93 405.3h1.4v1.4h-1.4zM224.74 401.48h1.4v1.4h-1.4zM219.8 399.88h1.4v1.4h-1.4zM223.74 402.84h1.4v1.4h-1.4zM223.63 401.62h1.4v1.4h-1.4zM225.99 400.25h1.4v1.4h-1.4zM222.62 427.18h1.4v1.4h-1.4zM227.5 409.33h1.4v1.4h-1.4zM225.82 418.42h1.4v1.4h-1.4zM220.52 424.79h1.4v1.4h-1.4zM222 427.81h1.4v1.4h-1.4zM223.65 433.31h1.4v1.4h-1.4zM224.32 425.23h1.4v1.4h-1.4zM225.64 420.83h1.4v1.4h-1.4zM221.95 426.06h1.4v1.4h-1.4zM220.82 416.05h1.4v1.4h-1.4zM222.96 422.06h1.4v1.4h-1.4zM218.5 409.35h1.4v1.4h-1.4zM220.91 434.34h1.4v1.4h-1.4zM221.93 423.32h1.4v1.4h-1.4zM220.2 414.17h1.4v1.4h-1.4zM227.5 411.64h1.4v1.4h-1.4zM224.7 415.61h1.4v1.4h-1.4zM222.79 419.47h1.4v1.4h-1.4zM224.77 424.74h1.4v1.4h-1.4zM222.95 417.73h1.4v1.4h-1.4zM221.41 415.78h1.4v1.4h-1.4zM224.29 414.77h1.4v1.4h-1.4zM219.93 419.84h1.4v1.4h-1.4zM221.11 413.64h1.4v1.4h-1.4zM225.35 435.72h1.4v1.4h-1.4zM223.34 417.89h1.4v1.4h-1.4zM224.98 410.98h1.4v1.4h-1.4zM223.76 414.72h1.4v1.4h-1.4zM219.8 418.04h1.4v1.4h-1.4zM221.9 411.3h1.4v1.4h-1.4zM225.58 422.32h1.4v1.4h-1.4zM222.67 426.3h1.4v1.4h-1.4zM225 408.33h1.4v1.4h-1.4zM223.11 427.16h1.4v1.4h-1.4zM220.07 408.79h1.4v1.4h-1.4zM225.23 411.69h1.4v1.4h-1.4zM222.19 410.58h1.4v1.4h-1.4zM218.52 409.53h1.4v1.4h-1.4zM226.86 429.29h1.4v1.4h-1.4zM222.59 433.67h1.4v1.4h-1.4zM221.55 415.75h1.4v1.4h-1.4zM218.5 411.45h1.4v1.4h-1.4zM221.93 432.92h1.4v1.4h-1.4zM223.68 435.54h1.4v1.4h-1.4zM218.5 429.41h1.4v1.4h-1.4zM221.96 423.47h1.4v1.4h-1.4zM218.5 416.92h1.4v1.4h-1.4zM225.3 413.5h1.4v1.4h-1.4zM223.09 428.28h1.4v1.4h-1.4zM225.24 418.07h1.4v1.4h-1.4zM227.12 413.74h1.4v1.4h-1.4zM221.36 427.44h1.4v1.4h-1.4zM218.5 414.8h1.4v1.4h-1.4zM225.35 428.26h1.4v1.4h-1.4zM220.84 435.61h1.4v1.4h-1.4zM218.5 428.35h1.4v1.4h-1.4zM224.16 434.81h1.4v1.4h-1.4zM220.95 426.14h1.4v1.4h-1.4zM227.49 430.29h1.4v1.4h-1.4zM224.7 411.7h1.4v1.4h-1.4zM218.5 424.54h1.4v1.4h-1.4zM222.97 428.48h1.4v1.4h-1.4zM221.43 424.48h1.4v1.4h-1.4zM224.88 414.93h1.4v1.4h-1.4zM222.33 411.37h1.4v1.4h-1.4zM226.03 427.68h1.4v1.4h-1.4zM224.56 421.18h1.4v1.4h-1.4zM227.5 428.92h1.4v1.4h-1.4zM224.15 422.84h1.4v1.4h-1.4zM221.44 430.64h1.4v1.4h-1.4zM222.8 408.89h1.4v1.4h-1.4zM221.02 415.73h1.4v1.4h-1.4zM220.24 424.54h1.4v1.4h-1.4zM223.46 430.93h1.4v1.4h-1.4zM224.29 423.84h1.4v1.4h-1.4zM222.15 407.67h1.4v1.4h-1.4zM223.08 428.62h1.4v1.4h-1.4zM220.5 419.85h1.4v1.4h-1.4zM221.31 423.9h1.4v1.4h-1.4zM221.75 412.8h1.4v1.4h-1.4zM218.5 407.55h1.4v1.4h-1.4zM218.5 426.68h1.4v1.4h-1.4zM221.47 409.83h1.4v1.4h-1.4zM220.14 434.32h1.4v1.4h-1.4zM221.85 424.96h1.4v1.4h-1.4zM218.5 426.55h1.4v1.4h-1.4zM223.85 429.96h1.4v1.4h-1.4zM225.94 428.52h1.4v1.4h-1.4zM222.46 423.88h1.4v1.4h-1.4zM223.93 421.15h1.4v1.4h-1.4zM222.99 434.31h1.4v1.4h-1.4zM224.65 408.14h1.4v1.4h-1.4zM222.89 425.94h1.4v1.4h-1.4zM219.07 417.57h1.4v1.4h-1.4zM227.12 424.61h1.4v1.4h-1.4zM218.91 426.15h1.4v1.4h-1.4zM224.23 433.68h1.4v1.4h-1.4zM224.8 426.89h1.4v1.4h-1.4zM219.56 432.19h1.4v1.4h-1.4zM221.69 430.28h1.4v1.4h-1.4zM221.97 412.02h1.4v1.4h-1.4zM223.03 432.36h1.4v1.4h-1.4zM224.73 429.22h1.4v1.4h-1.4zM219.58 408.95h1.4v1.4h-1.4zM222.27 412.18h1.4v1.4h-1.4zM224.99 419.89h1.4v1.4h-1.4zM225.22 426.45h1.4v1.4h-1.4zM225.4 409.97h1.4v1.4h-1.4zM224.79 415.29h1.4v1.4h-1.4zM222.2 427.61h1.4v1.4h-1.4zM220.24 417.5h1.4v1.4h-1.4zM225.57 414.65h1.4v1.4h-1.4zM222.44 424.84h1.4v1.4h-1.4zM224.63 436.16h1.4v1.4h-1.4zM220.37 409.23h1.4v1.4h-1.4zM218.77 418.43h1.4v1.4h-1.4zM223.77 411.28h1.4v1.4h-1.4zM226.71 419.11h1.4v1.4h-1.4zM221.47 415.81h1.4v1.4h-1.4zM219.61 409.02h1.4v1.4h-1.4zM223.98 413.36h1.4v1.4h-1.4zM223.76 431.87h1.4v1.4h-1.4zM221.49 417.61h1.4v1.4h-1.4zM219.23 428.92h1.4v1.4h-1.4zM226.55 429.47h1.4v1.4h-1.4zM221.74 417.5h1.4v1.4h-1.4zM226.31 415.83h1.4v1.4h-1.4zM219.17 426.54h1.4v1.4h-1.4zM223.47 408.06h1.4v1.4h-1.4zM220.8 424.32h1.4v1.4h-1.4zM222.14 408.04h1.4v1.4h-1.4zM223.96 410.42h1.4v1.4h-1.4zM222.05 426.66h1.4v1.4h-1.4zM224.58 425.57h1.4v1.4h-1.4zM223.43 423.95h1.4v1.4h-1.4zM221.01 423.02h1.4v1.4h-1.4zM219.59 419.58h1.4v1.4h-1.4zM220.45 408.26h1.4v1.4h-1.4zM224.87 409.96h1.4v1.4h-1.4zM220.11 411.67h1.4v1.4h-1.4zM218.5 418.24h1.4v1.4h-1.4zM224.7 423.73h1.4v1.4h-1.4zM225.31 413.83h1.4v1.4h-1.4zM219.75 423.51h1.4v1.4h-1.4zM224.3 433.61h1.4v1.4h-1.4zM221.14 433.17h1.4v1.4h-1.4zM220 425.99h1.4v1.4h-1.4zM224.02 433.98h1.4v1.4h-1.4zM220.2 412.04h1.4v1.4h-1.4zM224.25 429.89h1.4v1.4h-1.4zM222.68 443.03h1.4v1.4h-1.4zM221.06 442.68h1.4v1.4h-1.4zM224.27 440.87h1.4v1.4h-1.4zM221.78 442.49h1.4v1.4h-1.4zM222.35 442.43h1.4v1.4h-1.4zM223.71 439.52h1.4v1.4h-1.4zM224.59 439.18h1.4v1.4h-1.4zM222.08 442.74h1.4v1.4h-1.4zM222.85 438.72h1.4v1.4h-1.4zM221.48 440.13h1.4v1.4h-1.4zM220.57 436.91h1.4v1.4h-1.4zM223.36 437.06h1.4v1.4h-1.4zM223.74 438.97h1.4v1.4h-1.4zM224.74 443.74h1.4v1.4h-1.4zM222.6 442.69h1.4v1.4h-1.4zM225.7 441.3h1.4v1.4h-1.4zM221.56 442.6h1.4v1.4h-1.4zM221.89 445.08h1.4v1.4h-1.4zM223.26 442.09h1.4v1.4h-1.4zM220.3 442.46h1.4v1.4h-1.4zM223.59 443.25h1.4v1.4h-1.4zM222.72 439.17h1.4v1.4h-1.4zM223.02 438.73h1.4v1.4h-1.4zM220.68 442.09h1.4v1.4h-1.4zM222.39 443.09h1.4v1.4h-1.4zM223.56 441.09h1.4v1.4h-1.4zM223.79 443.17h1.4v1.4h-1.4zM223.03 438.89h1.4v1.4h-1.4zM223.95 438h1.4v1.4h-1.4zM225.7 438.65h1.4v1.4h-1.4zM222.77 453.19h1.4v1.4h-1.4zM221.72 453.27h1.4v1.4h-1.4zM224.8 460.71h1.4v1.4h-1.4zM222.09 446.56h1.4v1.4h-1.4zM224.14 465.17h1.4v1.4h-1.4zM223.35 468.84h1.4v1.4h-1.4zM222.11 465.17h1.4v1.4h-1.4zM223.7 466.06h1.4v1.4h-1.4zM224.8 450.7h1.4v1.4h-1.4zM221.2 459.4h1.4v1.4h-1.4zM223.25 447.55h1.4v1.4h-1.4zM223.04 467.8h1.4v1.4h-1.4zM224.45 450.45h1.4v1.4h-1.4zM223.68 453.15h1.4v1.4h-1.4zM221.79 445.62h1.4v1.4h-1.4zM221.2 455.44h1.4v1.4h-1.4zM223.4 465.39h1.4v1.4h-1.4zM223.72 453.78h1.4v1.4h-1.4zM222.53 448.51h1.4v1.4h-1.4zM222.76 462.3h1.4v1.4h-1.4zM221.9 464.51h1.4v1.4h-1.4zM223.62 446.39h1.4v1.4h-1.4zM222.98 458.7h1.4v1.4h-1.4zM223.66 448.9h1.4v1.4h-1.4zM222.64 450.7h1.4v1.4h-1.4zM222.14 459.83h1.4v1.4h-1.4zM222.32 447.08h1.4v1.4h-1.4zM224.77 459.11h1.4v1.4h-1.4zM224.17 469.17h1.4v1.4h-1.4zM223.94 449.71h1.4v1.4h-1.4zM224.19 457.74h1.4v1.4h-1.4zM222.76 462.85h1.4v1.4h-1.4zM222.94 457.47h1.4v1.4h-1.4zM221.61 454.1h1.4v1.4h-1.4zM223.62 467.49h1.4v1.4h-1.4zM224.12 466.85h1.4v1.4h-1.4zM222.58 445.67h1.4v1.4h-1.4zM224.73 464.79h1.4v1.4h-1.4zM222.02 454.45h1.4v1.4h-1.4zM222.83 450.32h1.4v1.4h-1.4zM237.3 417.62h1.4v1.4h-1.4zM237.66 414.7h1.4v1.4h-1.4zM234.26 418.28h1.4v1.4h-1.4zM236.92 427.08h1.4v1.4h-1.4zM234.73 439.92h1.4v1.4h-1.4zM237.69 431.22h1.4v1.4h-1.4zM236.04 440.86h1.4v1.4h-1.4zM237.75 416.85h1.4v1.4h-1.4zM237.22 428.24h1.4v1.4h-1.4zM237.86 415.1h1.4v1.4h-1.4zM239.08 418.29h1.4v1.4h-1.4zM236.69 414.21h1.4v1.4h-1.4zM239.59 420.87h1.4v1.4h-1.4zM239.99 441.21h1.4v1.4h-1.4zM240.09 440.98h1.4v1.4h-1.4zM234.88 442.11h1.4v1.4h-1.4zM237.18 442.37h1.4v1.4h-1.4zM237.44 411.92h1.4v1.4h-1.4zM254.3 386.76h1.4v1.4h-1.4zM250.65 408.89h1.4v1.4h-1.4zM248.45 403h1.4v1.4h-1.4zM251.76 387.22h1.4v1.4h-1.4zM253.94 409.14h1.4v1.4h-1.4zM254.18 387.64h1.4v1.4h-1.4zM254.19 392.14h1.4v1.4h-1.4zM250.07 391.32h1.4v1.4h-1.4zM250.33 396.33h1.4v1.4h-1.4zM251.23 407.7h1.4v1.4h-1.4zM254.94 391.5h1.4v1.4h-1.4zM249.23 386.45h1.4v1.4h-1.4zM254.26 387.17h1.4v1.4h-1.4zM254.12 387.21h1.4v1.4h-1.4zM248.89 394.26h1.4v1.4h-1.4zM254.22 405.18h1.4v1.4h-1.4zM250.89 409.82h1.4v1.4h-1.4zM252.1 386.3h1.4v1.4h-1.4zM266.96 412.08h1.4v1.4h-1.4zM263.84 415.97h1.4v1.4h-1.4zM262.78 416.65h1.4v1.4h-1.4zM267.95 413.88h1.4v1.4h-1.4zM268.09 406.65h1.4v1.4h-1.4zM267.15 416.21h1.4v1.4h-1.4zM269.48 416.5h1.4v1.4h-1.4zM268.31 415.59h1.4v1.4h-1.4zM266.2 413.51h1.4v1.4h-1.4zM265.12 412.88h1.4v1.4h-1.4zM265.78 411.6h1.4v1.4h-1.4zM265.5 410.28h1.4v1.4h-1.4zM265.49 409.63h1.4v1.4h-1.4zM264.44 413.85h1.4v1.4h-1.4zM263.86 413.55h1.4v1.4h-1.4zM263.79 411.1h1.4v1.4h-1.4zM265.15 416.75h1.4v1.4h-1.4zM265.47 403.31h1.4v1.4h-1.4zM281.14 420.61h1.4v1.4h-1.4zM280.28 423.35h1.4v1.4h-1.4zM281.4 423.67h1.4v1.4h-1.4zM282.17 426.96h1.4v1.4h-1.4zM282.11 415.8h1.4v1.4h-1.4zM277.33 415h1.4v1.4h-1.4zM282.68 417.04h1.4v1.4h-1.4zM279.43 416.36h1.4v1.4h-1.4zM281.44 419.21h1.4v1.4h-1.4zM277.37 414.87h1.4v1.4h-1.4zM277.52 419.23h1.4v1.4h-1.4zM283.23 422.27h1.4v1.4h-1.4zM279.38 415h1.4v1.4h-1.4zM277.66 416.2h1.4v1.4h-1.4zM279.49 414.18h1.4v1.4h-1.4zM277.71 426.58h1.4v1.4h-1.4zM280.43 429.98h1.4v1.4h-1.4zM279.82 403.31h1.4v1.4h-1.4zM294.18 427.71h1.4v1.4h-1.4zM297.99 424.92h1.4v1.4h-1.4zM293.11 428.93h1.4v1.4h-1.4zM295.04 415.4h1.4v1.4h-1.4zM294.3 426.05h1.4v1.4h-1.4zM294.62 420.08h1.4v1.4h-1.4zM295.67 414.35h1.4v1.4h-1.4zM297.72 425.06h1.4v1.4h-1.4zM295.65 425.92h1.4v1.4h-1.4zM296.42 428.52h1.4v1.4h-1.4zM291.87 417.1h1.4v1.4h-1.4zM296.88 418.68h1.4v1.4h-1.4zM298.24 427.66h1.4v1.4h-1.4zM291.87 422.75h1.4v1.4h-1.4zM296.13 431.39h1.4v1.4h-1.4zM291.5 430.39h1.4v1.4h-1.4zM293.92 431.45h1.4v1.4h-1.4zM293.97 413.81h1.4v1.4h-1.4zM311.92 405.45h1.4v1.4h-1.4zM307.19 405.3h1.4v1.4h-1.4zM312.3 407.34h1.4v1.4h-1.4zM310.72 413.04h1.4v1.4h-1.4zM310.91 431.54h1.4v1.4h-1.4zM308.25 437.91h1.4v1.4h-1.4zM306.3 427.83h1.4v1.4h-1.4zM311.58 444.73h1.4v1.4h-1.4zM309.15 407.92h1.4v1.4h-1.4zM311.03 441.79h1.4v1.4h-1.4zM308.25 435.03h1.4v1.4h-1.4zM310.65 438.66h1.4v1.4h-1.4zM312.13 406.56h1.4v1.4h-1.4zM311.55 405.25h1.4v1.4h-1.4zM310.46 418.48h1.4v1.4h-1.4zM310.77 406.45h1.4v1.4h-1.4zM310.03 447.83h1.4v1.4h-1.4zM309.48 404.36h1.4v1.4h-1.4zM320.88 451.83h1.4v1.4h-1.4zM324.19 452.66h1.4v1.4h-1.4zM324.59 453.33h1.4v1.4h-1.4zM325.7 460.77h1.4v1.4h-1.4zM323.74 467.68h1.4v1.4h-1.4zM320.62 448.92h1.4v1.4h-1.4zM325.16 451.62h1.4v1.4h-1.4zM324.73 452.79h1.4v1.4h-1.4zM321.39 460.29h1.4v1.4h-1.4zM322.13 459.1h1.4v1.4h-1.4zM323.54 464.79h1.4v1.4h-1.4zM326.66 465.16h1.4v1.4h-1.4zM324.91 465.33h1.4v1.4h-1.4zM326.13 446.48h1.4v1.4h-1.4zM321.87 459.06h1.4v1.4h-1.4zM323.2 464.19h1.4v1.4h-1.4zM323.39 467.99h1.4v1.4h-1.4zM322.86 445.1h1.4v1.4h-1.4zM324.09 419.9h1.4v1.4h-1.4zM323.09 426.2h1.4v1.4h-1.4zM323.79 431.45h1.4v1.4h-1.4zM341.11 441.7h1.4v1.4h-1.4zM339.65 428.85h1.4v1.4h-1.4zM336.91 440.39h1.4v1.4h-1.4zM338 432.28h1.4v1.4h-1.4zM340.22 442.81h1.4v1.4h-1.4zM335.18 439.21h1.4v1.4h-1.4zM341.08 436.52h1.4v1.4h-1.4zM340.23 445.76h1.4v1.4h-1.4zM337.07 433.04h1.4v1.4h-1.4zM337.74 431.84h1.4v1.4h-1.4zM336.6 437.37h1.4v1.4h-1.4zM338.13 435.57h1.4v1.4h-1.4zM341.1 427.01h1.4v1.4h-1.4zM338.5 430.36h1.4v1.4h-1.4zM336.82 437.49h1.4v1.4h-1.4zM335.01 435.26h1.4v1.4h-1.4zM338.05 446.78h1.4v1.4h-1.4zM337.78 425.99h1.4v1.4h-1.4zM355.53 401.07h1.4v1.4h-1.4zM352.86 390.88h1.4v1.4h-1.4zM351.67 390.38h1.4v1.4h-1.4zM354.52 397.49h1.4v1.4h-1.4zM349.88 402.91h1.4v1.4h-1.4zM352.51 390.84h1.4v1.4h-1.4zM353.49 408.11h1.4v1.4h-1.4zM350.59 398.98h1.4v1.4h-1.4zM349.85 402.74h1.4v1.4h-1.4zM349.59 406.48h1.4v1.4h-1.4zM351.23 418.12h1.4v1.4h-1.4zM352.11 405.63h1.4v1.4h-1.4zM354.7 388.61h1.4v1.4h-1.4zM349.91 402.01h1.4v1.4h-1.4zM355.07 387.36h1.4v1.4h-1.4zM355.35 393.97h1.4v1.4h-1.4zM352.82 419.06h1.4v1.4h-1.4zM351.56 384.2h1.4v1.4h-1.4z" fill="#000"/>
<path d="M216.4 368V483.7H360.5M216.4 483.6h-2M216.4 462.6h-2M216.4 441.6h-2M216.4 420.6h-2M216.4 399.6h-2M216.4 378.6h-2M216.4 473.1h-1.1M216.4 452.1h-1.1M216.4 431.1h-1.1M216.4 410.1h-1.1M216.4 389.1h-1.1M223.7 483.7v2M238.07 483.7v2M252.44 483.7v2M266.81 483.7v2M281.18 483.7v2M295.55 483.7v2M309.92 483.7v2M324.29 483.7v2M338.66 483.7v2M353.03 483.7v2" stroke="#4a4a4a" stroke-width="0.7" fill="none"/>
<text x="213.2" y="485.8" font-size="6.5" text-anchor="end" fill="#111">-300</text>
<text x="213.2" y="464.8" font-size="6.5" text-anchor="end" fill="#111">-200</text>
<text x="213.2" y="443.8" font-size="6.5" text-anchor="end" fill="#111">-100</text>
<text x="213.2" y="422.8" font-size="6.5" text-anchor="end" fill="#111">0</text>
<text x="213.2" y="401.8" font-size="6.5" text-anchor="end" fill="#111">100</text>
<text x="213.2" y="380.8" font-size="6.5" text-anchor="end" fill="#111">200</text>
<text x="234.9" y="492.7" font-size="6.55" text-anchor="end" fill="#111" transform="rotate(-27 234.9 492.7)">National</text>
<text x="249.27" y="492.7" font-size="6.55" text-anchor="end" fill="#111" transform="rotate(-27 249.27 492.7)">Gansu</text>
<text x="263.64" y="492.7" font-size="6.55" text-anchor="end" fill="#111" transform="rotate(-27 263.64 492.7)">Guangxi</text>
<text x="278.01" y="492.7" font-size="6.55" text-anchor="end" fill="#111" transform="rotate(-27 278.01 492.7)">Guizhou</text>
<text x="292.38" y="492.7" font-size="6.55" text-anchor="end" fill="#111" transform="rotate(-27 292.38 492.7)">Hubei</text>
<text x="306.75" y="492.7" font-size="6.55" text-anchor="end" fill="#111" transform="rotate(-27 306.75 492.7)">Shaanxi</text>
<text x="321.12" y="492.7" font-size="6.55" text-anchor="end" fill="#111" transform="rotate(-27 321.12 492.7)">Sichuan</text>
<text x="335.49" y="492.7" font-size="6.55" text-anchor="end" fill="#111" transform="rotate(-27 335.49 492.7)">Xinjiang</text>
<text x="349.86" y="492.7" font-size="6.55" text-anchor="end" fill="#111" transform="rotate(-27 349.86 492.7)">Xizang</text>
<text x="364.23" y="492.7" font-size="6.55" text-anchor="end" fill="#111" transform="rotate(-27 364.23 492.7)">Yunnan</text>
<text x="197.8" y="425.7" font-size="6.47" text-anchor="middle" fill="#111" transform="rotate(-90 197.8 425.7)">Minimum temperature of coldest month (°C*10)</text>
<text x="183.6" y="366.8" font-size="9.2" text-anchor="start" fill="#000">K</text>
<path d="M405.8 381L405.86 383.37L405.95 385.74L406.07 388.11L406.22 390.48L406.41 392.85L406.64 395.22L406.92 397.58L407.24 399.95L407.62 402.32L408.03 404.69L408.48 407.06L408.95 409.43L409.42 411.8L409.88 414.17L410.3 416.54L410.67 418.91L410.97 421.28L411.18 423.65L411.29 426.02L411.29 428.38L411.18 430.75L410.97 433.12L410.67 435.49L410.3 437.86L409.88 440.23L409.42 442.6L408.95 444.97L408.48 447.34L408.03 449.71L407.62 452.08L407.24 454.45L406.92 456.82L406.64 459.18L406.41 461.55L406.22 463.92L406.07 466.29L405.95 468.66L405.86 471.03L405.8 473.4" fill="none" stroke="#3a3a3a" stroke-width="0.55"/>
<path d="M405.8 382.01V413.34M405.8 451.01V472.22M404 382.01h3.6M404 472.22h3.6" stroke="#222" stroke-width="0.5" fill="none"/>
<rect x="401.05" y="413.34" width="9.5" height="37.67" fill="#f6821f" stroke="#5a3a10" stroke-width="0.4"/>
<path d="M401.05 435.6h9.5" stroke="#4a2a08" stroke-width="0.5"/>
<path d="M420.2 423.42L420.26 424.67L420.35 425.92L420.47 427.17L420.62 428.42L420.81 429.67L421.04 430.92L421.32 432.16L421.64 433.41L422.02 434.66L422.43 435.91L422.88 437.16L423.35 438.41L423.82 439.66L424.28 440.91L424.7 442.16L425.07 443.41L425.37 444.66L425.58 445.91L425.69 447.16L425.69 448.4L425.58 449.65L425.37 450.9L425.07 452.15L424.7 453.4L424.28 454.65L423.82 455.9L423.35 457.15L422.88 458.4L422.43 459.65L422.02 460.9L421.64 462.15L421.32 463.4L421.04 464.64L420.81 465.89L420.62 467.14L420.47 468.39L420.35 469.64L420.26 470.89L420.2 472.14" fill="none" stroke="#3a3a3a" stroke-width="0.55"/>
<path d="M420.2 442.74V444.63M420.2 451.01V458.07M418.4 442.74h3.6M418.4 458.07h3.6" stroke="#222" stroke-width="0.5" fill="none"/>
<rect x="415.45" y="444.63" width="9.5" height="6.38" fill="#f6821f" stroke="#5a3a10" stroke-width="0.4"/>
<path d="M415.45 446.31h9.5" stroke="#4a2a08" stroke-width="0.5"/>
<path d="M434.6 386.04L434.66 387.22L434.75 388.4L434.87 389.58L435.02 390.76L435.21 391.94L435.44 393.12L435.72 394.29L436.04 395.47L436.42 396.65L436.83 397.83L437.28 399.01L437.75 400.19L438.22 401.37L438.68 402.55L439.1 403.73L439.47 404.91L439.77 406.09L439.98 407.27L440.09 408.45L440.09 409.62L439.98 410.8L439.77 411.98L439.47 413.16L439.1 414.34L438.68 415.52L438.22 416.7L437.75 417.88L437.28 419.06L436.83 420.24L436.42 421.42L436.04 422.6L435.72 423.78L435.44 424.95L435.21 426.13L435.02 427.31L434.87 428.49L434.75 429.67L434.66 430.85L434.6 432.03" fill="none" stroke="#3a3a3a" stroke-width="0.55"/>
<path d="M434.6 395.03V405.36M434.6 414.6V420.98M432.8 395.03h3.6M432.8 420.98h3.6" stroke="#222" stroke-width="0.5" fill="none"/>
<rect x="429.85" y="405.36" width="9.5" height="9.24" fill="#f6821f" stroke="#5a3a10" stroke-width="0.4"/>
<path d="M429.85 411.03h9.5" stroke="#4a2a08" stroke-width="0.5"/>
<path d="M449 408.01L449.06 408.72L449.15 409.44L449.27 410.16L449.42 410.88L449.61 411.6L449.84 412.32L450.12 413.03L450.44 413.75L450.82 414.47L451.23 415.19L451.68 415.91L452.15 416.63L452.62 417.34L453.08 418.06L453.5 418.78L453.87 419.5L454.17 420.22L454.38 420.94L454.49 421.65L454.49 422.37L454.38 423.09L454.17 423.81L453.87 424.53L453.5 425.25L453.08 425.96L452.62 426.68L452.15 427.4L451.68 428.12L451.23 428.84L450.82 429.56L450.44 430.27L450.12 430.99L449.84 431.71L449.61 432.43L449.42 433.15L449.27 433.87L449.15 434.58L449.06 435.3L449 436.02" fill="none" stroke="#3a3a3a" stroke-width="0.55"/>
<path d="M449 416.03V416.41M449 425.02V431.61M447.2 416.03h3.6M447.2 431.61h3.6" stroke="#222" stroke-width="0.5" fill="none"/>
<rect x="444.25" y="416.41" width="9.5" height="8.61" fill="#f6821f" stroke="#5a3a10" stroke-width="0.4"/>
<path d="M444.25 418.59h9.5" stroke="#4a2a08" stroke-width="0.5"/>
<path d="M463.4 386.04L463.46 387.76L463.55 389.47L463.67 391.19L463.82 392.91L464.01 394.62L464.24 396.34L464.52 398.06L464.84 399.77L465.22 401.49L465.63 403.21L466.08 404.92L466.55 406.64L467.02 408.36L467.48 410.07L467.9 411.79L468.27 413.51L468.57 415.22L468.78 416.94L468.89 418.66L468.89 420.37L468.78 422.09L468.57 423.81L468.27 425.52L467.9 427.24L467.48 428.96L467.02 430.67L466.55 432.39L466.08 434.11L465.63 435.82L465.22 437.54L464.84 439.26L464.52 440.97L464.24 442.69L464.01 444.4L463.82 446.12L463.67 447.84L463.55 449.55L463.46 451.27L463.4 452.99" fill="none" stroke="#3a3a3a" stroke-width="0.55"/>
<path d="M463.4 408.01V410.61M463.4 430.98V435.39M461.6 408.01h3.6M461.6 435.39h3.6" stroke="#222" stroke-width="0.5" fill="none"/>
<rect x="458.65" y="410.61" width="9.5" height="20.37" fill="#f6821f" stroke="#5a3a10" stroke-width="0.4"/>
<path d="M458.65 417.58h9.5" stroke="#4a2a08" stroke-width="0.5"/>
<path d="M477.8 412.08L477.86 413.32L477.95 414.56L478.07 415.8L478.22 417.03L478.41 418.27L478.64 419.51L478.92 420.75L479.24 421.99L479.62 423.23L480.03 424.46L480.48 425.7L480.95 426.94L481.42 428.18L481.88 429.42L482.3 430.66L482.67 431.9L482.97 433.13L483.18 434.37L483.29 435.61L483.29 436.85L483.18 438.09L482.97 439.33L482.67 440.56L482.3 441.8L481.88 443.04L481.42 444.28L480.95 445.52L480.48 446.76L480.03 448L479.62 449.23L479.24 450.47L478.92 451.71L478.64 452.95L478.41 454.19L478.22 455.43L478.07 456.66L477.95 457.9L477.86 459.14L477.8 460.38" fill="none" stroke="#3a3a3a" stroke-width="0.55"/>
<path d="M477.8 432.2V433.29M477.8 439.21V443.92M476 432.2h3.6M476 443.92h3.6" stroke="#222" stroke-width="0.5" fill="none"/>
<rect x="473.05" y="433.29" width="9.5" height="5.92" fill="#f6821f" stroke="#5a3a10" stroke-width="0.4"/>
<path d="M473.05 435.68h9.5" stroke="#4a2a08" stroke-width="0.5"/>
<path d="M492.2 395.62L492.26 397.43L492.35 399.24L492.47 401.05L492.62 402.87L492.81 404.68L493.04 406.49L493.32 408.3L493.64 410.12L494.02 411.93L494.43 413.74L494.88 415.55L495.35 417.37L495.82 419.18L496.28 420.99L496.7 422.8L497.07 424.62L497.37 426.43L497.58 428.24L497.69 430.05L497.69 431.87L497.58 433.68L497.37 435.49L497.07 437.3L496.7 439.12L496.28 440.93L495.82 442.74L495.35 444.55L494.88 446.36L494.43 448.18L494.02 449.99L493.64 451.8L493.32 453.61L493.04 455.43L492.81 457.24L492.62 459.05L492.47 460.86L492.35 462.68L492.26 464.49L492.2 466.3" fill="none" stroke="#3a3a3a" stroke-width="0.55"/>
<path d="M492.2 410.19V426.7M492.2 439.21V451.01M490.4 410.19h3.6M490.4 451.01h3.6" stroke="#222" stroke-width="0.5" fill="none"/>
<rect x="487.45" y="426.7" width="9.5" height="12.52" fill="#f6821f" stroke="#5a3a10" stroke-width="0.4"/>
<path d="M487.45 434.51h9.5" stroke="#4a2a08" stroke-width="0.5"/>
<path d="M506.6 445.01L506.64 445.7L506.69 446.4L506.76 447.1L506.83 447.79L506.92 448.49L507.03 449.18L507.15 449.88L507.3 450.57L507.46 451.27L507.65 451.96L507.86 452.66L508.09 453.36L508.35 454.05L508.62 454.75L508.91 455.44L509.21 456.14L509.53 456.83L509.85 457.53L510.17 458.23L510.48 458.92L510.79 459.62L511.07 460.31L511.34 461.01L511.57 461.7L511.76 462.4L511.92 463.1L512.03 463.79L512.09 464.49L512.1 465.18L512.06 465.88L511.97 466.57L511.84 467.27L511.66 467.97L511.45 468.66L511.2 469.36L510.93 470.05L510.63 470.75L510.32 471.44L510 472.14" fill="none" stroke="#3a3a3a" stroke-width="0.55"/>
<path d="M506.6 454.5V459.71M506.6 471.51V471.72M504.8 454.5h3.6M504.8 471.72h3.6" stroke="#222" stroke-width="0.5" fill="none"/>
<rect x="501.85" y="459.71" width="9.5" height="11.8" fill="#f6821f" stroke="#5a3a10" stroke-width="0.4"/>
<path d="M501.85 468.7h9.5" stroke="#4a2a08" stroke-width="0.5"/>
<path d="M521 443.92L521.06 444.64L521.15 445.36L521.27 446.09L521.42 446.81L521.61 447.53L521.84 448.26L522.12 448.98L522.44 449.71L522.82 450.43L523.23 451.15L523.68 451.88L524.15 452.6L524.62 453.32L525.08 454.05L525.5 454.77L525.87 455.5L526.17 456.22L526.38 456.94L526.49 457.67L526.49 458.39L526.38 459.11L526.17 459.84L525.87 460.56L525.5 461.28L525.08 462.01L524.62 462.73L524.15 463.46L523.68 464.18L523.23 464.9L522.82 465.63L522.44 466.35L522.12 467.07L521.84 467.8L521.61 468.52L521.42 469.25L521.27 469.97L521.15 470.69L521.06 471.42L521 472.14" fill="none" stroke="#3a3a3a" stroke-width="0.55"/>
<path d="M521 451.01V455M521 462.02V462.69M519.2 451.01h3.6M519.2 462.69h3.6" stroke="#222" stroke-width="0.5" fill="none"/>
<rect x="516.25" y="455" width="9.5" height="7.01" fill="#f6821f" stroke="#5a3a10" stroke-width="0.4"/>
<path d="M516.25 460.38h9.5" stroke="#4a2a08" stroke-width="0.5"/>
<path d="M535.4 381L535.46 382.76L535.55 384.53L535.67 386.29L535.82 388.06L536.01 389.82L536.24 391.58L536.52 393.35L536.84 395.11L537.22 396.88L537.63 398.64L538.08 400.4L538.55 402.17L539.02 403.93L539.48 405.7L539.9 407.46L540.27 409.22L540.57 410.99L540.78 412.75L540.89 414.52L540.89 416.28L540.78 418.04L540.57 419.81L540.27 421.57L539.9 423.34L539.48 425.1L539.02 426.86L538.55 428.63L538.08 430.39L537.63 432.16L537.22 433.92L536.84 435.68L536.52 437.45L536.24 439.21L536.01 440.98L535.82 442.74L535.67 444.5L535.55 446.27L535.46 448.03L535.4 449.8" fill="none" stroke="#3a3a3a" stroke-width="0.55"/>
<path d="M535.4 402.71V409.01M535.4 419.68V429.8M533.6 402.71h3.6M533.6 429.8h3.6" stroke="#222" stroke-width="0.5" fill="none"/>
<rect x="530.65" y="409.01" width="9.5" height="10.67" fill="#f6821f" stroke="#5a3a10" stroke-width="0.4"/>
<path d="M530.65 413.3h9.5" stroke="#4a2a08" stroke-width="0.5"/>
<path d="M404.78 395.71h1.4v1.4h-1.4zM403.99 385.11h1.4v1.4h-1.4zM404.89 390.01h1.4v1.4h-1.4zM404.57 386.39h1.4v1.4h-1.4zM403.91 384.58h1.4v1.4h-1.4zM406.67 394.09h1.4v1.4h-1.4zM403.5 391.59h1.4v1.4h-1.4zM405.47 388.31h1.4v1.4h-1.4zM404.85 390.51h1.4v1.4h-1.4zM405.65 383.45h1.4v1.4h-1.4zM403.3 388.13h1.4v1.4h-1.4zM406.1 394.88h1.4v1.4h-1.4zM403.41 396.39h1.4v1.4h-1.4zM405.8 384.6h1.4v1.4h-1.4zM404.77 384.62h1.4v1.4h-1.4zM406.3 394.51h1.4v1.4h-1.4zM405.63 397.03h1.4v1.4h-1.4zM404.72 396.13h1.4v1.4h-1.4zM405.35 396.68h1.4v1.4h-1.4zM404.86 383.41h1.4v1.4h-1.4zM405.58 381.79h1.4v1.4h-1.4zM403.54 394.23h1.4v1.4h-1.4zM404.52 394.65h1.4v1.4h-1.4zM404.26 382.21h1.4v1.4h-1.4zM405.92 388.33h1.4v1.4h-1.4zM402.85 404.86h1.4v1.4h-1.4zM404.19 407.76h1.4v1.4h-1.4zM402.21 409.5h1.4v1.4h-1.4zM404.59 400.97h1.4v1.4h-1.4zM405.36 403.73h1.4v1.4h-1.4zM408.7 402.54h1.4v1.4h-1.4zM404.02 405.2h1.4v1.4h-1.4zM405.58 403.75h1.4v1.4h-1.4zM404.58 403.55h1.4v1.4h-1.4zM405.16 399.21h1.4v1.4h-1.4zM405.76 407.52h1.4v1.4h-1.4zM403.84 411.41h1.4v1.4h-1.4zM401.66 402.6h1.4v1.4h-1.4zM406.82 411.33h1.4v1.4h-1.4zM404.99 402.6h1.4v1.4h-1.4zM402.9 411.49h1.4v1.4h-1.4zM405.87 407.59h1.4v1.4h-1.4zM406.46 411.83h1.4v1.4h-1.4zM401.5 409.47h1.4v1.4h-1.4zM405.37 410.34h1.4v1.4h-1.4zM404.27 406.89h1.4v1.4h-1.4zM408.14 405.37h1.4v1.4h-1.4zM402.83 411.89h1.4v1.4h-1.4zM406.89 397.92h1.4v1.4h-1.4zM403.67 403.78h1.4v1.4h-1.4zM408.7 401.06h1.4v1.4h-1.4zM406.92 408.89h1.4v1.4h-1.4zM406.01 402.57h1.4v1.4h-1.4zM404.27 408.17h1.4v1.4h-1.4zM406.32 404.13h1.4v1.4h-1.4zM407.53 400.37h1.4v1.4h-1.4zM403.37 410.78h1.4v1.4h-1.4zM404.81 410.09h1.4v1.4h-1.4zM404.28 401.27h1.4v1.4h-1.4zM406.18 403.85h1.4v1.4h-1.4zM407.24 397.34h1.4v1.4h-1.4zM401.5 410.47h1.4v1.4h-1.4zM405.94 408.14h1.4v1.4h-1.4zM402.7 408.18h1.4v1.4h-1.4zM402.2 407.86h1.4v1.4h-1.4zM403.54 410.19h1.4v1.4h-1.4zM406.79 409.42h1.4v1.4h-1.4zM406.22 406.26h1.4v1.4h-1.4zM401.71 409.08h1.4v1.4h-1.4zM404.34 403.57h1.4v1.4h-1.4zM405.71 406.91h1.4v1.4h-1.4zM406.53 401.05h1.4v1.4h-1.4zM404.77 408.92h1.4v1.4h-1.4zM405.11 406.25h1.4v1.4h-1.4zM406.22 412.49h1.4v1.4h-1.4zM406.54 407.22h1.4v1.4h-1.4zM407.96 399.15h1.4v1.4h-1.4zM403.09 400.39h1.4v1.4h-1.4zM402.11 397.61h1.4v1.4h-1.4zM402.69 410.21h1.4v1.4h-1.4zM402.79 438.24h1.4v1.4h-1.4zM405.54 426.06h1.4v1.4h-1.4zM404.14 446.34h1.4v1.4h-1.4zM405.12 428.19h1.4v1.4h-1.4zM407.45 439.25h1.4v1.4h-1.4zM408.19 412.96h1.4v1.4h-1.4zM402.72 427.07h1.4v1.4h-1.4zM407.98 436.19h1.4v1.4h-1.4zM405.72 422.18h1.4v1.4h-1.4zM403.65 440.98h1.4v1.4h-1.4zM400.58 435.13h1.4v1.4h-1.4zM405.83 419.44h1.4v1.4h-1.4zM409.23 436.24h1.4v1.4h-1.4zM405.21 429.07h1.4v1.4h-1.4zM401.78 449.98h1.4v1.4h-1.4zM409.7 445.99h1.4v1.4h-1.4zM406.46 441.01h1.4v1.4h-1.4zM404.77 430.15h1.4v1.4h-1.4zM404.32 435.98h1.4v1.4h-1.4zM409.7 434.69h1.4v1.4h-1.4zM402.65 439.45h1.4v1.4h-1.4zM404.3 414.92h1.4v1.4h-1.4zM404.88 415.65h1.4v1.4h-1.4zM405.7 423.24h1.4v1.4h-1.4zM404.76 434.26h1.4v1.4h-1.4zM403.92 433.93h1.4v1.4h-1.4zM407.07 437.04h1.4v1.4h-1.4zM405.91 446.16h1.4v1.4h-1.4zM409.05 445.47h1.4v1.4h-1.4zM407.37 442.95h1.4v1.4h-1.4zM401.44 433.56h1.4v1.4h-1.4zM405.72 425.51h1.4v1.4h-1.4zM405.04 429.49h1.4v1.4h-1.4zM403.8 430.16h1.4v1.4h-1.4zM407.21 431.26h1.4v1.4h-1.4zM407.16 418.27h1.4v1.4h-1.4zM403.11 423.21h1.4v1.4h-1.4zM409.56 435.14h1.4v1.4h-1.4zM404.84 441.28h1.4v1.4h-1.4zM406.02 431.89h1.4v1.4h-1.4zM401.35 425.07h1.4v1.4h-1.4zM406.34 419.95h1.4v1.4h-1.4zM402.25 425.18h1.4v1.4h-1.4zM401.31 437.03h1.4v1.4h-1.4zM405.44 447.63h1.4v1.4h-1.4zM408.5 414.12h1.4v1.4h-1.4zM403.45 432.7h1.4v1.4h-1.4zM402.56 435.15h1.4v1.4h-1.4zM408.09 441.96h1.4v1.4h-1.4zM407.63 417.12h1.4v1.4h-1.4zM405.06 418.18h1.4v1.4h-1.4zM405.94 417.93h1.4v1.4h-1.4zM402.65 425.06h1.4v1.4h-1.4zM401.99 422.96h1.4v1.4h-1.4zM401.74 432.49h1.4v1.4h-1.4zM404.3 445.59h1.4v1.4h-1.4zM407.1 443.47h1.4v1.4h-1.4zM404.33 444.28h1.4v1.4h-1.4zM405.19 414.31h1.4v1.4h-1.4zM406.86 448.85h1.4v1.4h-1.4zM400.5 432.39h1.4v1.4h-1.4zM407.51 444.7h1.4v1.4h-1.4zM405.96 415.68h1.4v1.4h-1.4zM402.57 416.06h1.4v1.4h-1.4zM404.54 424.91h1.4v1.4h-1.4zM401.41 425.45h1.4v1.4h-1.4zM406.56 444.48h1.4v1.4h-1.4zM405.16 446.12h1.4v1.4h-1.4zM404.57 435.82h1.4v1.4h-1.4zM402 417.87h1.4v1.4h-1.4zM406.14 444.25h1.4v1.4h-1.4zM406.34 415.77h1.4v1.4h-1.4zM406.68 449.43h1.4v1.4h-1.4zM401.29 426.56h1.4v1.4h-1.4zM404.27 443.24h1.4v1.4h-1.4zM403.96 430.1h1.4v1.4h-1.4zM407.28 437.27h1.4v1.4h-1.4zM407.02 442.67h1.4v1.4h-1.4zM406.25 442.4h1.4v1.4h-1.4zM407.32 439.3h1.4v1.4h-1.4zM405.26 417.02h1.4v1.4h-1.4zM409.7 422h1.4v1.4h-1.4zM404.5 439.66h1.4v1.4h-1.4zM405.02 430.53h1.4v1.4h-1.4zM402.24 417.39h1.4v1.4h-1.4zM405.85 423.14h1.4v1.4h-1.4zM405.75 440.1h1.4v1.4h-1.4zM408.02 418.21h1.4v1.4h-1.4zM406.03 425.46h1.4v1.4h-1.4zM402.13 438.69h1.4v1.4h-1.4zM405.2 427.21h1.4v1.4h-1.4zM405.29 431.41h1.4v1.4h-1.4zM406.73 415.88h1.4v1.4h-1.4zM405.36 443.91h1.4v1.4h-1.4zM403.93 447.06h1.4v1.4h-1.4zM405.41 423.49h1.4v1.4h-1.4zM405.51 430.91h1.4v1.4h-1.4zM402.62 447.5h1.4v1.4h-1.4zM403.16 437.04h1.4v1.4h-1.4zM405.37 443.32h1.4v1.4h-1.4zM407.7 426.68h1.4v1.4h-1.4zM405.55 443.77h1.4v1.4h-1.4zM405.05 420.39h1.4v1.4h-1.4zM406.28 424.4h1.4v1.4h-1.4zM405.27 418.73h1.4v1.4h-1.4zM401.33 443.63h1.4v1.4h-1.4zM403.85 426.68h1.4v1.4h-1.4zM408.1 432.57h1.4v1.4h-1.4zM405.43 422.81h1.4v1.4h-1.4zM402.45 447.79h1.4v1.4h-1.4zM400.5 413.44h1.4v1.4h-1.4zM405.49 426.47h1.4v1.4h-1.4zM404.81 428.79h1.4v1.4h-1.4zM409.7 421.6h1.4v1.4h-1.4zM402.92 433.13h1.4v1.4h-1.4zM406.65 444.3h1.4v1.4h-1.4zM408.12 433.61h1.4v1.4h-1.4zM406.73 431.05h1.4v1.4h-1.4zM402.5 422.68h1.4v1.4h-1.4zM405.51 441.54h1.4v1.4h-1.4zM403.17 448.15h1.4v1.4h-1.4zM404.17 421.96h1.4v1.4h-1.4zM406.76 445.09h1.4v1.4h-1.4zM401.24 418.54h1.4v1.4h-1.4zM407.47 438.4h1.4v1.4h-1.4zM409.19 425.11h1.4v1.4h-1.4zM407.07 446.41h1.4v1.4h-1.4zM404.36 432.98h1.4v1.4h-1.4zM409.49 431.54h1.4v1.4h-1.4zM406.07 445.62h1.4v1.4h-1.4zM400.93 424.23h1.4v1.4h-1.4zM402.87 441.13h1.4v1.4h-1.4zM405.93 421.21h1.4v1.4h-1.4zM405.49 437.18h1.4v1.4h-1.4zM406.5 429.81h1.4v1.4h-1.4zM406.33 427.31h1.4v1.4h-1.4zM403.26 435.28h1.4v1.4h-1.4zM404.13 425.78h1.4v1.4h-1.4zM405.98 438.62h1.4v1.4h-1.4zM409.7 441.47h1.4v1.4h-1.4zM407.69 446.88h1.4v1.4h-1.4zM408.48 444.14h1.4v1.4h-1.4zM406.85 434.83h1.4v1.4h-1.4zM404.77 421h1.4v1.4h-1.4zM403.82 425.58h1.4v1.4h-1.4zM401.98 438.62h1.4v1.4h-1.4zM405.04 426.54h1.4v1.4h-1.4zM405.96 419.55h1.4v1.4h-1.4zM403.6 426.2h1.4v1.4h-1.4zM401.03 426.88h1.4v1.4h-1.4zM400.5 423.97h1.4v1.4h-1.4zM400.5 434.35h1.4v1.4h-1.4zM408.84 425.42h1.4v1.4h-1.4zM409.22 422.55h1.4v1.4h-1.4zM407.49 427.79h1.4v1.4h-1.4zM406.68 415.28h1.4v1.4h-1.4zM406.43 449.17h1.4v1.4h-1.4zM401.81 423.26h1.4v1.4h-1.4zM409.7 449.07h1.4v1.4h-1.4zM405.05 423.68h1.4v1.4h-1.4zM405.47 435.76h1.4v1.4h-1.4zM404.09 448.33h1.4v1.4h-1.4zM401.55 434.07h1.4v1.4h-1.4zM405.87 432.08h1.4v1.4h-1.4zM407.8 417.85h1.4v1.4h-1.4zM406.36 435.71h1.4v1.4h-1.4zM401.79 431.32h1.4v1.4h-1.4zM400.5 416.72h1.4v1.4h-1.4zM409.26 436.9h1.4v1.4h-1.4zM408 435.04h1.4v1.4h-1.4zM401.67 443.3h1.4v1.4h-1.4zM404.15 423.15h1.4v1.4h-1.4zM409.7 425h1.4v1.4h-1.4zM404.25 449.99h1.4v1.4h-1.4zM404.28 437.63h1.4v1.4h-1.4zM405.4 435.69h1.4v1.4h-1.4zM406.14 437.51h1.4v1.4h-1.4zM404.88 417.72h1.4v1.4h-1.4zM407.48 427.12h1.4v1.4h-1.4zM404.47 433.35h1.4v1.4h-1.4zM404 454.23h1.4v1.4h-1.4zM401.66 453.25h1.4v1.4h-1.4zM405.66 453.69h1.4v1.4h-1.4zM408.7 455.15h1.4v1.4h-1.4zM406.25 458.83h1.4v1.4h-1.4zM407.51 459.61h1.4v1.4h-1.4zM405.78 458.5h1.4v1.4h-1.4zM405.72 454.23h1.4v1.4h-1.4zM401.5 454.65h1.4v1.4h-1.4zM404.06 452.4h1.4v1.4h-1.4zM404.57 456.58h1.4v1.4h-1.4zM406.61 453.44h1.4v1.4h-1.4zM404.71 454.55h1.4v1.4h-1.4zM401.86 457.35h1.4v1.4h-1.4zM401.52 451.85h1.4v1.4h-1.4zM404.54 452.74h1.4v1.4h-1.4zM405.27 455.08h1.4v1.4h-1.4zM408.7 458.73h1.4v1.4h-1.4zM402.75 458.38h1.4v1.4h-1.4zM403.86 453.55h1.4v1.4h-1.4zM403.97 458.06h1.4v1.4h-1.4zM408.43 458.67h1.4v1.4h-1.4zM404.5 455.98h1.4v1.4h-1.4zM404.74 457.9h1.4v1.4h-1.4zM406.11 455.39h1.4v1.4h-1.4zM401.5 456.96h1.4v1.4h-1.4zM407.26 453.09h1.4v1.4h-1.4zM405.23 451.66h1.4v1.4h-1.4zM406.33 451.25h1.4v1.4h-1.4zM401.62 455.92h1.4v1.4h-1.4zM407.26 458.33h1.4v1.4h-1.4zM406.6 455.76h1.4v1.4h-1.4zM408.7 455.36h1.4v1.4h-1.4zM405.02 459.04h1.4v1.4h-1.4zM407.78 454.96h1.4v1.4h-1.4zM406.93 453.82h1.4v1.4h-1.4zM405.04 454.51h1.4v1.4h-1.4zM401.5 452.77h1.4v1.4h-1.4zM406.99 451.04h1.4v1.4h-1.4zM405.15 457.53h1.4v1.4h-1.4zM408.29 452.4h1.4v1.4h-1.4zM405.27 452.33h1.4v1.4h-1.4zM402.21 454.57h1.4v1.4h-1.4zM405.33 453.67h1.4v1.4h-1.4zM405.33 451.91h1.4v1.4h-1.4zM406.05 452.59h1.4v1.4h-1.4zM406.49 456.23h1.4v1.4h-1.4zM405.13 457.18h1.4v1.4h-1.4zM401.77 451.55h1.4v1.4h-1.4zM402.64 450.83h1.4v1.4h-1.4zM405.17 461.83h1.4v1.4h-1.4zM405.2 464.56h1.4v1.4h-1.4zM406.46 471.32h1.4v1.4h-1.4zM405.3 462.84h1.4v1.4h-1.4zM406.37 464.9h1.4v1.4h-1.4zM405.44 463.32h1.4v1.4h-1.4zM404.67 464h1.4v1.4h-1.4zM407.3 465.42h1.4v1.4h-1.4zM405.05 465.03h1.4v1.4h-1.4zM405.03 470.08h1.4v1.4h-1.4zM405.35 470.24h1.4v1.4h-1.4zM406.32 469.44h1.4v1.4h-1.4zM404.82 467.46h1.4v1.4h-1.4zM405.42 468.95h1.4v1.4h-1.4zM404.39 463.81h1.4v1.4h-1.4zM405.68 467.53h1.4v1.4h-1.4zM402.9 463.96h1.4v1.4h-1.4zM404.33 467.08h1.4v1.4h-1.4zM404.5 468.06h1.4v1.4h-1.4zM404.9 461.14h1.4v1.4h-1.4zM404.62 466.42h1.4v1.4h-1.4zM406.33 470.79h1.4v1.4h-1.4zM406.01 467.48h1.4v1.4h-1.4zM403.96 461.3h1.4v1.4h-1.4zM405.42 461.68h1.4v1.4h-1.4zM406.89 463.78h1.4v1.4h-1.4zM404.42 465.5h1.4v1.4h-1.4zM404.75 462.41h1.4v1.4h-1.4zM405.78 468.04h1.4v1.4h-1.4zM403.46 463.34h1.4v1.4h-1.4zM421.82 444.8h1.4v1.4h-1.4zM417.55 455.94h1.4v1.4h-1.4zM417.77 453.74h1.4v1.4h-1.4zM420.69 448.93h1.4v1.4h-1.4zM422.34 443.26h1.4v1.4h-1.4zM418.78 447.01h1.4v1.4h-1.4zM421.71 448.02h1.4v1.4h-1.4zM419.06 448.84h1.4v1.4h-1.4zM416.81 452.86h1.4v1.4h-1.4zM416.19 447.33h1.4v1.4h-1.4zM416.79 450.91h1.4v1.4h-1.4zM417.54 443.34h1.4v1.4h-1.4zM420.78 449.97h1.4v1.4h-1.4zM421.64 445.85h1.4v1.4h-1.4zM417.05 443.28h1.4v1.4h-1.4zM421.41 442.65h1.4v1.4h-1.4zM418.78 457.37h1.4v1.4h-1.4zM418.59 442.04h1.4v1.4h-1.4zM419.6 463.25h1.4v1.4h-1.4zM419.5 471.52h1.4v1.4h-1.4zM431.14 416.41h1.4v1.4h-1.4zM434.8 404.08h1.4v1.4h-1.4zM431.14 397.27h1.4v1.4h-1.4zM437.2 414.28h1.4v1.4h-1.4zM437.15 401.44h1.4v1.4h-1.4zM435 397.24h1.4v1.4h-1.4zM434.9 406.02h1.4v1.4h-1.4zM431.48 410.41h1.4v1.4h-1.4zM433.11 404.76h1.4v1.4h-1.4zM431.06 406.48h1.4v1.4h-1.4zM431.39 407.01h1.4v1.4h-1.4zM434.33 396.22h1.4v1.4h-1.4zM434.17 411.99h1.4v1.4h-1.4zM435.24 416.11h1.4v1.4h-1.4zM434.63 401.29h1.4v1.4h-1.4zM436.02 410.07h1.4v1.4h-1.4zM433.31 420.28h1.4v1.4h-1.4zM434.2 394.33h1.4v1.4h-1.4zM450.73 415.65h1.4v1.4h-1.4zM447.24 416.03h1.4v1.4h-1.4zM450.48 415.35h1.4v1.4h-1.4zM449.08 422.64h1.4v1.4h-1.4zM447.5 415.68h1.4v1.4h-1.4zM446.13 427.44h1.4v1.4h-1.4zM451.11 415.53h1.4v1.4h-1.4zM446 424.09h1.4v1.4h-1.4zM447.34 416.13h1.4v1.4h-1.4zM446.3 415.91h1.4v1.4h-1.4zM451.09 415.35h1.4v1.4h-1.4zM446.61 420.26h1.4v1.4h-1.4zM446.1 415.61h1.4v1.4h-1.4zM449.77 423.19h1.4v1.4h-1.4zM446.77 420.87h1.4v1.4h-1.4zM447.3 421.69h1.4v1.4h-1.4zM448.72 430.91h1.4v1.4h-1.4zM447.65 415.33h1.4v1.4h-1.4zM459.94 409.01h1.4v1.4h-1.4zM459.59 411.94h1.4v1.4h-1.4zM459.84 412.69h1.4v1.4h-1.4zM464.98 424.8h1.4v1.4h-1.4zM460.12 411.02h1.4v1.4h-1.4zM463.1 407.9h1.4v1.4h-1.4zM461.02 421.37h1.4v1.4h-1.4zM463.65 432.91h1.4v1.4h-1.4zM460.96 407.41h1.4v1.4h-1.4zM462.76 411.96h1.4v1.4h-1.4zM464.62 408.28h1.4v1.4h-1.4zM459.33 431.6h1.4v1.4h-1.4zM465.13 434.5h1.4v1.4h-1.4zM463.64 414.5h1.4v1.4h-1.4zM463.24 414.93h1.4v1.4h-1.4zM463.32 412.42h1.4v1.4h-1.4zM462.63 434.69h1.4v1.4h-1.4zM463.59 407.31h1.4v1.4h-1.4zM479.77 437.47h1.4v1.4h-1.4zM475.13 433.67h1.4v1.4h-1.4zM477.9 441.3h1.4v1.4h-1.4zM477.23 432.16h1.4v1.4h-1.4zM479.93 432.44h1.4v1.4h-1.4zM475.23 442.24h1.4v1.4h-1.4zM477.21 433.94h1.4v1.4h-1.4zM475.03 433.96h1.4v1.4h-1.4zM474.39 431.77h1.4v1.4h-1.4zM480.3 431.94h1.4v1.4h-1.4zM480.06 435.79h1.4v1.4h-1.4zM476.19 433.2h1.4v1.4h-1.4zM476.35 432.62h1.4v1.4h-1.4zM478.43 437.28h1.4v1.4h-1.4zM477.07 432.33h1.4v1.4h-1.4zM476.13 433.55h1.4v1.4h-1.4zM477.33 443.22h1.4v1.4h-1.4zM477.93 431.5h1.4v1.4h-1.4zM477.3 422.01h1.4v1.4h-1.4zM477.2 451.49h1.4v1.4h-1.4zM491.4 426.59h1.4v1.4h-1.4zM492.82 421.51h1.4v1.4h-1.4zM493.97 416.22h1.4v1.4h-1.4zM494.31 438.32h1.4v1.4h-1.4zM492.17 415.84h1.4v1.4h-1.4zM488.71 434.91h1.4v1.4h-1.4zM492.59 411.89h1.4v1.4h-1.4zM488.31 446.39h1.4v1.4h-1.4zM490.18 436.4h1.4v1.4h-1.4zM492.78 436.25h1.4v1.4h-1.4zM494.79 412.42h1.4v1.4h-1.4zM493.32 426.77h1.4v1.4h-1.4zM491.58 409.94h1.4v1.4h-1.4zM490.23 436.95h1.4v1.4h-1.4zM492.75 416.65h1.4v1.4h-1.4zM491.87 435.41h1.4v1.4h-1.4zM491.81 450.31h1.4v1.4h-1.4zM491.36 409.49h1.4v1.4h-1.4zM507.67 467.15h1.4v1.4h-1.4zM508.96 457.72h1.4v1.4h-1.4zM505.48 468.04h1.4v1.4h-1.4zM507.09 470.9h1.4v1.4h-1.4zM503.73 470.94h1.4v1.4h-1.4zM503.41 464.16h1.4v1.4h-1.4zM509.22 462.24h1.4v1.4h-1.4zM505.59 470.94h1.4v1.4h-1.4zM504.92 470.81h1.4v1.4h-1.4zM503.5 470.87h1.4v1.4h-1.4zM505.27 470.77h1.4v1.4h-1.4zM504.75 461.39h1.4v1.4h-1.4zM506.06 455.55h1.4v1.4h-1.4zM506.65 456.61h1.4v1.4h-1.4zM503.27 460.05h1.4v1.4h-1.4zM502.58 470.86h1.4v1.4h-1.4zM506.34 471.02h1.4v1.4h-1.4zM505.63 453.8h1.4v1.4h-1.4zM521.9 457.69h1.4v1.4h-1.4zM518.39 456.86h1.4v1.4h-1.4zM523.62 456.63h1.4v1.4h-1.4zM519.51 454.93h1.4v1.4h-1.4zM521.6 453.24h1.4v1.4h-1.4zM518.78 455.74h1.4v1.4h-1.4zM517.62 456.93h1.4v1.4h-1.4zM523.51 461.58h1.4v1.4h-1.4zM518.27 456.34h1.4v1.4h-1.4zM520.1 458.21h1.4v1.4h-1.4zM518.23 452.44h1.4v1.4h-1.4zM518.87 453.24h1.4v1.4h-1.4zM521.84 461.53h1.4v1.4h-1.4zM518.39 461.42h1.4v1.4h-1.4zM520.7 461.64h1.4v1.4h-1.4zM520.69 458.6h1.4v1.4h-1.4zM519.37 461.99h1.4v1.4h-1.4zM520.74 450.31h1.4v1.4h-1.4zM536.28 411.6h1.4v1.4h-1.4zM535.13 407.84h1.4v1.4h-1.4zM536.14 411.36h1.4v1.4h-1.4zM532.28 411.18h1.4v1.4h-1.4zM537.42 419.29h1.4v1.4h-1.4zM537.64 425h1.4v1.4h-1.4zM534.99 406.96h1.4v1.4h-1.4zM536.96 422.24h1.4v1.4h-1.4zM537.57 408.64h1.4v1.4h-1.4zM532.54 409.13h1.4v1.4h-1.4zM535.86 417.18h1.4v1.4h-1.4zM531.84 419.68h1.4v1.4h-1.4zM532.8 404.79h1.4v1.4h-1.4zM531.59 423.75h1.4v1.4h-1.4zM537.09 411.7h1.4v1.4h-1.4zM531.89 412.67h1.4v1.4h-1.4zM535.52 429.1h1.4v1.4h-1.4zM533.72 402.01h1.4v1.4h-1.4zM534.9 438.51h1.4v1.4h-1.4z" fill="#000"/>
<path d="M397.8 368V483.7H543M397.8 473.4h-2M397.8 452.4h-2M397.8 431.4h-2M397.8 410.4h-2M397.8 389.4h-2M397.8 368.4h-2M397.8 462.9h-1.1M397.8 441.9h-1.1M397.8 420.9h-1.1M397.8 399.9h-1.1M397.8 378.9h-1.1M405.8 483.7v2M420.2 483.7v2M434.6 483.7v2M449 483.7v2M463.4 483.7v2M477.8 483.7v2M492.2 483.7v2M506.6 483.7v2M521 483.7v2M535.4 483.7v2" stroke="#4a4a4a" stroke-width="0.7" fill="none"/>
<text x="394.6" y="475.6" font-size="6.3" text-anchor="end" fill="#111">0</text>
<text x="394.6" y="454.6" font-size="6.3" text-anchor="end" fill="#111">500</text>
<text x="394.6" y="433.6" font-size="6.3" text-anchor="end" fill="#111">1000</text>
<text x="394.6" y="412.6" font-size="6.3" text-anchor="end" fill="#111">1500</text>
<text x="394.6" y="391.6" font-size="6.3" text-anchor="end" fill="#111">2000</text>
<text x="394.6" y="370.6" font-size="6.3" text-anchor="end" fill="#111">2500</text>
<text x="417" y="492.7" font-size="6.55" text-anchor="end" fill="#111" transform="rotate(-27 417 492.7)">National</text>
<text x="431.4" y="492.7" font-size="6.55" text-anchor="end" fill="#111" transform="rotate(-27 431.4 492.7)">Gansu</text>
<text x="445.8" y="492.7" font-size="6.55" text-anchor="end" fill="#111" transform="rotate(-27 445.8 492.7)">Guangxi</text>
<text x="460.2" y="492.7" font-size="6.55" text-anchor="end" fill="#111" transform="rotate(-27 460.2 492.7)">Guizhou</text>
<text x="474.6" y="492.7" font-size="6.55" text-anchor="end" fill="#111" transform="rotate(-27 474.6 492.7)">Hubei</text>
<text x="489" y="492.7" font-size="6.55" text-anchor="end" fill="#111" transform="rotate(-27 489 492.7)">Shaanxi</text>
<text x="503.4" y="492.7" font-size="6.55" text-anchor="end" fill="#111" transform="rotate(-27 503.4 492.7)">Sichuan</text>
<text x="517.8" y="492.7" font-size="6.55" text-anchor="end" fill="#111" transform="rotate(-27 517.8 492.7)">Xinjiang</text>
<text x="532.2" y="492.7" font-size="6.55" text-anchor="end" fill="#111" transform="rotate(-27 532.2 492.7)">Xizang</text>
<text x="546.6" y="492.7" font-size="6.55" text-anchor="end" fill="#111" transform="rotate(-27 546.6 492.7)">Yunnan</text>
<text x="379.6" y="425.9" font-size="6.58" text-anchor="middle" fill="#111" transform="rotate(-90 379.6 425.9)">Annual precipitation (mm)</text>
<text x="367.8" y="366.8" font-size="9.2" text-anchor="start" fill="#000">L</text>
</svg>
</body></html>
